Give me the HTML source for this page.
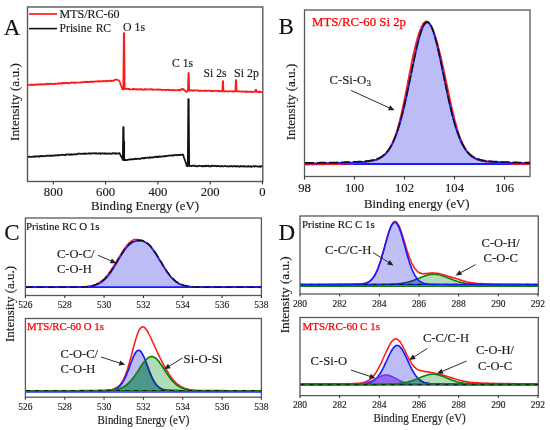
<!DOCTYPE html>
<html><head><meta charset="utf-8"><style>
html,body{margin:0;padding:0;background:#fff;}
body{width:550px;height:430px;overflow:hidden;}
svg{display:block;font-family:"Liberation Serif",serif;filter:blur(0.3px);}
</style></head><body>
<svg width="550" height="430" viewBox="0 0 550 430">
<rect width="550" height="430" fill="#fff"/>
<rect x="27.50" y="7.00" width="235.30" height="174.50" fill="none" stroke="#585858" stroke-width="1.40"/>
<line x1="53.30" y1="181.50" x2="53.30" y2="184.50" stroke="#333" stroke-width="1.10" />
<text x="53.30" y="196.00" font-size="12.70" fill="#1a1a1a" text-anchor="middle" stroke="#1a1a1a" stroke-width="0.15" >800</text>
<line x1="105.60" y1="181.50" x2="105.60" y2="184.50" stroke="#333" stroke-width="1.10" />
<text x="105.60" y="196.00" font-size="12.70" fill="#1a1a1a" text-anchor="middle" stroke="#1a1a1a" stroke-width="0.15" >600</text>
<line x1="157.90" y1="181.50" x2="157.90" y2="184.50" stroke="#333" stroke-width="1.10" />
<text x="157.90" y="196.00" font-size="12.70" fill="#1a1a1a" text-anchor="middle" stroke="#1a1a1a" stroke-width="0.15" >400</text>
<line x1="210.20" y1="181.50" x2="210.20" y2="184.50" stroke="#333" stroke-width="1.10" />
<text x="210.20" y="196.00" font-size="12.70" fill="#1a1a1a" text-anchor="middle" stroke="#1a1a1a" stroke-width="0.15" >200</text>
<line x1="262.50" y1="181.50" x2="262.50" y2="184.50" stroke="#333" stroke-width="1.10" />
<text x="262.50" y="196.00" font-size="12.70" fill="#1a1a1a" text-anchor="middle" stroke="#1a1a1a" stroke-width="0.15" >0</text>
<text x="145.00" y="209.50" font-size="12.80" fill="#1a1a1a" text-anchor="middle" textLength="108.00" lengthAdjust="spacingAndGlyphs" stroke="#1a1a1a" stroke-width="0.15" >Binding Energy (eV)</text>
<text x="0.00" y="0.00" font-size="13.00" fill="#1a1a1a" text-anchor="middle" textLength="78.00" lengthAdjust="spacingAndGlyphs" stroke="#1a1a1a" stroke-width="0.15" transform="translate(18.6,102) rotate(-90)">Intensity (a.u.)</text>
<text x="3.80" y="34.50" font-size="23.00" fill="#111" text-anchor="start" stroke="#111" stroke-width="0.15" >A</text>
<line x1="29.00" y1="14.00" x2="57.00" y2="14.00" stroke="#ff1a1a" stroke-width="1.70" />
<line x1="29.00" y1="28.60" x2="57.00" y2="28.60" stroke="#111" stroke-width="1.60" />
<text x="59.60" y="17.60" font-size="12.00" fill="#1a1a1a" text-anchor="start" textLength="60.00" lengthAdjust="spacingAndGlyphs" stroke="#1a1a1a" stroke-width="0.15" >MTS/RC-60</text>
<text x="59.60" y="32.30" font-size="12.00" fill="#1a1a1a" text-anchor="start" textLength="51.50" lengthAdjust="spacingAndGlyphs" stroke="#1a1a1a" stroke-width="0.15" word-spacing="1">Prisine RC</text>
<text x="123.00" y="31.00" font-size="12.00" fill="#1a1a1a" text-anchor="start" textLength="22.00" lengthAdjust="spacingAndGlyphs" stroke="#1a1a1a" stroke-width="0.15" >O 1s</text>
<text x="172.00" y="66.60" font-size="12.00" fill="#1a1a1a" text-anchor="start" textLength="21.00" lengthAdjust="spacingAndGlyphs" stroke="#1a1a1a" stroke-width="0.15" >C 1s</text>
<text x="203.60" y="76.60" font-size="12.00" fill="#1a1a1a" text-anchor="start" textLength="23.00" lengthAdjust="spacingAndGlyphs" stroke="#1a1a1a" stroke-width="0.15" >Si 2s</text>
<text x="234.00" y="76.60" font-size="12.00" fill="#1a1a1a" text-anchor="start" textLength="25.00" lengthAdjust="spacingAndGlyphs" stroke="#1a1a1a" stroke-width="0.15" >Si 2p</text>
<path d="M28.0,84.8 28.5,85.0 29.0,84.8 29.5,85.0 30.0,85.0 30.5,84.5 31.0,84.4 31.5,85.1 32.0,84.6 32.5,84.5 33.0,85.2 33.5,84.7 34.0,85.0 34.5,84.7 35.0,84.8 35.5,84.3 36.0,84.7 36.5,84.9 37.0,84.6 37.5,84.7 38.0,84.6 38.5,84.1 39.0,84.7 39.5,84.5 40.0,84.2 40.5,83.9 41.0,84.7 41.5,84.3 42.0,84.5 42.5,84.6 43.0,84.4 43.5,84.6 44.0,84.1 44.5,84.4 45.0,84.1 45.5,84.5 46.0,84.4 46.5,83.7 47.0,83.7 47.5,83.8 48.0,84.4 48.5,83.9 49.0,84.1 49.5,83.7 50.0,83.9 50.5,83.8 51.0,83.7 51.5,83.9 52.0,83.9 52.5,84.1 53.0,83.9 53.5,84.1 54.0,84.0 54.5,84.1 55.0,83.8 55.5,83.3 56.0,83.9 56.5,84.0 57.0,83.9 57.5,83.6 58.0,83.7 58.5,83.2 59.0,83.7 59.5,83.5 60.0,83.2 60.5,83.0 61.0,83.7 61.5,83.7 62.0,82.9 62.5,83.5 63.0,83.1 63.5,82.9 64.0,83.0 64.5,83.4 65.0,83.5 65.5,82.7 66.0,83.2 66.5,82.6 67.0,83.2 67.5,82.9 68.0,83.3 68.5,83.4 69.0,82.9 69.5,83.4 70.0,82.7 70.5,82.5 71.0,82.9 71.5,82.4 72.0,82.5 72.5,82.7 73.0,82.8 73.5,82.4 74.0,82.3 74.5,83.0 75.0,82.5 75.5,83.0 76.0,82.9 76.5,82.4 77.0,82.5 77.5,82.5 78.0,82.6 78.5,82.5 79.0,82.5 79.5,82.5 80.0,82.8 80.5,82.4 81.0,82.3 81.5,82.5 82.0,82.0 82.5,82.1 83.0,82.6 83.5,82.2 84.0,82.2 84.5,81.7 85.0,82.0 85.5,82.2 86.0,81.6 86.5,82.1 87.0,82.1 87.5,81.6 88.0,82.1 88.5,81.9 89.0,82.1 89.5,81.8 90.0,82.1 90.5,82.1 91.0,81.4 91.5,81.4 92.0,81.9 92.5,82.2 93.0,81.5 93.5,81.6 94.0,81.7 94.5,81.5 95.0,81.5 95.5,81.4 96.0,81.4 96.5,81.6 97.0,81.3 97.5,81.4 98.0,81.7 98.5,81.0 99.0,81.5 99.5,81.6 100.0,81.2 100.5,81.1 101.0,81.6 101.5,81.0 102.0,81.0 102.5,81.2 103.0,81.4 103.5,80.8 104.0,81.0 104.5,81.0 105.0,81.4 105.5,81.0 106.0,81.4 106.5,80.7 107.0,80.9 107.5,81.1 108.0,81.3 108.5,80.9 109.0,80.7 109.5,80.5 110.0,80.9 110.5,80.6 111.0,81.1 111.5,81.1 112.0,80.5 112.5,80.5 113.0,81.0 113.5,80.6 114.0,80.6 114.5,80.0 115.0,79.6 115.5,79.6 116.0,79.8 116.5,79.5 117.0,79.7 117.5,79.9 118.0,80.1 118.5,80.3 119.0,80.9 119.5,81.4 120.0,82.4 120.5,84.4 121.0,85.5 121.5,86.8 122.0,88.9 122.5,89.4 123.0,89.3 123.3,89.2 123.8,33.0 124.2,33.0 124.7,89.2 125.0,89.1 125.5,89.0 126.0,88.8 126.5,88.9 127.0,88.8 127.5,88.7 128.0,89.1 128.5,88.9 129.0,89.4 129.5,88.7 130.0,89.5 130.5,89.3 131.0,89.5 131.5,89.5 132.0,89.5 132.5,89.2 133.0,88.7 133.5,89.4 134.0,88.9 134.5,89.0 135.0,89.4 135.5,89.3 136.0,89.2 136.5,89.6 137.0,89.4 137.5,89.1 138.0,89.1 138.5,89.6 139.0,89.3 139.5,89.6 140.0,89.2 140.5,89.1 141.0,89.4 141.5,89.6 142.0,89.1 142.5,89.6 143.0,89.8 143.5,89.7 144.0,89.7 144.5,89.0 145.0,89.6 145.5,89.8 146.0,89.1 146.5,89.3 147.0,89.3 147.5,89.5 148.0,89.4 148.5,89.5 149.0,89.8 149.5,89.1 150.0,89.1 150.5,89.2 151.0,89.2 151.5,89.2 152.0,90.0 152.5,89.9 153.0,89.2 153.5,89.6 154.0,89.5 154.5,89.5 155.0,89.5 155.5,89.8 156.0,89.8 156.5,89.6 157.0,89.4 157.5,89.6 158.0,89.4 158.5,89.8 159.0,89.9 159.5,89.6 160.0,89.4 160.5,89.5 161.0,89.7 161.5,89.9 162.0,90.1 162.5,89.7 163.0,90.1 163.5,90.0 164.0,89.8 164.5,89.8 165.0,89.9 165.5,90.1 166.0,89.8 166.5,90.1 167.0,89.9 167.5,89.7 168.0,90.0 168.5,90.1 169.0,89.6 169.5,89.9 170.0,89.9 170.5,90.3 171.0,90.4 171.5,89.9 172.0,90.4 172.5,90.3 173.0,89.8 173.5,90.0 174.0,89.7 174.5,90.4 175.0,90.2 175.5,90.5 176.0,90.4 176.5,90.3 177.0,90.3 177.5,90.2 178.0,89.8 178.5,90.3 179.0,89.7 179.5,89.9 180.0,90.5 180.5,89.6 181.0,89.4 181.5,89.2 182.0,89.6 182.5,88.8 183.0,88.9 183.5,89.9 184.0,89.5 184.5,90.4 185.0,90.6 185.5,91.2 186.0,91.6 186.5,91.7 187.0,92.0 187.5,90.9 187.9,91.0 188.4,73.3 188.8,73.0 189.2,90.4 189.5,90.1 190.0,90.6 190.5,90.8 191.0,90.1 191.5,90.3 192.0,90.5 192.5,90.8 193.0,90.3 193.5,90.2 194.0,90.3 194.5,90.6 195.0,90.8 195.5,90.4 196.0,90.4 196.5,90.5 197.0,90.4 197.5,90.5 198.0,90.2 198.5,90.6 199.0,91.0 199.5,90.6 200.0,90.9 200.5,90.3 201.0,90.8 201.5,90.9 202.0,90.8 202.5,90.7 203.0,90.7 203.5,90.8 204.0,91.1 204.5,90.4 205.0,90.4 205.5,91.0 206.0,91.1 206.5,90.8 207.0,90.7 207.5,91.0 208.0,90.5 208.5,90.6 209.0,90.6 209.5,90.9 210.0,90.7 210.5,90.6 211.0,91.1 211.5,91.3 212.0,90.7 212.5,91.1 213.0,90.8 213.5,91.3 214.0,91.0 214.5,90.8 215.0,90.7 215.5,90.6 216.0,91.0 216.5,90.9 217.0,90.7 217.5,90.9 218.0,90.9 218.5,91.3 219.0,90.7 219.5,91.5 220.0,91.1 220.5,91.2 221.0,91.1 221.5,91.4 222.0,91.4 222.3,91.1 222.8,81.0 223.1,81.0 223.5,91.1 223.5,91.4 224.0,91.5 224.5,91.1 225.0,91.4 225.5,91.6 226.0,91.2 226.5,91.0 227.0,91.0 227.5,91.4 228.0,91.4 228.5,91.7 229.0,91.6 229.5,91.1 230.0,91.0 230.5,91.1 231.0,91.0 231.5,91.5 232.0,91.7 232.5,91.7 233.0,91.1 233.5,91.7 234.0,91.2 234.5,91.3 235.0,91.6 235.4,91.1 235.8,80.0 236.2,80.0 236.6,91.1 237.0,91.3 237.5,91.3 238.0,91.5 238.5,91.6 239.0,91.1 239.5,91.4 240.0,91.5 240.5,91.5 241.0,91.3 241.5,91.6 242.0,92.0 242.5,91.5 243.0,91.6 243.5,91.3 244.0,91.4 244.5,91.8 245.0,91.3 245.5,92.0 246.0,92.0 246.5,91.3 247.0,92.1 247.5,91.6 248.0,91.9 248.5,91.9 249.0,91.5 249.5,91.9 250.0,91.9 250.5,92.0 251.0,91.5 251.5,92.0 252.0,92.2 252.5,91.9 253.0,91.8 253.5,91.5 254.0,91.8 254.5,91.7 255.0,92.0 255.3,91.9 255.8,89.5 256.1,89.5 256.7,91.9 257.0,92.0 257.5,92.0 258.0,91.6 258.5,92.3 259.0,92.1 259.5,91.6 260.0,92.3 260.5,91.6 261.0,91.8 261.5,92.2 262.0,92.1 262.5,92.1" fill="none" stroke="#ff1a1a" stroke-width="1.7" stroke-linejoin="round"/>
<path d="M28.0,157.1 28.5,156.9 29.0,156.8 29.5,156.7 30.0,156.5 30.5,157.0 31.0,157.0 31.5,156.8 32.0,157.0 32.5,156.6 33.0,156.5 33.5,156.6 34.0,156.9 34.5,156.2 35.0,156.6 35.5,156.4 36.0,156.7 36.5,156.4 37.0,156.3 37.5,156.4 38.0,156.4 38.5,156.6 39.0,156.2 39.5,156.6 40.0,156.0 40.5,156.1 41.0,155.9 41.5,155.9 42.0,156.4 42.5,156.3 43.0,155.9 43.5,155.8 44.0,156.0 44.5,156.2 45.0,156.2 45.5,156.2 46.0,156.0 46.5,155.6 47.0,155.8 47.5,155.6 48.0,155.8 48.5,155.8 49.0,155.5 49.5,155.5 50.0,155.9 50.5,155.3 51.0,155.9 51.5,155.9 52.0,155.9 52.5,155.4 53.0,155.6 53.5,155.5 54.0,155.6 54.5,155.8 55.0,155.5 55.5,155.2 56.0,155.6 56.5,155.3 57.0,155.4 57.5,155.4 58.0,154.8 58.5,155.4 59.0,155.3 59.5,155.1 60.0,155.1 60.5,155.0 61.0,154.8 61.5,155.0 62.0,154.6 62.5,154.9 63.0,155.0 63.5,154.8 64.0,154.9 64.5,155.2 65.0,155.1 65.5,154.5 66.0,155.0 66.5,154.8 67.0,154.3 67.5,154.5 68.0,154.4 68.5,154.2 69.0,154.6 69.5,154.9 70.0,154.4 70.5,154.8 71.0,154.6 71.5,154.1 72.0,154.7 72.5,154.4 73.0,154.7 73.5,154.5 74.0,154.4 74.5,154.1 75.0,154.4 75.5,154.5 76.0,154.4 76.5,154.1 77.0,154.3 77.5,154.0 78.0,153.7 78.5,153.6 79.0,153.6 79.5,153.7 80.0,153.6 80.5,153.9 81.0,154.0 81.5,153.8 82.0,153.7 82.5,153.9 83.0,153.6 83.5,153.7 84.0,153.9 84.5,153.6 85.0,153.3 85.5,153.9 86.0,153.8 86.5,153.5 87.0,153.5 87.5,153.6 88.0,153.7 88.5,153.4 89.0,153.2 89.5,153.4 90.0,153.8 90.5,153.3 91.0,153.6 91.5,153.4 92.0,153.4 92.5,153.3 93.0,153.5 93.5,153.3 94.0,153.2 94.5,153.3 95.0,153.3 95.5,153.6 96.0,153.2 96.5,153.2 97.0,153.6 97.5,153.5 98.0,153.8 98.5,153.2 99.0,153.5 99.5,153.5 100.0,153.2 100.5,154.0 101.0,153.4 101.5,153.3 102.0,153.6 102.5,153.3 103.0,153.7 103.5,153.5 104.0,153.3 104.5,153.2 105.0,153.8 105.5,153.4 106.0,153.8 106.5,153.6 107.0,153.9 107.5,153.4 108.0,153.4 108.5,153.4 109.0,153.9 109.5,153.7 110.0,153.5 110.5,153.3 111.0,153.7 111.5,154.0 112.0,153.7 112.5,153.2 113.0,153.2 113.5,153.3 114.0,153.3 114.5,153.2 115.0,153.2 115.5,153.7 116.0,153.9 116.5,153.4 117.0,153.7 117.5,153.3 118.0,153.5 118.5,153.6 119.0,153.7 119.5,152.9 120.0,154.1 120.5,155.2 121.0,156.4 121.5,156.6 122.0,157.7 122.5,159.1 122.8,160.1 123.2,127.0 123.6,127.0 124.0,160.1 124.5,160.2 125.0,160.3 125.5,159.7 126.0,160.1 126.5,160.0 127.0,160.1 127.5,159.8 128.0,160.0 128.5,159.6 129.0,159.5 129.5,159.3 130.0,159.7 130.5,159.5 131.0,159.2 131.5,159.1 132.0,159.5 132.5,159.4 133.0,159.4 133.5,159.1 134.0,159.1 134.5,158.8 135.0,159.2 135.5,158.6 136.0,158.9 136.5,159.1 137.0,159.0 137.5,158.5 138.0,158.5 138.5,159.0 139.0,158.8 139.5,158.9 140.0,158.8 140.5,158.5 141.0,158.8 141.5,158.6 142.0,158.2 142.5,158.2 143.0,157.9 143.5,158.1 144.0,158.5 144.5,157.8 145.0,158.1 145.5,157.7 146.0,157.6 146.5,158.0 147.0,157.7 147.5,157.5 148.0,157.5 148.5,157.8 149.0,157.8 149.5,157.2 150.0,157.4 150.5,157.9 151.0,157.3 151.5,157.5 152.0,157.3 152.5,157.6 153.0,157.4 153.5,157.5 154.0,157.2 154.5,156.9 155.0,156.8 155.5,156.7 156.0,157.3 156.5,156.6 157.0,156.5 157.5,157.2 158.0,156.6 158.5,157.1 159.0,156.4 159.5,156.6 160.0,156.4 160.5,156.8 161.0,156.6 161.5,156.6 162.0,156.6 162.5,156.7 163.0,156.2 163.5,156.4 164.0,156.2 164.5,155.9 165.0,156.4 165.5,156.2 166.0,156.3 166.5,155.8 167.0,156.0 167.5,155.9 168.0,156.0 168.5,155.5 169.0,155.6 169.5,155.7 170.0,155.3 170.5,155.6 171.0,155.7 171.5,155.4 172.0,155.6 172.5,155.5 173.0,155.1 173.5,155.2 174.0,155.7 174.5,155.1 175.0,155.1 175.5,154.8 176.0,154.9 176.5,154.8 177.0,155.3 177.5,155.1 178.0,155.2 178.5,155.2 179.0,154.9 179.5,155.1 180.0,154.7 180.5,154.6 181.0,155.0 181.5,154.9 182.0,154.9 182.5,154.4 183.0,154.6 183.5,155.8 184.0,157.7 184.5,159.1 185.0,160.1 185.5,162.0 186.0,162.9 186.5,165.5 187.0,166.1 187.5,165.7 187.8,166.0 188.3,99.0 188.7,99.0 189.2,166.0 189.5,166.1 190.0,165.7 190.5,165.9 191.0,165.8 191.5,166.1 192.0,166.1 192.5,165.8 193.0,165.6 193.5,165.8 194.0,165.9 194.5,165.6 195.0,165.7 195.5,166.2 196.0,166.1 196.5,166.3 197.0,166.3 197.5,166.3 198.0,165.9 198.5,165.7 199.0,165.8 199.5,165.9 200.0,166.0 200.5,166.0 201.0,165.9 201.5,166.3 202.0,165.8 202.5,166.0 203.0,166.3 203.5,166.3 204.0,165.9 204.5,165.8 205.0,166.3 205.5,165.6 206.0,165.7 206.5,166.1 207.0,166.1 207.5,165.8 208.0,165.7 208.5,165.8 209.0,166.3 209.5,166.0 210.0,166.5 210.5,166.3 211.0,166.5 211.5,165.7 212.0,165.8 212.5,165.7 213.0,166.0 213.5,166.0 214.0,165.7 214.5,166.1 215.0,165.8 215.5,166.0 216.0,165.9 216.5,166.4 217.0,166.1 217.5,165.9 218.0,165.8 218.5,166.1 219.0,166.2 219.5,166.3 220.0,166.5 220.5,166.4 221.0,166.0 221.5,165.9 222.0,166.4 222.5,166.4 223.0,166.2 223.5,166.4 224.0,166.2 224.5,166.0 225.0,165.9 225.5,165.8 226.0,166.3 226.5,166.5 227.0,166.5 227.5,166.2 228.0,166.3 228.5,166.6 229.0,166.5 229.5,166.3 230.0,166.2 230.5,166.3 231.0,166.0 231.5,166.0 232.0,166.4 232.5,166.6 233.0,166.3 233.5,166.2 234.0,166.1 234.5,166.2 235.0,166.5 235.5,166.2 236.0,166.7 236.5,166.0 237.0,166.1 237.5,166.3 238.0,166.2 238.5,166.6 239.0,166.6 239.5,166.7 240.0,166.4 240.5,165.9 241.0,166.4 241.5,166.4 242.0,166.3 242.5,166.2 243.0,166.5 243.5,166.7 244.0,166.0 244.5,166.5 245.0,166.3 245.5,166.4 246.0,166.7 246.5,166.7 247.0,166.5 247.5,166.1 248.0,166.7 248.5,166.1 249.0,166.3 249.5,166.7 250.0,166.3 250.5,166.2 251.0,166.8 251.5,166.8 252.0,166.3 252.5,166.3 253.0,166.3 253.5,166.1 254.0,166.2 254.5,166.8 255.0,166.1 255.5,166.2 256.0,166.2 256.5,166.1 257.0,166.5 257.5,166.7 258.0,166.7 258.5,166.6 259.0,166.7 259.5,166.1 260.0,166.3 260.5,166.9 261.0,166.1 261.5,166.3 262.0,166.5 262.5,166.3" fill="none" stroke="#111" stroke-width="1.7" stroke-linejoin="round"/>
<line x1="124.50" y1="159.50" x2="124.50" y2="141.00" stroke="#111" stroke-width="1.10" />
<rect x="304.50" y="10.00" width="225.50" height="166.50" fill="none" stroke="#585858" stroke-width="1.30"/>
<line x1="304.50" y1="176.50" x2="304.50" y2="179.50" stroke="#333" stroke-width="1.10" />
<text x="304.50" y="192.20" font-size="12.70" fill="#1a1a1a" text-anchor="middle" stroke="#1a1a1a" stroke-width="0.15" >98</text>
<line x1="354.50" y1="176.50" x2="354.50" y2="179.50" stroke="#333" stroke-width="1.10" />
<text x="354.50" y="192.20" font-size="12.70" fill="#1a1a1a" text-anchor="middle" stroke="#1a1a1a" stroke-width="0.15" >100</text>
<line x1="404.50" y1="176.50" x2="404.50" y2="179.50" stroke="#333" stroke-width="1.10" />
<text x="404.50" y="192.20" font-size="12.70" fill="#1a1a1a" text-anchor="middle" stroke="#1a1a1a" stroke-width="0.15" >102</text>
<line x1="454.50" y1="176.50" x2="454.50" y2="179.50" stroke="#333" stroke-width="1.10" />
<text x="454.50" y="192.20" font-size="12.70" fill="#1a1a1a" text-anchor="middle" stroke="#1a1a1a" stroke-width="0.15" >104</text>
<line x1="504.50" y1="176.50" x2="504.50" y2="179.50" stroke="#333" stroke-width="1.10" />
<text x="504.50" y="192.20" font-size="12.70" fill="#1a1a1a" text-anchor="middle" stroke="#1a1a1a" stroke-width="0.15" >106</text>
<text x="416.80" y="207.50" font-size="12.80" fill="#1a1a1a" text-anchor="middle" textLength="105.50" lengthAdjust="spacingAndGlyphs" stroke="#1a1a1a" stroke-width="0.15" >Binding energy (eV)</text>
<text x="0.00" y="0.00" font-size="12.80" fill="#1a1a1a" text-anchor="middle" textLength="76.50" lengthAdjust="spacingAndGlyphs" stroke="#1a1a1a" stroke-width="0.15" transform="translate(294.6,102) rotate(-90)">Intensity (a.u.)</text>
<text x="278.40" y="34.00" font-size="23.00" fill="#111" text-anchor="start" stroke="#111" stroke-width="0.15" >B</text>
<text x="312.00" y="26.00" font-size="12.80" fill="#ff0000" text-anchor="start" textLength="94.00" lengthAdjust="spacingAndGlyphs" stroke="#ff0000" stroke-width="0.25" >MTS/RC-60 Si 2p</text>
<path d="M305.0,164.0 305.0,163.4 305.5,163.4 306.0,163.4 306.5,163.4 307.0,163.4 307.5,163.4 308.0,163.4 308.5,163.4 309.0,163.4 309.5,163.4 310.0,163.4 310.5,163.4 311.0,163.3 311.5,163.3 312.0,163.3 312.5,163.3 313.0,163.3 313.5,163.3 314.0,163.3 314.5,163.3 315.0,163.3 315.5,163.3 316.0,163.3 316.5,163.3 317.0,163.3 317.5,163.3 318.0,163.3 318.5,163.3 319.0,163.3 319.5,163.2 320.0,163.2 320.5,163.2 321.0,163.2 321.5,163.2 322.0,163.2 322.5,163.2 323.0,163.2 323.5,163.2 324.0,163.2 324.5,163.2 325.0,163.2 325.5,163.2 326.0,163.1 326.5,163.1 327.0,163.1 327.5,163.1 328.0,163.1 328.5,163.1 329.0,163.1 329.5,163.1 330.0,163.1 330.5,163.1 331.0,163.1 331.5,163.1 332.0,163.0 332.5,163.0 333.0,163.0 333.5,163.0 334.0,163.0 334.5,163.0 335.0,163.0 335.5,163.0 336.0,163.0 336.5,163.0 337.0,162.9 337.5,162.9 338.0,162.9 338.5,162.9 339.0,162.9 339.5,162.9 340.0,162.9 340.5,162.9 341.0,162.8 341.5,162.8 342.0,162.8 342.5,162.8 343.0,162.8 343.5,162.8 344.0,162.8 344.5,162.7 345.0,162.7 345.5,162.7 346.0,162.7 346.5,162.7 347.0,162.7 347.5,162.7 348.0,162.6 348.5,162.6 349.0,162.6 349.5,162.6 350.0,162.6 350.5,162.6 351.0,162.5 351.5,162.5 352.0,162.5 352.5,162.5 353.0,162.5 353.5,162.4 354.0,162.4 354.5,162.4 355.0,162.4 355.5,162.3 356.0,162.3 356.5,162.3 357.0,162.3 357.5,162.3 358.0,162.2 358.5,162.2 359.0,162.2 359.5,162.1 360.0,162.1 360.5,162.1 361.0,162.0 361.5,162.0 362.0,162.0 362.5,161.9 363.0,161.9 363.5,161.9 364.0,161.8 364.5,161.8 365.0,161.7 365.5,161.7 366.0,161.6 366.5,161.6 367.0,161.5 367.5,161.5 368.0,161.4 368.5,161.3 369.0,161.3 369.5,161.2 370.0,161.1 370.5,161.0 371.0,161.0 371.5,160.9 372.0,160.8 372.5,160.7 373.0,160.6 373.5,160.4 374.0,160.3 374.5,160.2 375.0,160.0 375.5,159.9 376.0,159.7 376.5,159.6 377.0,159.4 377.5,159.2 378.0,159.0 378.5,158.8 379.0,158.6 379.5,158.3 380.0,158.1 380.5,157.8 381.0,157.5 381.5,157.2 382.0,156.8 382.5,156.5 383.0,156.1 383.5,155.7 384.0,155.3 384.5,154.9 385.0,154.4 385.5,153.9 386.0,153.4 386.5,152.9 387.0,152.3 387.5,151.7 388.0,151.0 388.5,150.4 389.0,149.6 389.5,148.9 390.0,148.1 390.5,147.3 391.0,146.4 391.5,145.5 392.0,144.6 392.5,143.6 393.0,142.6 393.5,141.5 394.0,140.4 394.5,139.2 395.0,138.0 395.5,136.7 396.0,135.4 396.5,134.0 397.0,132.6 397.5,131.2 398.0,129.6 398.5,128.1 399.0,126.5 399.5,124.8 400.0,123.1 400.5,121.3 401.0,119.5 401.5,117.6 402.0,115.7 402.5,113.7 403.0,111.7 403.5,109.7 404.0,107.6 404.5,105.4 405.0,103.3 405.5,101.0 406.0,98.8 406.5,96.5 407.0,94.2 407.5,91.8 408.0,89.5 408.5,87.1 409.0,84.7 409.5,82.2 410.0,79.8 410.5,77.4 411.0,74.9 411.5,72.5 412.0,70.0 412.5,67.6 413.0,65.1 413.5,62.7 414.0,60.3 414.5,58.0 415.0,55.7 415.5,53.4 416.0,51.1 416.5,48.9 417.0,46.8 417.5,44.7 418.0,42.7 418.5,40.7 419.0,38.8 419.5,37.0 420.0,35.3 420.5,33.7 421.0,32.1 421.5,30.7 422.0,29.4 422.5,28.1 423.0,27.0 423.5,26.0 424.0,25.2 424.5,24.4 425.0,23.8 425.5,23.3 426.0,22.9 426.5,22.6 427.0,22.5 427.5,22.5 428.0,22.7 428.5,22.9 429.0,23.3 429.5,23.9 430.0,24.5 430.5,25.3 431.0,26.2 431.5,27.2 432.0,28.4 432.5,29.6 433.0,31.0 433.5,32.4 434.0,34.0 434.5,35.6 435.0,37.4 435.5,39.2 436.0,41.1 436.5,43.1 437.0,45.1 437.5,47.2 438.0,49.4 438.5,51.6 439.0,53.8 439.5,56.1 440.0,58.5 440.5,60.8 441.0,63.2 441.5,65.6 442.0,68.1 442.5,70.5 443.0,72.9 443.5,75.4 444.0,77.8 444.5,80.3 445.0,82.7 445.5,85.1 446.0,87.6 446.5,89.9 447.0,92.3 447.5,94.7 448.0,97.0 448.5,99.2 449.0,101.5 449.5,103.7 450.0,105.9 450.5,108.0 451.0,110.1 451.5,112.1 452.0,114.1 452.5,116.1 453.0,118.0 453.5,119.9 454.0,121.7 454.5,123.4 455.0,125.1 455.5,126.8 456.0,128.4 456.5,130.0 457.0,131.5 457.5,132.9 458.0,134.3 458.5,135.7 459.0,137.0 459.5,138.2 460.0,139.4 460.5,140.6 461.0,141.7 461.5,142.8 462.0,143.8 462.5,144.8 463.0,145.7 463.5,146.6 464.0,147.5 464.5,148.3 465.0,149.1 465.5,149.8 466.0,150.5 466.5,151.2 467.0,151.8 467.5,152.4 468.0,153.0 468.5,153.5 469.0,154.0 469.5,154.5 470.0,155.0 470.5,155.4 471.0,155.8 471.5,156.2 472.0,156.6 472.5,156.9 473.0,157.2 473.5,157.5 474.0,157.8 474.5,158.1 475.0,158.4 475.5,158.6 476.0,158.8 476.5,159.0 477.0,159.2 477.5,159.4 478.0,159.6 478.5,159.8 479.0,159.9 479.5,160.1 480.0,160.2 480.5,160.3 481.0,160.5 481.5,160.6 482.0,160.7 482.5,160.8 483.0,160.9 483.5,161.0 484.0,161.1 484.5,161.1 485.0,161.2 485.5,161.3 486.0,161.4 486.5,161.4 487.0,161.5 487.5,161.5 488.0,161.6 488.5,161.6 489.0,161.7 489.5,161.7 490.0,161.8 490.5,161.8 491.0,161.9 491.5,161.9 492.0,161.9 492.5,162.0 493.0,162.0 493.5,162.1 494.0,162.1 494.5,162.1 495.0,162.1 495.5,162.2 496.0,162.2 496.5,162.2 497.0,162.3 497.5,162.3 498.0,162.3 498.5,162.3 499.0,162.4 499.5,162.4 500.0,162.4 500.5,162.4 501.0,162.4 501.5,162.5 502.0,162.5 502.5,162.5 503.0,162.5 503.5,162.5 504.0,162.6 504.5,162.6 505.0,162.6 505.5,162.6 506.0,162.6 506.5,162.6 507.0,162.7 507.5,162.7 508.0,162.7 508.5,162.7 509.0,162.7 509.5,162.7 510.0,162.8 510.5,162.8 511.0,162.8 511.5,162.8 512.0,162.8 512.5,162.8 513.0,162.8 513.5,162.8 514.0,162.9 514.5,162.9 515.0,162.9 515.5,162.9 516.0,162.9 516.5,162.9 517.0,162.9 517.5,162.9 518.0,163.0 518.5,163.0 519.0,163.0 519.5,163.0 520.0,163.0 520.5,163.0 521.0,163.0 521.5,163.0 522.0,163.0 522.5,163.0 523.0,163.1 523.5,163.1 524.0,163.1 524.5,163.1 525.0,163.1 525.5,163.1 526.0,163.1 526.5,163.1 527.0,163.1 527.5,163.1 528.0,163.1 528.5,163.2 529.0,163.2 529.5,163.2 530.0,163.2 530.0,164.0 Z" fill="#bcbcf6" stroke="none"/>
<line x1="305.00" y1="164.00" x2="530.00" y2="164.00" stroke="#1a1aff" stroke-width="1.80" />
<path d="M305.0,164.3 305.5,164.0 306.0,164.1 306.5,164.6 307.0,164.1 307.5,164.5 308.0,164.1 308.5,164.6 309.0,164.4 309.5,164.4 310.0,164.0 310.5,164.0 311.0,164.4 311.5,164.0 312.0,164.1 312.5,164.4 313.0,164.5 313.5,163.9 314.0,164.5 314.5,164.2 315.0,164.1 315.5,164.0 316.0,164.1 316.5,164.5 317.0,164.0 317.5,164.0 318.0,164.0 318.5,163.9 319.0,164.1 319.5,164.4 320.0,163.9 320.5,163.9 321.0,164.4 321.5,164.4 322.0,164.4 322.5,164.0 323.0,164.0 323.5,164.4 324.0,164.1 324.5,164.2 325.0,164.0 325.5,163.8 326.0,164.0 326.5,164.2 327.0,164.2 327.5,164.1 328.0,164.0 328.5,164.0 329.0,164.0 329.5,164.0 330.0,164.2 330.5,163.8 331.0,164.0 331.5,164.2 332.0,164.2 332.5,163.7 333.0,164.2 333.5,164.1 334.0,163.7 334.5,163.8 335.0,163.7 335.5,163.6 336.0,164.1 336.5,163.8 337.0,164.1 337.5,163.6 338.0,163.5 338.5,164.0 339.0,164.0 339.5,164.1 340.0,163.9 340.5,163.8 341.0,163.9 341.5,163.5 342.0,163.7 342.5,163.7 343.0,163.5 343.5,163.7 344.0,163.6 344.5,163.7 345.0,163.6 345.5,163.5 346.0,163.5 346.5,163.6 347.0,163.9 347.5,163.8 348.0,163.8 348.5,163.7 349.0,163.4 349.5,163.8 350.0,163.3 350.5,163.2 351.0,163.4 351.5,163.5 352.0,163.2 352.5,163.4 353.0,163.1 353.5,163.5 354.0,163.1 354.5,163.1 355.0,163.1 355.5,163.2 356.0,163.2 356.5,162.9 357.0,162.8 357.5,162.9 358.0,162.5 358.5,162.7 359.0,162.9 359.5,162.8 360.0,162.3 360.5,162.7 361.0,162.4 361.5,162.7 362.0,162.3 362.5,162.1 363.0,162.2 363.5,162.4 364.0,162.1 364.5,162.2 365.0,162.1 365.5,161.8 366.0,161.7 366.5,161.7 367.0,161.6 367.5,161.5 368.0,161.6 368.5,161.6 369.0,161.4 369.5,161.0 370.0,161.0 370.5,161.0 371.0,161.0 371.5,160.6 372.0,160.5 372.5,160.6 373.0,160.4 373.5,160.2 374.0,160.3 374.5,160.4 375.0,160.1 375.5,160.0 376.0,159.9 376.5,159.8 377.0,159.6 377.5,159.2 378.0,159.1 378.5,158.5 379.0,158.8 379.5,158.2 380.0,158.0 380.5,158.0 381.0,157.3 381.5,157.0 382.0,157.0 382.5,156.5 383.0,155.8 383.5,155.4 384.0,155.2 384.5,154.5 385.0,154.5 385.5,153.7 386.0,153.2 386.5,152.7 387.0,152.2 387.5,151.5 388.0,150.9 388.5,150.2 389.0,149.4 389.5,148.4 390.0,148.1 390.5,147.0 391.0,145.8 391.5,145.0 392.0,144.2 392.5,143.2 393.0,141.6 393.5,140.4 394.0,139.4 394.5,138.1 395.0,137.0 395.5,135.6 396.0,133.8 396.5,132.3 397.0,130.8 397.5,129.4 398.0,127.2 398.5,125.6 399.0,123.5 399.5,121.9 400.0,119.6 400.5,118.1 401.0,115.7 401.5,113.6 402.0,111.1 402.5,108.9 403.0,106.8 403.5,104.6 404.0,102.0 404.5,99.4 405.0,97.3 405.5,94.6 406.0,92.0 406.5,89.3 407.0,86.7 407.5,84.5 408.0,81.4 408.5,79.1 409.0,76.6 409.5,73.8 410.0,71.5 410.5,69.1 411.0,66.5 411.5,64.0 412.0,61.2 412.5,58.7 413.0,56.6 413.5,54.3 414.0,52.0 414.5,50.2 415.0,47.7 415.5,46.0 416.0,44.1 416.5,41.7 417.0,40.3 417.5,38.2 418.0,36.4 418.5,34.8 419.0,33.2 419.5,32.0 420.0,30.5 420.5,29.5 421.0,28.3 421.5,26.7 422.0,25.9 422.5,25.0 423.0,24.0 423.5,23.4 424.0,22.8 424.5,22.5 425.0,21.9 425.5,21.5 426.0,21.4 426.5,21.5 427.0,21.7 427.5,21.7 428.0,22.2 428.5,22.3 429.0,23.1 429.5,23.6 430.0,24.0 430.5,25.1 431.0,25.8 431.5,26.8 432.0,27.8 432.5,28.9 433.0,30.0 433.5,31.0 434.0,32.8 434.5,34.2 435.0,35.5 435.5,37.1 436.0,38.5 436.5,40.6 437.0,42.2 437.5,43.7 438.0,45.9 438.5,47.9 439.0,49.5 439.5,51.9 440.0,53.7 440.5,55.6 441.0,58.1 441.5,60.0 442.0,62.5 442.5,64.7 443.0,66.6 443.5,69.2 444.0,71.7 444.5,73.8 445.0,76.2 445.5,78.8 446.0,80.9 446.5,83.3 447.0,85.8 447.5,88.3 448.0,90.3 448.5,92.6 449.0,95.3 449.5,97.5 450.0,99.7 450.5,102.3 451.0,104.6 451.5,106.6 452.0,109.0 452.5,111.1 453.0,113.2 453.5,115.0 454.0,116.8 454.5,119.2 455.0,121.2 455.5,122.8 456.0,124.7 456.5,126.5 457.0,128.1 457.5,130.0 458.0,131.5 458.5,133.0 459.0,134.3 459.5,136.0 460.0,137.3 460.5,138.8 461.0,139.8 461.5,141.1 462.0,142.2 462.5,143.4 463.0,144.6 463.5,145.3 464.0,146.2 464.5,147.4 465.0,148.1 465.5,149.1 466.0,149.7 466.5,150.4 467.0,151.3 467.5,152.2 468.0,152.8 468.5,153.2 469.0,153.7 469.5,154.0 470.0,154.6 470.5,155.1 471.0,155.9 471.5,155.8 472.0,156.7 472.5,156.8 473.0,157.1 473.5,157.3 474.0,158.0 474.5,157.9 475.0,158.3 475.5,158.6 476.0,158.6 476.5,158.8 477.0,159.5 477.5,159.6 478.0,159.7 478.5,160.0 479.0,159.7 479.5,160.2 480.0,160.4 480.5,160.2 481.0,160.4 481.5,160.9 482.0,160.6 482.5,160.9 483.0,160.7 483.5,161.1 484.0,160.9 484.5,161.1 485.0,161.1 485.5,161.5 486.0,161.5 486.5,161.4 487.0,161.6 487.5,161.5 488.0,161.8 488.5,161.5 489.0,161.7 489.5,161.8 490.0,161.7 490.5,161.6 491.0,161.7 491.5,162.0 492.0,161.8 492.5,162.1 493.0,162.0 493.5,162.3 494.0,162.3 494.5,162.3 495.0,162.1 495.5,161.9 496.0,162.2 496.5,162.4 497.0,162.5 497.5,162.1 498.0,162.1 498.5,162.6 499.0,162.5 499.5,162.4 500.0,162.5 500.5,162.2 501.0,162.5 501.5,162.7 502.0,162.7 502.5,162.4 503.0,162.5 503.5,162.8 504.0,163.0 504.5,162.6 505.0,162.6 505.5,162.7 506.0,163.2 506.5,163.0 507.0,163.1 507.5,163.4 508.0,163.2 508.5,163.1 509.0,163.4 509.5,163.0 510.0,163.2 510.5,163.5 511.0,163.2 511.5,163.2 512.0,163.5 512.5,163.5 513.0,163.9 513.5,163.4 514.0,163.9 514.5,163.7 515.0,164.0 515.5,163.8 516.0,163.9 516.5,163.7 517.0,163.7 517.5,163.8 518.0,164.0 518.5,163.8 519.0,163.7 519.5,163.8 520.0,163.7 520.5,163.8 521.0,164.0 521.5,164.0 522.0,164.0 522.5,163.8 523.0,163.7 523.5,163.7 524.0,163.9 524.5,163.8 525.0,164.0 525.5,163.9 526.0,164.2 526.5,164.1 527.0,164.1 527.5,164.2 528.0,164.1 528.5,164.0 529.0,163.9 529.5,163.8 530.0,164.3" fill="none" stroke="#ff1a1a" stroke-width="1.8"/>
<path d="M305.0,163.4 305.5,163.4 306.0,163.4 306.5,163.4 307.0,163.4 307.5,163.4 308.0,163.4 308.5,163.4 309.0,163.4 309.5,163.4 310.0,163.4 310.5,163.4 311.0,163.3 311.5,163.3 312.0,163.3 312.5,163.3 313.0,163.3 313.5,163.3 314.0,163.3 314.5,163.3 315.0,163.3 315.5,163.3 316.0,163.3 316.5,163.3 317.0,163.3 317.5,163.3 318.0,163.3 318.5,163.3 319.0,163.3 319.5,163.2 320.0,163.2 320.5,163.2 321.0,163.2 321.5,163.2 322.0,163.2 322.5,163.2 323.0,163.2 323.5,163.2 324.0,163.2 324.5,163.2 325.0,163.2 325.5,163.2 326.0,163.1 326.5,163.1 327.0,163.1 327.5,163.1 328.0,163.1 328.5,163.1 329.0,163.1 329.5,163.1 330.0,163.1 330.5,163.1 331.0,163.1 331.5,163.1 332.0,163.0 332.5,163.0 333.0,163.0 333.5,163.0 334.0,163.0 334.5,163.0 335.0,163.0 335.5,163.0 336.0,163.0 336.5,163.0 337.0,162.9 337.5,162.9 338.0,162.9 338.5,162.9 339.0,162.9 339.5,162.9 340.0,162.9 340.5,162.9 341.0,162.8 341.5,162.8 342.0,162.8 342.5,162.8 343.0,162.8 343.5,162.8 344.0,162.8 344.5,162.7 345.0,162.7 345.5,162.7 346.0,162.7 346.5,162.7 347.0,162.7 347.5,162.7 348.0,162.6 348.5,162.6 349.0,162.6 349.5,162.6 350.0,162.6 350.5,162.6 351.0,162.5 351.5,162.5 352.0,162.5 352.5,162.5 353.0,162.5 353.5,162.4 354.0,162.4 354.5,162.4 355.0,162.4 355.5,162.3 356.0,162.3 356.5,162.3 357.0,162.3 357.5,162.3 358.0,162.2 358.5,162.2 359.0,162.2 359.5,162.1 360.0,162.1 360.5,162.1 361.0,162.0 361.5,162.0 362.0,162.0 362.5,161.9 363.0,161.9 363.5,161.9 364.0,161.8 364.5,161.8 365.0,161.7 365.5,161.7 366.0,161.6 366.5,161.6 367.0,161.5 367.5,161.5 368.0,161.4 368.5,161.3 369.0,161.3 369.5,161.2 370.0,161.1 370.5,161.0 371.0,161.0 371.5,160.9 372.0,160.8 372.5,160.7 373.0,160.6 373.5,160.4 374.0,160.3 374.5,160.2 375.0,160.0 375.5,159.9 376.0,159.7 376.5,159.6 377.0,159.4 377.5,159.2 378.0,159.0 378.5,158.8 379.0,158.6 379.5,158.3 380.0,158.1 380.5,157.8 381.0,157.5 381.5,157.2 382.0,156.8 382.5,156.5 383.0,156.1 383.5,155.7 384.0,155.3 384.5,154.9 385.0,154.4 385.5,153.9 386.0,153.4 386.5,152.9 387.0,152.3 387.5,151.7 388.0,151.0 388.5,150.4 389.0,149.6 389.5,148.9 390.0,148.1 390.5,147.3 391.0,146.4 391.5,145.5 392.0,144.6 392.5,143.6 393.0,142.6 393.5,141.5 394.0,140.4 394.5,139.2 395.0,138.0 395.5,136.7 396.0,135.4 396.5,134.0 397.0,132.6 397.5,131.2 398.0,129.6 398.5,128.1 399.0,126.5 399.5,124.8 400.0,123.1 400.5,121.3 401.0,119.5 401.5,117.6 402.0,115.7 402.5,113.7 403.0,111.7 403.5,109.7 404.0,107.6 404.5,105.4 405.0,103.3 405.5,101.0 406.0,98.8 406.5,96.5 407.0,94.2 407.5,91.8 408.0,89.5 408.5,87.1 409.0,84.7 409.5,82.2 410.0,79.8 410.5,77.4 411.0,74.9 411.5,72.5 412.0,70.0 412.5,67.6 413.0,65.1 413.5,62.7 414.0,60.3 414.5,58.0 415.0,55.7 415.5,53.4 416.0,51.1 416.5,48.9 417.0,46.8 417.5,44.7 418.0,42.7 418.5,40.7 419.0,38.8 419.5,37.0 420.0,35.3 420.5,33.7 421.0,32.1 421.5,30.7 422.0,29.4 422.5,28.1 423.0,27.0 423.5,26.0 424.0,25.2 424.5,24.4 425.0,23.8 425.5,23.3 426.0,22.9 426.5,22.6 427.0,22.5 427.5,22.5 428.0,22.7 428.5,22.9 429.0,23.3 429.5,23.9 430.0,24.5 430.5,25.3 431.0,26.2 431.5,27.2 432.0,28.4 432.5,29.6 433.0,31.0 433.5,32.4 434.0,34.0 434.5,35.6 435.0,37.4 435.5,39.2 436.0,41.1 436.5,43.1 437.0,45.1 437.5,47.2 438.0,49.4 438.5,51.6 439.0,53.8 439.5,56.1 440.0,58.5 440.5,60.8 441.0,63.2 441.5,65.6 442.0,68.1 442.5,70.5 443.0,72.9 443.5,75.4 444.0,77.8 444.5,80.3 445.0,82.7 445.5,85.1 446.0,87.6 446.5,89.9 447.0,92.3 447.5,94.7 448.0,97.0 448.5,99.2 449.0,101.5 449.5,103.7 450.0,105.9 450.5,108.0 451.0,110.1 451.5,112.1 452.0,114.1 452.5,116.1 453.0,118.0 453.5,119.9 454.0,121.7 454.5,123.4 455.0,125.1 455.5,126.8 456.0,128.4 456.5,130.0 457.0,131.5 457.5,132.9 458.0,134.3 458.5,135.7 459.0,137.0 459.5,138.2 460.0,139.4 460.5,140.6 461.0,141.7 461.5,142.8 462.0,143.8 462.5,144.8 463.0,145.7 463.5,146.6 464.0,147.5 464.5,148.3 465.0,149.1 465.5,149.8 466.0,150.5 466.5,151.2 467.0,151.8 467.5,152.4 468.0,153.0 468.5,153.5 469.0,154.0 469.5,154.5 470.0,155.0 470.5,155.4 471.0,155.8 471.5,156.2 472.0,156.6 472.5,156.9 473.0,157.2 473.5,157.5 474.0,157.8 474.5,158.1 475.0,158.4 475.5,158.6 476.0,158.8 476.5,159.0 477.0,159.2 477.5,159.4 478.0,159.6 478.5,159.8 479.0,159.9 479.5,160.1 480.0,160.2 480.5,160.3 481.0,160.5 481.5,160.6 482.0,160.7 482.5,160.8 483.0,160.9 483.5,161.0 484.0,161.1 484.5,161.1 485.0,161.2 485.5,161.3 486.0,161.4 486.5,161.4 487.0,161.5 487.5,161.5 488.0,161.6 488.5,161.6 489.0,161.7 489.5,161.7 490.0,161.8 490.5,161.8 491.0,161.9 491.5,161.9 492.0,161.9 492.5,162.0 493.0,162.0 493.5,162.1 494.0,162.1 494.5,162.1 495.0,162.1 495.5,162.2 496.0,162.2 496.5,162.2 497.0,162.3 497.5,162.3 498.0,162.3 498.5,162.3 499.0,162.4 499.5,162.4 500.0,162.4 500.5,162.4 501.0,162.4 501.5,162.5 502.0,162.5 502.5,162.5 503.0,162.5 503.5,162.5 504.0,162.6 504.5,162.6 505.0,162.6 505.5,162.6 506.0,162.6 506.5,162.6 507.0,162.7 507.5,162.7 508.0,162.7 508.5,162.7 509.0,162.7 509.5,162.7 510.0,162.8 510.5,162.8 511.0,162.8 511.5,162.8 512.0,162.8 512.5,162.8 513.0,162.8 513.5,162.8 514.0,162.9 514.5,162.9 515.0,162.9 515.5,162.9 516.0,162.9 516.5,162.9 517.0,162.9 517.5,162.9 518.0,163.0 518.5,163.0 519.0,163.0 519.5,163.0 520.0,163.0 520.5,163.0 521.0,163.0 521.5,163.0 522.0,163.0 522.5,163.0 523.0,163.1 523.5,163.1 524.0,163.1 524.5,163.1 525.0,163.1 525.5,163.1 526.0,163.1 526.5,163.1 527.0,163.1 527.5,163.1 528.0,163.1 528.5,163.2 529.0,163.2 529.5,163.2 530.0,163.2" fill="none" stroke="#1a1aff" stroke-width="1.7"/>
<path d="M305.0,162.8 305.5,162.8 306.0,162.8 306.5,162.8 307.0,162.8 307.5,162.8 308.0,162.8 308.5,162.8 309.0,162.8 309.5,162.8 310.0,162.8 310.5,162.8 311.0,162.7 311.5,162.7 312.0,162.7 312.5,162.7 313.0,162.7 313.5,162.7 314.0,162.7 314.5,162.7 315.0,162.7 315.5,162.7 316.0,162.7 316.5,162.7 317.0,162.7 317.5,162.7 318.0,162.7 318.5,162.7 319.0,162.7 319.5,162.6 320.0,162.6 320.5,162.6 321.0,162.6 321.5,162.6 322.0,162.6 322.5,162.6 323.0,162.6 323.5,162.6 324.0,162.6 324.5,162.6 325.0,162.6 325.5,162.6 326.0,162.5 326.5,162.5 327.0,162.5 327.5,162.5 328.0,162.5 328.5,162.5 329.0,162.5 329.5,162.5 330.0,162.5 330.5,162.5 331.0,162.5 331.5,162.5 332.0,162.4 332.5,162.4 333.0,162.4 333.5,162.4 334.0,162.4 334.5,162.4 335.0,162.4 335.5,162.4 336.0,162.4 336.5,162.4 337.0,162.3 337.5,162.3 338.0,162.3 338.5,162.3 339.0,162.3 339.5,162.3 340.0,162.3 340.5,162.3 341.0,162.2 341.5,162.2 342.0,162.2 342.5,162.2 343.0,162.2 343.5,162.2 344.0,162.2 344.5,162.1 345.0,162.1 345.5,162.1 346.0,162.1 346.5,162.1 347.0,162.1 347.5,162.1 348.0,162.0 348.5,162.0 349.0,162.0 349.5,162.0 350.0,162.0 350.5,162.0 351.0,161.9 351.5,161.9 352.0,161.9 352.5,161.9 353.0,161.9 353.5,161.8 354.0,161.8 354.5,161.8 355.0,161.8 355.5,161.7 356.0,161.7 356.5,161.7 357.0,161.7 357.5,161.7 358.0,161.6 358.5,161.6 359.0,161.6 359.5,161.5 360.0,161.5 360.5,161.5 361.0,161.4 361.5,161.4 362.0,161.4 362.5,161.3 363.0,161.3 363.5,161.3 364.0,161.2 364.5,161.2 365.0,161.1 365.5,161.1 366.0,161.0 366.5,161.0 367.0,160.9 367.5,160.9 368.0,160.8 368.5,160.7 369.0,160.7 369.5,160.6 370.0,160.5 370.5,160.4 371.0,160.4 371.5,160.3 372.0,160.2 372.5,160.1 373.0,160.0 373.5,159.8 374.0,159.7 374.5,159.6 375.0,159.4 375.5,159.3 376.0,159.1 376.5,159.0 377.0,158.8 377.5,158.6 378.0,158.4 378.5,158.2 379.0,158.0 379.5,157.7 380.0,157.5 380.5,157.2 381.0,156.9 381.5,156.6 382.0,156.2 382.5,155.9 383.0,155.5 383.5,155.1 384.0,154.7 384.5,154.3 385.0,153.8 385.5,153.3 386.0,152.8 386.5,152.3 387.0,151.7 387.5,151.1 388.0,150.4 388.5,149.8 389.0,149.0 389.5,148.3 390.0,147.5 390.5,146.7 391.0,145.8 391.5,144.9 392.0,144.0 392.5,143.0 393.0,142.0 393.5,140.9 394.0,139.8 394.5,138.6 395.0,137.4 395.5,136.1 396.0,134.8 396.5,133.4 397.0,132.0 397.5,130.6 398.0,129.0 398.5,127.5 399.0,125.9 399.5,124.2 400.0,122.5 400.5,120.7 401.0,118.9 401.5,117.0 402.0,115.1 402.5,113.1 403.0,111.1 403.5,109.1 404.0,107.0 404.5,104.8 405.0,102.7 405.5,100.4 406.0,98.2 406.5,95.9 407.0,93.6 407.5,91.2 408.0,88.9 408.5,86.5 409.0,84.1 409.5,81.6 410.0,79.2 410.5,76.8 411.0,74.3 411.5,71.9 412.0,69.4 412.5,67.0 413.0,64.5 413.5,62.1 414.0,59.7 414.5,57.4 415.0,55.1 415.5,52.8 416.0,50.5 416.5,48.3 417.0,46.2 417.5,44.1 418.0,42.1 418.5,40.1 419.0,38.2 419.5,36.4 420.0,34.7 420.5,33.1 421.0,31.5 421.5,30.1 422.0,28.8 422.5,27.5 423.0,26.4 423.5,25.4 424.0,24.6 424.5,23.8 425.0,23.2 425.5,22.7 426.0,22.3 426.5,22.0 427.0,21.9 427.5,21.9 428.0,22.1 428.5,22.3 429.0,22.7 429.5,23.3 430.0,23.9 430.5,24.7 431.0,25.6 431.5,26.6 432.0,27.8 432.5,29.0 433.0,30.4 433.5,31.8 434.0,33.4 434.5,35.0 435.0,36.8 435.5,38.6 436.0,40.5 436.5,42.5 437.0,44.5 437.5,46.6 438.0,48.8 438.5,51.0 439.0,53.2 439.5,55.5 440.0,57.9 440.5,60.2 441.0,62.6 441.5,65.0 442.0,67.5 442.5,69.9 443.0,72.3 443.5,74.8 444.0,77.2 444.5,79.7 445.0,82.1 445.5,84.5 446.0,87.0 446.5,89.3 447.0,91.7 447.5,94.1 448.0,96.4 448.5,98.6 449.0,100.9 449.5,103.1 450.0,105.3 450.5,107.4 451.0,109.5 451.5,111.5 452.0,113.5 452.5,115.5 453.0,117.4 453.5,119.3 454.0,121.1 454.5,122.8 455.0,124.5 455.5,126.2 456.0,127.8 456.5,129.4 457.0,130.9 457.5,132.3 458.0,133.7 458.5,135.1 459.0,136.4 459.5,137.6 460.0,138.8 460.5,140.0 461.0,141.1 461.5,142.2 462.0,143.2 462.5,144.2 463.0,145.1 463.5,146.0 464.0,146.9 464.5,147.7 465.0,148.5 465.5,149.2 466.0,149.9 466.5,150.6 467.0,151.2 467.5,151.8 468.0,152.4 468.5,152.9 469.0,153.4 469.5,153.9 470.0,154.4 470.5,154.8 471.0,155.2 471.5,155.6 472.0,156.0 472.5,156.3 473.0,156.6 473.5,156.9 474.0,157.2 474.5,157.5 475.0,157.8 475.5,158.0 476.0,158.2 476.5,158.4 477.0,158.6 477.5,158.8 478.0,159.0 478.5,159.2 479.0,159.3 479.5,159.5 480.0,159.6 480.5,159.7 481.0,159.9 481.5,160.0 482.0,160.1 482.5,160.2 483.0,160.3 483.5,160.4 484.0,160.5 484.5,160.5 485.0,160.6 485.5,160.7 486.0,160.8 486.5,160.8 487.0,160.9 487.5,160.9 488.0,161.0 488.5,161.0 489.0,161.1 489.5,161.1 490.0,161.2 490.5,161.2 491.0,161.3 491.5,161.3 492.0,161.3 492.5,161.4 493.0,161.4 493.5,161.5 494.0,161.5 494.5,161.5 495.0,161.5 495.5,161.6 496.0,161.6 496.5,161.6 497.0,161.7 497.5,161.7 498.0,161.7 498.5,161.7 499.0,161.8 499.5,161.8 500.0,161.8 500.5,161.8 501.0,161.8 501.5,161.9 502.0,161.9 502.5,161.9 503.0,161.9 503.5,161.9 504.0,162.0 504.5,162.0 505.0,162.0 505.5,162.0 506.0,162.0 506.5,162.0 507.0,162.1 507.5,162.1 508.0,162.1 508.5,162.1 509.0,162.1 509.5,162.1 510.0,162.2 510.5,162.2 511.0,162.2 511.5,162.2 512.0,162.2 512.5,162.2 513.0,162.2 513.5,162.2 514.0,162.3 514.5,162.3 515.0,162.3 515.5,162.3 516.0,162.3 516.5,162.3 517.0,162.3 517.5,162.3 518.0,162.4 518.5,162.4 519.0,162.4 519.5,162.4 520.0,162.4 520.5,162.4 521.0,162.4 521.5,162.4 522.0,162.4 522.5,162.4 523.0,162.5 523.5,162.5 524.0,162.5 524.5,162.5 525.0,162.5 525.5,162.5 526.0,162.5 526.5,162.5 527.0,162.5 527.5,162.5 528.0,162.5 528.5,162.6 529.0,162.6 529.5,162.6 530.0,162.6" fill="none" stroke="#111" stroke-width="1.5" stroke-dasharray="9,3"/>
<text x="329.40" y="84.00" font-size="12.80" fill="#1a1a1a" text-anchor="start" stroke="#1a1a1a" stroke-width="0.15" >C-Si-O<tspan font-size="9" dy="2">3</tspan></text>
<line x1="351.00" y1="90.40" x2="390.05" y2="108.22" stroke="#222" stroke-width="0.95" />
<path d="M394.60,110.30 L388.02,110.26 L390.26,105.35 Z" fill="#222"/>
<rect x="25.40" y="218.00" width="236.00" height="77.50" fill="none" stroke="#585858" stroke-width="1.30"/>
<line x1="25.40" y1="295.50" x2="25.40" y2="298.00" stroke="#333" stroke-width="1.10" />
<text x="25.40" y="308.20" font-size="10.20" fill="#1a1a1a" text-anchor="middle" textLength="14.20" lengthAdjust="spacingAndGlyphs" stroke="#1a1a1a" stroke-width="0.15" >526</text>
<line x1="64.74" y1="295.50" x2="64.74" y2="298.00" stroke="#333" stroke-width="1.10" />
<text x="64.74" y="308.20" font-size="10.20" fill="#1a1a1a" text-anchor="middle" textLength="14.20" lengthAdjust="spacingAndGlyphs" stroke="#1a1a1a" stroke-width="0.15" >528</text>
<line x1="104.08" y1="295.50" x2="104.08" y2="298.00" stroke="#333" stroke-width="1.10" />
<text x="104.08" y="308.20" font-size="10.20" fill="#1a1a1a" text-anchor="middle" textLength="14.20" lengthAdjust="spacingAndGlyphs" stroke="#1a1a1a" stroke-width="0.15" >530</text>
<line x1="143.42" y1="295.50" x2="143.42" y2="298.00" stroke="#333" stroke-width="1.10" />
<text x="143.42" y="308.20" font-size="10.20" fill="#1a1a1a" text-anchor="middle" textLength="14.20" lengthAdjust="spacingAndGlyphs" stroke="#1a1a1a" stroke-width="0.15" >532</text>
<line x1="182.76" y1="295.50" x2="182.76" y2="298.00" stroke="#333" stroke-width="1.10" />
<text x="182.76" y="308.20" font-size="10.20" fill="#1a1a1a" text-anchor="middle" textLength="14.20" lengthAdjust="spacingAndGlyphs" stroke="#1a1a1a" stroke-width="0.15" >534</text>
<line x1="222.10" y1="295.50" x2="222.10" y2="298.00" stroke="#333" stroke-width="1.10" />
<text x="222.10" y="308.20" font-size="10.20" fill="#1a1a1a" text-anchor="middle" textLength="14.20" lengthAdjust="spacingAndGlyphs" stroke="#1a1a1a" stroke-width="0.15" >536</text>
<line x1="261.44" y1="295.50" x2="261.44" y2="298.00" stroke="#333" stroke-width="1.10" />
<text x="261.44" y="308.20" font-size="10.20" fill="#1a1a1a" text-anchor="middle" textLength="14.20" lengthAdjust="spacingAndGlyphs" stroke="#1a1a1a" stroke-width="0.15" >538</text>
<text x="26.00" y="230.00" font-size="10.80" fill="#1a1010" text-anchor="start" textLength="73.40" lengthAdjust="spacingAndGlyphs" stroke="#1a1010" stroke-width="0.15" >Pristine RC O 1s</text>
<text x="4.30" y="239.60" font-size="23.00" fill="#111" text-anchor="start" stroke="#111" stroke-width="0.15" >C</text>
<path d="M26.0,287.1 26.0,287.1 26.8,287.1 27.5,287.1 28.2,287.1 29.0,287.1 29.8,287.1 30.5,287.1 31.2,287.1 32.0,287.1 32.8,287.1 33.5,287.1 34.2,287.1 35.0,287.1 35.8,287.1 36.5,287.1 37.2,287.1 38.0,287.1 38.8,287.1 39.5,287.1 40.2,287.1 41.0,287.1 41.8,287.1 42.5,287.1 43.2,287.1 44.0,287.1 44.8,287.1 45.5,287.1 46.2,287.1 47.0,287.1 47.8,287.1 48.5,287.1 49.2,287.1 50.0,287.1 50.8,287.1 51.5,287.1 52.2,287.1 53.0,287.1 53.8,287.1 54.5,287.1 55.2,287.1 56.0,287.1 56.8,287.1 57.5,287.1 58.2,287.1 59.0,287.1 59.8,287.1 60.5,287.1 61.2,287.1 62.0,287.1 62.8,287.1 63.5,287.1 64.2,287.1 65.0,287.1 65.8,287.1 66.5,287.1 67.2,287.1 68.0,287.1 68.8,287.1 69.5,287.1 70.2,287.1 71.0,287.1 71.8,287.1 72.5,287.1 73.2,287.1 74.0,287.1 74.8,287.1 75.5,287.1 76.2,287.1 77.0,287.1 77.8,287.1 78.5,287.1 79.2,287.1 80.0,287.0 80.8,287.0 81.5,287.0 82.2,287.0 83.0,287.0 83.8,286.9 84.5,286.9 85.2,286.9 86.0,286.8 86.8,286.8 87.5,286.7 88.2,286.6 89.0,286.6 89.8,286.5 90.5,286.4 91.2,286.3 92.0,286.1 92.8,286.0 93.5,285.8 94.2,285.6 95.0,285.4 95.8,285.1 96.5,284.8 97.2,284.5 98.0,284.2 98.8,283.8 99.5,283.4 100.2,283.0 101.0,282.5 101.8,282.0 102.5,281.4 103.2,280.8 104.0,280.2 104.8,279.5 105.5,278.7 106.2,277.9 107.0,277.1 107.8,276.2 108.5,275.3 109.2,274.3 110.0,273.3 110.8,272.2 111.5,271.1 112.2,270.0 113.0,268.8 113.8,267.6 114.5,266.4 115.2,265.2 116.0,263.9 116.8,262.7 117.5,261.4 118.2,260.1 119.0,258.9 119.8,257.6 120.5,256.4 121.2,255.2 122.0,254.0 122.8,252.8 123.5,251.7 124.2,250.6 125.0,249.6 125.8,248.6 126.5,247.7 127.2,246.8 128.0,246.0 128.8,245.2 129.5,244.5 130.2,243.8 131.0,243.3 131.8,242.8 132.5,242.3 133.2,241.9 134.0,241.6 134.8,241.4 135.5,241.1 136.2,241.0 137.0,240.9 137.8,240.8 138.5,240.8 139.2,240.8 140.0,240.8 140.8,240.9 141.5,241.0 142.2,241.1 143.0,241.3 143.8,241.5 144.5,241.8 145.2,242.2 146.0,242.6 146.8,243.1 147.5,243.7 148.2,244.3 149.0,244.9 149.8,245.7 150.5,246.5 151.2,247.4 152.0,248.3 152.8,249.3 153.5,250.3 154.2,251.3 155.0,252.5 155.8,253.6 156.5,254.8 157.2,256.0 158.0,257.2 158.8,258.5 159.5,259.7 160.2,261.0 161.0,262.3 161.8,263.5 162.5,264.8 163.2,266.0 164.0,267.2 164.8,268.4 165.5,269.6 166.2,270.7 167.0,271.9 167.8,272.9 168.5,274.0 169.2,274.9 170.0,275.9 170.8,276.8 171.5,277.6 172.2,278.5 173.0,279.2 173.8,279.9 174.5,280.6 175.2,281.2 176.0,281.8 176.8,282.3 177.5,282.8 178.2,283.3 179.0,283.7 179.8,284.1 180.5,284.4 181.2,284.8 182.0,285.0 182.8,285.3 183.5,285.5 184.2,285.7 185.0,285.9 185.8,286.1 186.5,286.2 187.2,286.3 188.0,286.4 188.8,286.5 189.5,286.6 190.2,286.7 191.0,286.8 191.8,286.8 192.5,286.9 193.2,286.9 194.0,286.9 194.8,287.0 195.5,287.0 196.2,287.0 197.0,287.0 197.8,287.0 198.5,287.0 199.2,287.1 200.0,287.1 200.8,287.1 201.5,287.1 202.2,287.1 203.0,287.1 203.8,287.1 204.5,287.1 205.2,287.1 206.0,287.1 206.8,287.1 207.5,287.1 208.2,287.1 209.0,287.1 209.8,287.1 210.5,287.1 211.2,287.1 212.0,287.1 212.8,287.1 213.5,287.1 214.2,287.1 215.0,287.1 215.8,287.1 216.5,287.1 217.2,287.1 218.0,287.1 218.8,287.1 219.5,287.1 220.2,287.1 221.0,287.1 221.8,287.1 222.5,287.1 223.2,287.1 224.0,287.1 224.8,287.1 225.5,287.1 226.2,287.1 227.0,287.1 227.8,287.1 228.5,287.1 229.2,287.1 230.0,287.1 230.8,287.1 231.5,287.1 232.2,287.1 233.0,287.1 233.8,287.1 234.5,287.1 235.2,287.1 236.0,287.1 236.8,287.1 237.5,287.1 238.2,287.1 239.0,287.1 239.8,287.1 240.5,287.1 241.2,287.1 242.0,287.1 242.8,287.1 243.5,287.1 244.2,287.1 245.0,287.1 245.8,287.1 246.5,287.1 247.2,287.1 248.0,287.1 248.8,287.1 249.5,287.1 250.2,287.1 251.0,287.1 251.8,287.1 252.5,287.1 253.2,287.1 254.0,287.1 254.8,287.1 255.5,287.1 256.2,287.1 257.0,287.1 257.8,287.1 258.5,287.1 259.2,287.1 260.0,287.1 260.8,287.1 260.8,287.1 Z" fill="#bcbcf6" stroke="none"/>
<path d="M26.0,287.1 26.8,286.9 27.5,287.3 28.2,287.1 29.0,287.2 29.8,287.1 30.5,286.9 31.2,287.3 32.0,286.9 32.8,287.0 33.5,287.3 34.2,286.9 35.0,287.1 35.8,287.1 36.5,287.0 37.2,287.3 38.0,287.1 38.8,286.9 39.5,287.1 40.2,286.9 41.0,287.2 41.8,287.3 42.5,287.3 43.2,286.9 44.0,287.2 44.8,287.0 45.5,287.1 46.2,287.0 47.0,287.0 47.8,286.9 48.5,287.2 49.2,286.9 50.0,287.3 50.8,286.9 51.5,287.3 52.2,286.9 53.0,286.9 53.8,287.2 54.5,287.1 55.2,287.2 56.0,287.1 56.8,287.2 57.5,286.9 58.2,287.2 59.0,287.1 59.8,287.3 60.5,286.9 61.2,286.9 62.0,287.2 62.8,287.3 63.5,287.1 64.2,287.2 65.0,287.1 65.8,287.0 66.5,287.1 67.2,287.1 68.0,286.9 68.8,287.0 69.5,287.2 70.2,287.0 71.0,287.1 71.8,287.0 72.5,287.0 73.2,287.2 74.0,287.2 74.8,287.3 75.5,287.1 76.2,286.9 77.0,287.0 77.8,286.8 78.5,286.9 79.2,287.1 80.0,287.1 80.8,286.9 81.5,286.8 82.2,286.7 83.0,286.7 83.8,286.9 84.5,286.7 85.2,286.9 86.0,286.7 86.8,286.5 87.5,286.5 88.2,286.2 89.0,286.5 89.8,286.3 90.5,286.0 91.2,286.0 92.0,285.6 92.8,285.4 93.5,285.2 94.2,284.9 95.0,284.9 95.8,284.6 96.5,284.3 97.2,283.6 98.0,283.6 98.8,283.0 99.5,282.5 100.2,282.0 101.0,281.5 101.8,280.7 102.5,280.2 103.2,279.7 104.0,279.0 104.8,278.3 105.5,277.1 106.2,276.6 107.0,275.7 107.8,274.7 108.5,273.8 109.2,272.4 110.0,271.7 110.8,270.6 111.5,269.1 112.2,268.2 113.0,267.2 113.8,265.7 114.5,264.7 115.2,263.5 116.0,262.1 116.8,260.7 117.5,259.5 118.2,258.5 119.0,257.1 119.8,255.8 120.5,254.6 121.2,253.7 122.0,252.2 122.8,250.9 123.5,250.3 124.2,248.9 125.0,247.8 125.8,247.1 126.5,245.8 127.2,244.8 128.0,244.3 128.8,243.2 129.5,242.5 130.2,242.2 131.0,241.2 131.8,241.0 132.5,240.3 133.2,239.9 134.0,239.6 134.8,239.6 135.5,239.5 136.2,239.4 137.0,239.4 137.8,239.4 138.5,239.8 139.2,239.9 140.0,240.0 140.8,240.2 141.5,240.1 142.2,240.5 143.0,240.8 143.8,241.1 144.5,241.9 145.2,242.4 146.0,242.9 146.8,243.3 147.5,243.7 148.2,244.5 149.0,245.0 149.8,246.2 150.5,246.7 151.2,247.6 152.0,248.9 152.8,249.5 153.5,250.9 154.2,251.6 155.0,252.9 155.8,253.7 156.5,255.3 157.2,256.2 158.0,257.4 158.8,258.8 159.5,260.0 160.2,261.1 161.0,262.3 161.8,263.7 162.5,264.7 163.2,266.3 164.0,267.2 164.8,268.3 165.5,269.5 166.2,270.5 167.0,271.7 167.8,272.9 168.5,273.8 169.2,274.8 170.0,275.7 170.8,276.7 171.5,277.6 172.2,278.3 173.0,279.2 173.8,279.8 174.5,280.2 175.2,280.9 176.0,281.8 176.8,282.2 177.5,282.6 178.2,283.1 179.0,283.7 179.8,283.9 180.5,284.2 181.2,284.5 182.0,284.7 182.8,285.2 183.5,285.4 184.2,285.6 185.0,285.8 185.8,286.0 186.5,286.2 187.2,286.1 188.0,286.6 188.8,286.3 189.5,286.7 190.2,286.5 191.0,286.9 191.8,286.7 192.5,286.6 193.2,286.9 194.0,287.1 194.8,287.1 195.5,287.2 196.2,287.2 197.0,286.8 197.8,287.0 198.5,286.8 199.2,287.2 200.0,287.0 200.8,287.2 201.5,287.2 202.2,287.3 203.0,287.2 203.8,287.3 204.5,287.1 205.2,286.9 206.0,287.3 206.8,286.9 207.5,286.9 208.2,287.3 209.0,287.0 209.8,287.2 210.5,286.9 211.2,287.0 212.0,287.2 212.8,286.9 213.5,287.1 214.2,287.3 215.0,287.0 215.8,287.2 216.5,287.2 217.2,287.2 218.0,287.2 218.8,287.2 219.5,286.9 220.2,286.9 221.0,287.1 221.8,287.3 222.5,287.0 223.2,287.1 224.0,286.9 224.8,287.3 225.5,287.1 226.2,287.1 227.0,287.2 227.8,286.9 228.5,287.2 229.2,287.2 230.0,287.3 230.8,287.0 231.5,287.0 232.2,286.9 233.0,287.3 233.8,287.1 234.5,287.0 235.2,287.1 236.0,287.2 236.8,287.0 237.5,287.0 238.2,287.2 239.0,287.2 239.8,287.0 240.5,286.9 241.2,287.3 242.0,287.2 242.8,287.1 243.5,287.1 244.2,287.3 245.0,287.1 245.8,287.0 246.5,286.9 247.2,287.0 248.0,287.2 248.8,287.0 249.5,287.3 250.2,287.2 251.0,287.1 251.8,287.2 252.5,287.2 253.2,287.2 254.0,287.1 254.8,287.1 255.5,287.1 256.2,287.3 257.0,286.9 257.8,287.2 258.5,287.0 259.2,287.3 260.0,286.9 260.8,287.1" fill="none" stroke="#ff1a1a" stroke-width="1.55"/>
<line x1="26.00" y1="287.10" x2="261.40" y2="287.10" stroke="#1a1aff" stroke-width="1.75" />
<path d="M26.0,287.1 26.8,287.1 27.5,287.1 28.2,287.1 29.0,287.1 29.8,287.1 30.5,287.1 31.2,287.1 32.0,287.1 32.8,287.1 33.5,287.1 34.2,287.1 35.0,287.1 35.8,287.1 36.5,287.1 37.2,287.1 38.0,287.1 38.8,287.1 39.5,287.1 40.2,287.1 41.0,287.1 41.8,287.1 42.5,287.1 43.2,287.1 44.0,287.1 44.8,287.1 45.5,287.1 46.2,287.1 47.0,287.1 47.8,287.1 48.5,287.1 49.2,287.1 50.0,287.1 50.8,287.1 51.5,287.1 52.2,287.1 53.0,287.1 53.8,287.1 54.5,287.1 55.2,287.1 56.0,287.1 56.8,287.1 57.5,287.1 58.2,287.1 59.0,287.1 59.8,287.1 60.5,287.1 61.2,287.1 62.0,287.1 62.8,287.1 63.5,287.1 64.2,287.1 65.0,287.1 65.8,287.1 66.5,287.1 67.2,287.1 68.0,287.1 68.8,287.1 69.5,287.1 70.2,287.1 71.0,287.1 71.8,287.1 72.5,287.1 73.2,287.1 74.0,287.1 74.8,287.1 75.5,287.1 76.2,287.1 77.0,287.1 77.8,287.1 78.5,287.1 79.2,287.1 80.0,287.0 80.8,287.0 81.5,287.0 82.2,287.0 83.0,287.0 83.8,286.9 84.5,286.9 85.2,286.9 86.0,286.8 86.8,286.8 87.5,286.7 88.2,286.6 89.0,286.6 89.8,286.5 90.5,286.4 91.2,286.3 92.0,286.1 92.8,286.0 93.5,285.8 94.2,285.6 95.0,285.4 95.8,285.1 96.5,284.8 97.2,284.5 98.0,284.2 98.8,283.8 99.5,283.4 100.2,283.0 101.0,282.5 101.8,282.0 102.5,281.4 103.2,280.8 104.0,280.2 104.8,279.5 105.5,278.7 106.2,277.9 107.0,277.1 107.8,276.2 108.5,275.3 109.2,274.3 110.0,273.3 110.8,272.2 111.5,271.1 112.2,270.0 113.0,268.8 113.8,267.6 114.5,266.4 115.2,265.2 116.0,263.9 116.8,262.7 117.5,261.4 118.2,260.1 119.0,258.9 119.8,257.6 120.5,256.4 121.2,255.2 122.0,254.0 122.8,252.8 123.5,251.7 124.2,250.6 125.0,249.6 125.8,248.6 126.5,247.7 127.2,246.8 128.0,246.0 128.8,245.2 129.5,244.5 130.2,243.8 131.0,243.3 131.8,242.8 132.5,242.3 133.2,241.9 134.0,241.6 134.8,241.4 135.5,241.1 136.2,241.0 137.0,240.9 137.8,240.8 138.5,240.8 139.2,240.8 140.0,240.8 140.8,240.9 141.5,241.0 142.2,241.1 143.0,241.3 143.8,241.5 144.5,241.8 145.2,242.2 146.0,242.6 146.8,243.1 147.5,243.7 148.2,244.3 149.0,244.9 149.8,245.7 150.5,246.5 151.2,247.4 152.0,248.3 152.8,249.3 153.5,250.3 154.2,251.3 155.0,252.5 155.8,253.6 156.5,254.8 157.2,256.0 158.0,257.2 158.8,258.5 159.5,259.7 160.2,261.0 161.0,262.3 161.8,263.5 162.5,264.8 163.2,266.0 164.0,267.2 164.8,268.4 165.5,269.6 166.2,270.7 167.0,271.9 167.8,272.9 168.5,274.0 169.2,274.9 170.0,275.9 170.8,276.8 171.5,277.6 172.2,278.5 173.0,279.2 173.8,279.9 174.5,280.6 175.2,281.2 176.0,281.8 176.8,282.3 177.5,282.8 178.2,283.3 179.0,283.7 179.8,284.1 180.5,284.4 181.2,284.8 182.0,285.0 182.8,285.3 183.5,285.5 184.2,285.7 185.0,285.9 185.8,286.1 186.5,286.2 187.2,286.3 188.0,286.4 188.8,286.5 189.5,286.6 190.2,286.7 191.0,286.8 191.8,286.8 192.5,286.9 193.2,286.9 194.0,286.9 194.8,287.0 195.5,287.0 196.2,287.0 197.0,287.0 197.8,287.0 198.5,287.0 199.2,287.1 200.0,287.1 200.8,287.1 201.5,287.1 202.2,287.1 203.0,287.1 203.8,287.1 204.5,287.1 205.2,287.1 206.0,287.1 206.8,287.1 207.5,287.1 208.2,287.1 209.0,287.1 209.8,287.1 210.5,287.1 211.2,287.1 212.0,287.1 212.8,287.1 213.5,287.1 214.2,287.1 215.0,287.1 215.8,287.1 216.5,287.1 217.2,287.1 218.0,287.1 218.8,287.1 219.5,287.1 220.2,287.1 221.0,287.1 221.8,287.1 222.5,287.1 223.2,287.1 224.0,287.1 224.8,287.1 225.5,287.1 226.2,287.1 227.0,287.1 227.8,287.1 228.5,287.1 229.2,287.1 230.0,287.1 230.8,287.1 231.5,287.1 232.2,287.1 233.0,287.1 233.8,287.1 234.5,287.1 235.2,287.1 236.0,287.1 236.8,287.1 237.5,287.1 238.2,287.1 239.0,287.1 239.8,287.1 240.5,287.1 241.2,287.1 242.0,287.1 242.8,287.1 243.5,287.1 244.2,287.1 245.0,287.1 245.8,287.1 246.5,287.1 247.2,287.1 248.0,287.1 248.8,287.1 249.5,287.1 250.2,287.1 251.0,287.1 251.8,287.1 252.5,287.1 253.2,287.1 254.0,287.1 254.8,287.1 255.5,287.1 256.2,287.1 257.0,287.1 257.8,287.1 258.5,287.1 259.2,287.1 260.0,287.1 260.8,287.1" fill="none" stroke="#1a1aff" stroke-width="1.65"/>
<path d="M26.0,287.1 26.8,287.1 27.5,287.1 28.2,287.1 29.0,287.1 29.8,287.1 30.5,287.1 31.2,287.1 32.0,287.1 32.8,287.1 33.5,287.1 34.2,287.1 35.0,287.1 35.8,287.1 36.5,287.1 37.2,287.1 38.0,287.1 38.8,287.1 39.5,287.1 40.2,287.1 41.0,287.1 41.8,287.1 42.5,287.1 43.2,287.1 44.0,287.1 44.8,287.1 45.5,287.1 46.2,287.1 47.0,287.1 47.8,287.1 48.5,287.1 49.2,287.1 50.0,287.1 50.8,287.1 51.5,287.1 52.2,287.1 53.0,287.1 53.8,287.1 54.5,287.1 55.2,287.1 56.0,287.1 56.8,287.1 57.5,287.1 58.2,287.1 59.0,287.1 59.8,287.1 60.5,287.1 61.2,287.1 62.0,287.1 62.8,287.1 63.5,287.1 64.2,287.1 65.0,287.1 65.8,287.1 66.5,287.1 67.2,287.1 68.0,287.1 68.8,287.1 69.5,287.1 70.2,287.1 71.0,287.1 71.8,287.1 72.5,287.1 73.2,287.1 74.0,287.1 74.8,287.1 75.5,287.1 76.2,287.1 77.0,287.1 77.8,287.1 78.5,287.0 79.2,287.0 80.0,287.0 80.8,287.0 81.5,287.0 82.2,287.0 83.0,286.9 83.8,286.9 84.5,286.9 85.2,286.8 86.0,286.7 86.8,286.7 87.5,286.6 88.2,286.5 89.0,286.4 89.8,286.3 90.5,286.2 91.2,286.0 92.0,285.8 92.8,285.6 93.5,285.4 94.2,285.1 95.0,284.9 95.8,284.5 96.5,284.2 97.2,283.9 98.0,283.6 98.8,283.2 99.5,282.8 100.2,282.4 101.0,281.9 101.8,281.4 102.5,280.8 103.2,280.2 104.0,279.6 104.8,278.9 105.5,278.1 106.2,277.3 107.0,276.5 107.8,275.6 108.5,274.7 109.2,273.7 110.0,272.7 110.8,271.6 111.5,270.5 112.2,269.4 113.0,268.2 113.8,267.0 114.5,265.8 115.2,264.6 116.0,263.3 116.8,262.1 117.5,260.8 118.2,259.5 119.0,258.3 119.8,257.0 120.5,255.8 121.2,254.6 122.0,253.4 122.8,252.2 123.5,251.1 124.2,250.0 125.0,249.0 125.8,248.0 126.5,247.1 127.2,246.2 128.0,245.4 128.8,244.6 129.5,243.9 130.2,243.2 131.0,242.7 131.8,242.2 132.5,241.7 133.2,241.3 134.0,241.0 134.8,240.8 135.5,240.5 136.2,240.4 137.0,240.3 137.8,240.2 138.5,240.2 139.2,240.2 140.0,240.2 140.8,240.3 141.5,240.4 142.2,240.5 143.0,240.7 143.8,240.9 144.5,241.2 145.2,241.6 146.0,242.0 146.8,242.5 147.5,243.1 148.2,243.7 149.0,244.3 149.8,245.1 150.5,245.9 151.2,246.8 152.0,247.7 152.8,248.7 153.5,249.7 154.2,250.7 155.0,251.9 155.8,253.0 156.5,254.2 157.2,255.4 158.0,256.6 158.8,257.9 159.5,259.1 160.2,260.4 161.0,261.7 161.8,262.9 162.5,264.2 163.2,265.4 164.0,266.6 164.8,267.8 165.5,269.0 166.2,270.1 167.0,271.3 167.8,272.3 168.5,273.4 169.2,274.3 170.0,275.3 170.8,276.2 171.5,277.0 172.2,277.9 173.0,278.6 173.8,279.3 174.5,280.0 175.2,280.6 176.0,281.2 176.8,281.7 177.5,282.2 178.2,282.7 179.0,283.1 179.8,283.5 180.5,283.8 181.2,284.2 182.0,284.4 182.8,284.7 183.5,285.0 184.2,285.3 185.0,285.5 185.8,285.8 186.5,285.9 187.2,286.1 188.0,286.2 188.8,286.4 189.5,286.5 190.2,286.6 191.0,286.7 191.8,286.7 192.5,286.8 193.2,286.8 194.0,286.9 194.8,286.9 195.5,286.9 196.2,287.0 197.0,287.0 197.8,287.0 198.5,287.0 199.2,287.0 200.0,287.1 200.8,287.1 201.5,287.1 202.2,287.1 203.0,287.1 203.8,287.1 204.5,287.1 205.2,287.1 206.0,287.1 206.8,287.1 207.5,287.1 208.2,287.1 209.0,287.1 209.8,287.1 210.5,287.1 211.2,287.1 212.0,287.1 212.8,287.1 213.5,287.1 214.2,287.1 215.0,287.1 215.8,287.1 216.5,287.1 217.2,287.1 218.0,287.1 218.8,287.1 219.5,287.1 220.2,287.1 221.0,287.1 221.8,287.1 222.5,287.1 223.2,287.1 224.0,287.1 224.8,287.1 225.5,287.1 226.2,287.1 227.0,287.1 227.8,287.1 228.5,287.1 229.2,287.1 230.0,287.1 230.8,287.1 231.5,287.1 232.2,287.1 233.0,287.1 233.8,287.1 234.5,287.1 235.2,287.1 236.0,287.1 236.8,287.1 237.5,287.1 238.2,287.1 239.0,287.1 239.8,287.1 240.5,287.1 241.2,287.1 242.0,287.1 242.8,287.1 243.5,287.1 244.2,287.1 245.0,287.1 245.8,287.1 246.5,287.1 247.2,287.1 248.0,287.1 248.8,287.1 249.5,287.1 250.2,287.1 251.0,287.1 251.8,287.1 252.5,287.1 253.2,287.1 254.0,287.1 254.8,287.1 255.5,287.1 256.2,287.1 257.0,287.1 257.8,287.1 258.5,287.1 259.2,287.1 260.0,287.1 260.8,287.1" fill="none" stroke="#111" stroke-width="1.35" stroke-dasharray="7,4"/>
<text x="57.00" y="257.70" font-size="12.50" fill="#1a1a1a" text-anchor="start" textLength="37.50" lengthAdjust="spacingAndGlyphs" stroke="#1a1a1a" stroke-width="0.15" >C-O-C/</text>
<text x="57.00" y="273.40" font-size="12.50" fill="#1a1a1a" text-anchor="start" textLength="34.80" lengthAdjust="spacingAndGlyphs" stroke="#1a1a1a" stroke-width="0.15" >C-O-H</text>
<line x1="98.00" y1="255.30" x2="111.81" y2="261.23" stroke="#222" stroke-width="0.95" />
<path d="M116.40,263.20 L109.86,263.22 L111.91,258.44 Z" fill="#222"/>
<rect x="25.40" y="318.50" width="236.00" height="78.70" fill="none" stroke="#585858" stroke-width="1.30"/>
<line x1="25.40" y1="397.20" x2="25.40" y2="399.70" stroke="#333" stroke-width="1.10" />
<text x="25.40" y="409.70" font-size="10.20" fill="#1a1a1a" text-anchor="middle" textLength="14.20" lengthAdjust="spacingAndGlyphs" stroke="#1a1a1a" stroke-width="0.15" >526</text>
<line x1="64.74" y1="397.20" x2="64.74" y2="399.70" stroke="#333" stroke-width="1.10" />
<text x="64.74" y="409.70" font-size="10.20" fill="#1a1a1a" text-anchor="middle" textLength="14.20" lengthAdjust="spacingAndGlyphs" stroke="#1a1a1a" stroke-width="0.15" >528</text>
<line x1="104.08" y1="397.20" x2="104.08" y2="399.70" stroke="#333" stroke-width="1.10" />
<text x="104.08" y="409.70" font-size="10.20" fill="#1a1a1a" text-anchor="middle" textLength="14.20" lengthAdjust="spacingAndGlyphs" stroke="#1a1a1a" stroke-width="0.15" >530</text>
<line x1="143.42" y1="397.20" x2="143.42" y2="399.70" stroke="#333" stroke-width="1.10" />
<text x="143.42" y="409.70" font-size="10.20" fill="#1a1a1a" text-anchor="middle" textLength="14.20" lengthAdjust="spacingAndGlyphs" stroke="#1a1a1a" stroke-width="0.15" >532</text>
<line x1="182.76" y1="397.20" x2="182.76" y2="399.70" stroke="#333" stroke-width="1.10" />
<text x="182.76" y="409.70" font-size="10.20" fill="#1a1a1a" text-anchor="middle" textLength="14.20" lengthAdjust="spacingAndGlyphs" stroke="#1a1a1a" stroke-width="0.15" >534</text>
<line x1="222.10" y1="397.20" x2="222.10" y2="399.70" stroke="#333" stroke-width="1.10" />
<text x="222.10" y="409.70" font-size="10.20" fill="#1a1a1a" text-anchor="middle" textLength="14.20" lengthAdjust="spacingAndGlyphs" stroke="#1a1a1a" stroke-width="0.15" >536</text>
<line x1="261.44" y1="397.20" x2="261.44" y2="399.70" stroke="#333" stroke-width="1.10" />
<text x="261.44" y="409.70" font-size="10.20" fill="#1a1a1a" text-anchor="middle" textLength="14.20" lengthAdjust="spacingAndGlyphs" stroke="#1a1a1a" stroke-width="0.15" >538</text>
<text x="27.00" y="330.40" font-size="10.80" fill="#ff0000" text-anchor="start" textLength="77.00" lengthAdjust="spacingAndGlyphs" stroke="#ff0000" stroke-width="0.25" >MTS/RC-60 O 1s</text>
<path d="M26.0,390.9 26.0,390.9 26.8,390.9 27.5,390.9 28.2,390.9 29.0,390.9 29.8,390.9 30.5,390.9 31.2,390.9 32.0,390.9 32.8,390.9 33.5,390.9 34.2,390.9 35.0,390.9 35.8,390.9 36.5,390.9 37.2,390.9 38.0,390.9 38.8,390.9 39.5,390.9 40.2,390.9 41.0,390.9 41.8,390.9 42.5,390.9 43.2,390.9 44.0,390.9 44.8,390.8 45.5,390.8 46.2,390.8 47.0,390.8 47.8,390.8 48.5,390.8 49.2,390.8 50.0,390.8 50.8,390.8 51.5,390.8 52.2,390.8 53.0,390.8 53.8,390.8 54.5,390.8 55.2,390.8 56.0,390.8 56.8,390.8 57.5,390.8 58.2,390.8 59.0,390.8 59.8,390.8 60.5,390.8 61.2,390.8 62.0,390.8 62.8,390.8 63.5,390.8 64.2,390.8 65.0,390.8 65.8,390.8 66.5,390.8 67.2,390.8 68.0,390.8 68.8,390.8 69.5,390.8 70.2,390.8 71.0,390.8 71.8,390.8 72.5,390.8 73.2,390.8 74.0,390.8 74.8,390.8 75.5,390.8 76.2,390.8 77.0,390.8 77.8,390.8 78.5,390.8 79.2,390.8 80.0,390.8 80.8,390.8 81.5,390.8 82.2,390.8 83.0,390.8 83.8,390.8 84.5,390.8 85.2,390.7 86.0,390.7 86.8,390.7 87.5,390.7 88.2,390.7 89.0,390.7 89.8,390.7 90.5,390.7 91.2,390.7 92.0,390.7 92.8,390.7 93.5,390.7 94.2,390.7 95.0,390.7 95.8,390.7 96.5,390.7 97.2,390.7 98.0,390.6 98.8,390.6 99.5,390.6 100.2,390.6 101.0,390.6 101.8,390.6 102.5,390.6 103.2,390.6 104.0,390.5 104.8,390.5 105.5,390.5 106.2,390.5 107.0,390.4 107.8,390.4 108.5,390.3 109.2,390.3 110.0,390.2 110.8,390.1 111.5,390.0 112.2,389.9 113.0,389.7 113.8,389.5 114.5,389.3 115.2,389.0 116.0,388.7 116.8,388.3 117.5,387.9 118.2,387.3 119.0,386.7 119.8,386.0 120.5,385.2 121.2,384.3 122.0,383.3 122.8,382.1 123.5,380.9 124.2,379.5 125.0,378.0 125.8,376.3 126.5,374.6 127.2,372.8 128.0,370.9 128.8,368.9 129.5,366.9 130.2,364.8 131.0,362.8 131.8,360.8 132.5,358.9 133.2,357.2 134.0,355.5 134.8,354.0 135.5,352.8 136.2,351.7 137.0,351.0 137.8,350.5 138.5,350.3 139.2,350.4 140.0,350.8 140.8,351.5 141.5,352.5 142.2,353.7 143.0,355.1 143.8,356.7 144.5,358.5 145.2,360.3 146.0,362.3 146.8,364.3 147.5,366.3 148.2,368.4 149.0,370.3 149.8,372.3 150.5,374.1 151.2,375.9 152.0,377.5 152.8,379.1 153.5,380.5 154.2,381.8 155.0,383.0 155.8,384.0 156.5,385.0 157.2,385.8 158.0,386.6 158.8,387.2 159.5,387.7 160.2,388.2 161.0,388.6 161.8,388.9 162.5,389.2 163.2,389.5 164.0,389.7 164.8,389.8 165.5,390.0 166.2,390.1 167.0,390.2 167.8,390.3 168.5,390.3 169.2,390.4 170.0,390.4 170.8,390.5 171.5,390.5 172.2,390.5 173.0,390.5 173.8,390.6 174.5,390.6 175.2,390.6 176.0,390.6 176.8,390.6 177.5,390.6 178.2,390.6 179.0,390.6 179.8,390.7 180.5,390.7 181.2,390.7 182.0,390.7 182.8,390.7 183.5,390.7 184.2,390.7 185.0,390.7 185.8,390.7 186.5,390.7 187.2,390.7 188.0,390.7 188.8,390.7 189.5,390.7 190.2,390.7 191.0,390.7 191.8,390.7 192.5,390.8 193.2,390.8 194.0,390.8 194.8,390.8 195.5,390.8 196.2,390.8 197.0,390.8 197.8,390.8 198.5,390.8 199.2,390.8 200.0,390.8 200.8,390.8 201.5,390.8 202.2,390.8 203.0,390.8 203.8,390.8 204.5,390.8 205.2,390.8 206.0,390.8 206.8,390.8 207.5,390.8 208.2,390.8 209.0,390.8 209.8,390.8 210.5,390.8 211.2,390.8 212.0,390.8 212.8,390.8 213.5,390.8 214.2,390.8 215.0,390.8 215.8,390.8 216.5,390.8 217.2,390.8 218.0,390.8 218.8,390.8 219.5,390.8 220.2,390.8 221.0,390.8 221.8,390.8 222.5,390.8 223.2,390.8 224.0,390.8 224.8,390.8 225.5,390.8 226.2,390.8 227.0,390.8 227.8,390.8 228.5,390.8 229.2,390.8 230.0,390.8 230.8,390.8 231.5,390.8 232.2,390.8 233.0,390.9 233.8,390.9 234.5,390.9 235.2,390.9 236.0,390.9 236.8,390.9 237.5,390.9 238.2,390.9 239.0,390.9 239.8,390.9 240.5,390.9 241.2,390.9 242.0,390.9 242.8,390.9 243.5,390.9 244.2,390.9 245.0,390.9 245.8,390.9 246.5,390.9 247.2,390.9 248.0,390.9 248.8,390.9 249.5,390.9 250.2,390.9 251.0,390.9 251.8,390.9 252.5,390.9 253.2,390.9 254.0,390.9 254.8,390.9 255.5,390.9 256.2,390.9 257.0,390.9 257.8,390.9 258.5,390.9 259.2,390.9 260.0,390.9 260.8,390.9 260.8,390.9 Z" fill="#bcbcf0" stroke="none"/>
<path d="M26.0,390.9 26.0,390.8 26.8,390.8 27.5,390.8 28.2,390.8 29.0,390.8 29.8,390.8 30.5,390.8 31.2,390.8 32.0,390.8 32.8,390.8 33.5,390.8 34.2,390.8 35.0,390.8 35.8,390.8 36.5,390.8 37.2,390.8 38.0,390.8 38.8,390.8 39.5,390.8 40.2,390.8 41.0,390.8 41.8,390.8 42.5,390.8 43.2,390.8 44.0,390.8 44.8,390.8 45.5,390.8 46.2,390.8 47.0,390.8 47.8,390.8 48.5,390.8 49.2,390.8 50.0,390.8 50.8,390.8 51.5,390.8 52.2,390.8 53.0,390.8 53.8,390.8 54.5,390.8 55.2,390.8 56.0,390.8 56.8,390.8 57.5,390.8 58.2,390.8 59.0,390.8 59.8,390.8 60.5,390.8 61.2,390.8 62.0,390.8 62.8,390.8 63.5,390.8 64.2,390.8 65.0,390.8 65.8,390.8 66.5,390.8 67.2,390.8 68.0,390.8 68.8,390.8 69.5,390.8 70.2,390.8 71.0,390.8 71.8,390.8 72.5,390.8 73.2,390.8 74.0,390.8 74.8,390.8 75.5,390.8 76.2,390.8 77.0,390.8 77.8,390.8 78.5,390.8 79.2,390.7 80.0,390.7 80.8,390.7 81.5,390.7 82.2,390.7 83.0,390.7 83.8,390.7 84.5,390.7 85.2,390.7 86.0,390.7 86.8,390.7 87.5,390.7 88.2,390.7 89.0,390.7 89.8,390.7 90.5,390.7 91.2,390.7 92.0,390.7 92.8,390.7 93.5,390.7 94.2,390.7 95.0,390.7 95.8,390.7 96.5,390.6 97.2,390.6 98.0,390.6 98.8,390.6 99.5,390.6 100.2,390.6 101.0,390.6 101.8,390.6 102.5,390.6 103.2,390.5 104.0,390.5 104.8,390.5 105.5,390.5 106.2,390.5 107.0,390.4 107.8,390.4 108.5,390.4 109.2,390.3 110.0,390.3 110.8,390.2 111.5,390.2 112.2,390.1 113.0,390.0 113.8,389.9 114.5,389.8 115.2,389.7 116.0,389.6 116.8,389.4 117.5,389.2 118.2,389.0 119.0,388.8 119.8,388.6 120.5,388.3 121.2,388.0 122.0,387.7 122.8,387.3 123.5,386.9 124.2,386.5 125.0,386.0 125.8,385.5 126.5,384.9 127.2,384.3 128.0,383.7 128.8,383.0 129.5,382.2 130.2,381.4 131.0,380.6 131.8,379.7 132.5,378.8 133.2,377.8 134.0,376.8 134.8,375.7 135.5,374.6 136.2,373.5 137.0,372.4 137.8,371.2 138.5,370.1 139.2,368.9 140.0,367.8 140.8,366.6 141.5,365.5 142.2,364.4 143.0,363.3 143.8,362.3 144.5,361.4 145.2,360.5 146.0,359.7 146.8,358.9 147.5,358.3 148.2,357.7 149.0,357.3 149.8,357.0 150.5,356.7 151.2,356.6 152.0,356.6 152.8,356.7 153.5,357.0 154.2,357.3 155.0,357.8 155.8,358.3 156.5,359.0 157.2,359.7 158.0,360.5 158.8,361.4 159.5,362.4 160.2,363.4 161.0,364.5 161.8,365.6 162.5,366.7 163.2,367.8 164.0,369.0 164.8,370.2 165.5,371.3 166.2,372.5 167.0,373.6 167.8,374.7 168.5,375.8 169.2,376.8 170.0,377.9 170.8,378.8 171.5,379.8 172.2,380.6 173.0,381.5 173.8,382.3 174.5,383.0 175.2,383.7 176.0,384.4 176.8,385.0 177.5,385.5 178.2,386.1 179.0,386.5 179.8,387.0 180.5,387.4 181.2,387.7 182.0,388.0 182.8,388.3 183.5,388.6 184.2,388.8 185.0,389.1 185.8,389.2 186.5,389.4 187.2,389.6 188.0,389.7 188.8,389.8 189.5,389.9 190.2,390.0 191.0,390.1 191.8,390.2 192.5,390.2 193.2,390.3 194.0,390.3 194.8,390.4 195.5,390.4 196.2,390.4 197.0,390.5 197.8,390.5 198.5,390.5 199.2,390.5 200.0,390.5 200.8,390.6 201.5,390.6 202.2,390.6 203.0,390.6 203.8,390.6 204.5,390.6 205.2,390.6 206.0,390.6 206.8,390.6 207.5,390.7 208.2,390.7 209.0,390.7 209.8,390.7 210.5,390.7 211.2,390.7 212.0,390.7 212.8,390.7 213.5,390.7 214.2,390.7 215.0,390.7 215.8,390.7 216.5,390.7 217.2,390.7 218.0,390.7 218.8,390.7 219.5,390.7 220.2,390.7 221.0,390.7 221.8,390.7 222.5,390.7 223.2,390.7 224.0,390.7 224.8,390.8 225.5,390.8 226.2,390.8 227.0,390.8 227.8,390.8 228.5,390.8 229.2,390.8 230.0,390.8 230.8,390.8 231.5,390.8 232.2,390.8 233.0,390.8 233.8,390.8 234.5,390.8 235.2,390.8 236.0,390.8 236.8,390.8 237.5,390.8 238.2,390.8 239.0,390.8 239.8,390.8 240.5,390.8 241.2,390.8 242.0,390.8 242.8,390.8 243.5,390.8 244.2,390.8 245.0,390.8 245.8,390.8 246.5,390.8 247.2,390.8 248.0,390.8 248.8,390.8 249.5,390.8 250.2,390.8 251.0,390.8 251.8,390.8 252.5,390.8 253.2,390.8 254.0,390.8 254.8,390.8 255.5,390.8 256.2,390.8 257.0,390.8 257.8,390.8 258.5,390.8 259.2,390.8 260.0,390.8 260.8,390.8 260.8,390.9 Z" fill="#b0dcb8" stroke="none"/>
<path d="M26.0,390.9 26.0,390.9 26.8,390.9 27.5,390.9 28.2,390.9 29.0,390.9 29.8,390.9 30.5,390.9 31.2,390.9 32.0,390.9 32.8,390.9 33.5,390.9 34.2,390.9 35.0,390.9 35.8,390.9 36.5,390.9 37.2,390.9 38.0,390.9 38.8,390.9 39.5,390.9 40.2,390.9 41.0,390.9 41.8,390.9 42.5,390.9 43.2,390.9 44.0,390.9 44.8,390.8 45.5,390.8 46.2,390.8 47.0,390.8 47.8,390.8 48.5,390.8 49.2,390.8 50.0,390.8 50.8,390.8 51.5,390.8 52.2,390.8 53.0,390.8 53.8,390.8 54.5,390.8 55.2,390.8 56.0,390.8 56.8,390.8 57.5,390.8 58.2,390.8 59.0,390.8 59.8,390.8 60.5,390.8 61.2,390.8 62.0,390.8 62.8,390.8 63.5,390.8 64.2,390.8 65.0,390.8 65.8,390.8 66.5,390.8 67.2,390.8 68.0,390.8 68.8,390.8 69.5,390.8 70.2,390.8 71.0,390.8 71.8,390.8 72.5,390.8 73.2,390.8 74.0,390.8 74.8,390.8 75.5,390.8 76.2,390.8 77.0,390.8 77.8,390.8 78.5,390.8 79.2,390.8 80.0,390.8 80.8,390.8 81.5,390.8 82.2,390.8 83.0,390.8 83.8,390.8 84.5,390.8 85.2,390.7 86.0,390.7 86.8,390.7 87.5,390.7 88.2,390.7 89.0,390.7 89.8,390.7 90.5,390.7 91.2,390.7 92.0,390.7 92.8,390.7 93.5,390.7 94.2,390.7 95.0,390.7 95.8,390.7 96.5,390.7 97.2,390.7 98.0,390.6 98.8,390.6 99.5,390.6 100.2,390.6 101.0,390.6 101.8,390.6 102.5,390.6 103.2,390.6 104.0,390.5 104.8,390.5 105.5,390.5 106.2,390.5 107.0,390.4 107.8,390.4 108.5,390.4 109.2,390.3 110.0,390.3 110.8,390.2 111.5,390.2 112.2,390.1 113.0,390.0 113.8,389.9 114.5,389.8 115.2,389.7 116.0,389.6 116.8,389.4 117.5,389.2 118.2,389.0 119.0,388.8 119.8,388.6 120.5,388.3 121.2,388.0 122.0,387.7 122.8,387.3 123.5,386.9 124.2,386.5 125.0,386.0 125.8,385.5 126.5,384.9 127.2,384.3 128.0,383.7 128.8,383.0 129.5,382.2 130.2,381.4 131.0,380.6 131.8,379.7 132.5,378.8 133.2,377.8 134.0,376.8 134.8,375.7 135.5,374.6 136.2,373.5 137.0,372.4 137.8,371.2 138.5,370.1 139.2,368.9 140.0,367.8 140.8,366.6 141.5,365.5 142.2,364.4 143.0,363.3 143.8,362.3 144.5,361.4 145.2,360.5 146.0,362.3 146.8,364.3 147.5,366.3 148.2,368.4 149.0,370.3 149.8,372.3 150.5,374.1 151.2,375.9 152.0,377.5 152.8,379.1 153.5,380.5 154.2,381.8 155.0,383.0 155.8,384.0 156.5,385.0 157.2,385.8 158.0,386.6 158.8,387.2 159.5,387.7 160.2,388.2 161.0,388.6 161.8,388.9 162.5,389.2 163.2,389.5 164.0,389.7 164.8,389.8 165.5,390.0 166.2,390.1 167.0,390.2 167.8,390.3 168.5,390.3 169.2,390.4 170.0,390.4 170.8,390.5 171.5,390.5 172.2,390.5 173.0,390.5 173.8,390.6 174.5,390.6 175.2,390.6 176.0,390.6 176.8,390.6 177.5,390.6 178.2,390.6 179.0,390.6 179.8,390.7 180.5,390.7 181.2,390.7 182.0,390.7 182.8,390.7 183.5,390.7 184.2,390.7 185.0,390.7 185.8,390.7 186.5,390.7 187.2,390.7 188.0,390.7 188.8,390.7 189.5,390.7 190.2,390.7 191.0,390.7 191.8,390.7 192.5,390.8 193.2,390.8 194.0,390.8 194.8,390.8 195.5,390.8 196.2,390.8 197.0,390.8 197.8,390.8 198.5,390.8 199.2,390.8 200.0,390.8 200.8,390.8 201.5,390.8 202.2,390.8 203.0,390.8 203.8,390.8 204.5,390.8 205.2,390.8 206.0,390.8 206.8,390.8 207.5,390.8 208.2,390.8 209.0,390.8 209.8,390.8 210.5,390.8 211.2,390.8 212.0,390.8 212.8,390.8 213.5,390.8 214.2,390.8 215.0,390.8 215.8,390.8 216.5,390.8 217.2,390.8 218.0,390.8 218.8,390.8 219.5,390.8 220.2,390.8 221.0,390.8 221.8,390.8 222.5,390.8 223.2,390.8 224.0,390.8 224.8,390.8 225.5,390.8 226.2,390.8 227.0,390.8 227.8,390.8 228.5,390.8 229.2,390.8 230.0,390.8 230.8,390.8 231.5,390.8 232.2,390.8 233.0,390.9 233.8,390.9 234.5,390.9 235.2,390.9 236.0,390.9 236.8,390.9 237.5,390.9 238.2,390.9 239.0,390.9 239.8,390.9 240.5,390.9 241.2,390.9 242.0,390.9 242.8,390.9 243.5,390.9 244.2,390.9 245.0,390.9 245.8,390.9 246.5,390.9 247.2,390.9 248.0,390.9 248.8,390.9 249.5,390.9 250.2,390.9 251.0,390.9 251.8,390.9 252.5,390.9 253.2,390.9 254.0,390.9 254.8,390.9 255.5,390.9 256.2,390.9 257.0,390.9 257.8,390.9 258.5,390.9 259.2,390.9 260.0,390.9 260.8,390.9 260.8,390.9 Z" fill="#4c968c" stroke="none"/>
<path d="M27.2,391.2 27.9,391.3 28.7,391.1 29.4,391.2 30.2,391.1 30.9,391.2 31.7,391.2 32.5,391.1 33.2,391.1 34.0,391.1 34.7,391.3 35.5,391.2 36.2,391.2 37.0,391.1 37.7,391.2 38.5,391.3 39.2,391.2 40.0,391.1 40.7,391.2 41.5,391.2 42.2,391.1 43.0,391.3 43.7,391.1 44.5,391.1 45.2,391.2 46.0,391.2 46.7,391.2 47.5,391.3 48.2,391.2 49.0,391.1 49.7,391.1 50.5,391.2 51.2,391.1 52.0,391.2 52.7,391.1 53.5,391.0 54.2,391.0 55.0,391.1 55.7,391.1 56.5,391.2 57.2,391.2 58.0,391.1 58.7,391.2 59.5,391.2 60.2,391.0 61.0,391.2 61.7,391.1 62.5,391.2 63.2,391.0 64.0,391.1 64.7,391.1 65.5,391.2 66.2,391.2 67.0,391.1 67.7,391.0 68.5,391.1 69.2,391.1 70.0,391.0 70.7,391.2 71.5,391.2 72.2,391.2 73.0,391.1 73.7,391.1 74.5,391.2 75.2,391.0 76.0,391.0 76.7,391.0 77.5,391.0 78.2,391.1 79.0,390.9 79.7,391.1 80.5,391.0 81.2,391.1 82.0,391.1 82.7,391.1 83.5,391.1 84.2,390.9 85.0,390.9 85.7,390.9 86.5,391.0 87.2,391.0 88.0,391.0 88.7,391.0 89.5,391.0 90.2,391.0 91.0,390.9 91.7,390.9 92.5,391.0 93.2,391.0 94.0,390.8 94.7,390.8 95.5,390.9 96.2,390.8 97.0,390.9 97.7,390.7 98.5,390.8 99.2,390.8 100.0,390.7 100.7,390.8 101.5,390.7 102.2,390.8 103.0,390.8 103.7,390.7 104.5,390.7 105.2,390.7 106.0,390.4 106.7,390.6 107.5,390.5 108.2,390.5 109.0,390.3 109.7,390.2 110.5,390.0 111.2,390.0 112.0,389.8 112.7,389.1 113.5,388.9 114.2,388.7 115.0,388.3 115.7,388.0 116.5,387.7 117.2,387.2 118.0,386.6 118.7,386.0 119.5,385.3 120.2,384.5 121.0,383.5 121.7,382.4 122.5,381.3 123.2,380.0 124.0,378.4 124.7,376.6 125.5,374.8 126.2,372.9 127.0,370.8 127.7,368.5 128.4,365.9 129.2,363.5 129.9,360.8 130.7,358.0 131.4,355.2 132.2,352.3 132.9,349.5 133.7,346.7 134.4,344.0 135.2,341.1 135.9,338.7 136.7,336.4 137.4,334.2 138.2,332.3 138.9,330.7 139.7,329.2 140.4,328.3 141.2,327.5 141.9,327.0 142.7,326.8 143.4,327.0 144.2,327.2 144.9,327.9 145.7,328.7 146.4,329.8 147.2,330.9 147.9,332.1 148.7,333.6 149.4,335.0 150.2,336.5 150.9,338.0 151.7,339.8 152.4,341.5 153.2,343.1 153.9,344.6 154.7,346.5 155.4,347.9 156.2,349.7 156.9,351.3 157.7,352.8 158.4,354.4 159.2,356.1 159.9,357.6 160.7,359.0 161.4,360.6 162.2,361.9 162.9,363.5 163.7,364.8 164.4,366.1 165.2,367.7 165.9,368.8 166.7,370.1 167.4,371.5 168.2,372.6 168.9,373.9 169.7,375.1 170.4,376.1 171.2,377.1 171.9,378.2 172.7,379.2 173.4,380.1 174.2,380.9 174.9,381.7 175.7,382.5 176.4,383.3 177.2,384.0 177.9,384.4 178.7,385.0 179.4,385.5 180.2,386.1 180.9,386.4 181.7,386.8 182.4,387.4 183.2,387.5 183.9,388.0 184.7,388.2 185.4,388.5 186.2,388.7 186.9,388.8 187.7,389.1 188.4,389.2 189.2,389.9 189.9,389.9 190.7,390.2 191.4,390.3 192.2,390.3 192.9,390.5 193.7,390.4 194.4,390.5 195.2,390.5 195.9,390.6 196.7,390.8 197.4,390.7 198.2,390.7 198.9,390.7 199.7,390.8 200.4,390.8 201.2,390.9 201.9,390.7 202.7,391.0 203.4,390.9 204.2,391.0 204.9,390.9 205.7,390.8 206.4,390.9 207.2,391.0 207.9,390.8 208.7,390.9 209.4,391.0 210.2,391.1 210.9,391.1 211.7,391.1 212.4,391.0 213.2,391.1 213.9,391.1 214.7,391.0 215.4,391.0 216.2,390.9 216.9,390.9 217.7,391.0 218.4,391.0 219.2,391.0 219.9,391.2 220.7,391.1 221.4,391.1 222.2,391.2 222.9,391.0 223.7,391.2 224.4,391.2 225.2,391.0 225.9,391.0 226.7,391.2 227.4,391.2 228.2,391.2 228.9,391.1 229.7,391.1 230.4,391.0 231.2,391.1 231.9,391.1 232.7,391.2 233.4,391.0 234.2,391.2 234.9,391.0 235.7,391.2 236.4,391.1 237.2,391.2 237.9,391.2 238.7,391.3 239.4,391.1 240.2,391.2 240.9,391.1 241.7,391.2 242.4,391.1 243.2,391.3 243.9,391.2 244.7,391.1 245.4,391.3 246.2,391.1 246.9,391.1 247.7,391.1 248.4,391.1 249.2,391.1 249.9,391.2 250.7,391.3 251.4,391.2 252.2,391.3 252.9,391.3 253.7,391.2 254.4,391.2 255.2,391.1 255.9,391.1 256.7,391.2 257.4,391.1 258.2,391.3 258.9,391.2 259.7,391.2 260.4,391.2 261.2,391.2 261.9,391.1" fill="none" stroke="#ff1a1a" stroke-width="1.55"/>
<line x1="26.00" y1="392.00" x2="261.40" y2="392.00" stroke="#2a2aff" stroke-width="1.60" />
<path d="M26.0,390.9 26.8,390.9 27.5,390.9 28.2,390.9 29.0,390.9 29.8,390.9 30.5,390.9 31.2,390.9 32.0,390.9 32.8,390.9 33.5,390.9 34.2,390.9 35.0,390.9 35.8,390.9 36.5,390.9 37.2,390.9 38.0,390.9 38.8,390.9 39.5,390.9 40.2,390.9 41.0,390.9 41.8,390.9 42.5,390.9 43.2,390.9 44.0,390.9 44.8,390.8 45.5,390.8 46.2,390.8 47.0,390.8 47.8,390.8 48.5,390.8 49.2,390.8 50.0,390.8 50.8,390.8 51.5,390.8 52.2,390.8 53.0,390.8 53.8,390.8 54.5,390.8 55.2,390.8 56.0,390.8 56.8,390.8 57.5,390.8 58.2,390.8 59.0,390.8 59.8,390.8 60.5,390.8 61.2,390.8 62.0,390.8 62.8,390.8 63.5,390.8 64.2,390.8 65.0,390.8 65.8,390.8 66.5,390.8 67.2,390.8 68.0,390.8 68.8,390.8 69.5,390.8 70.2,390.8 71.0,390.8 71.8,390.8 72.5,390.8 73.2,390.8 74.0,390.8 74.8,390.8 75.5,390.8 76.2,390.8 77.0,390.8 77.8,390.8 78.5,390.8 79.2,390.8 80.0,390.8 80.8,390.8 81.5,390.8 82.2,390.8 83.0,390.8 83.8,390.8 84.5,390.8 85.2,390.7 86.0,390.7 86.8,390.7 87.5,390.7 88.2,390.7 89.0,390.7 89.8,390.7 90.5,390.7 91.2,390.7 92.0,390.7 92.8,390.7 93.5,390.7 94.2,390.7 95.0,390.7 95.8,390.7 96.5,390.7 97.2,390.7 98.0,390.6 98.8,390.6 99.5,390.6 100.2,390.6 101.0,390.6 101.8,390.6 102.5,390.6 103.2,390.6 104.0,390.5 104.8,390.5 105.5,390.5 106.2,390.5 107.0,390.4 107.8,390.4 108.5,390.3 109.2,390.3 110.0,390.2 110.8,390.1 111.5,390.0 112.2,389.9 113.0,389.7 113.8,389.5 114.5,389.3 115.2,389.0 116.0,388.7 116.8,388.3 117.5,387.9 118.2,387.3 119.0,386.7 119.8,386.0 120.5,385.2 121.2,384.3 122.0,383.3 122.8,382.1 123.5,380.9 124.2,379.5 125.0,378.0 125.8,376.3 126.5,374.6 127.2,372.8 128.0,370.9 128.8,368.9 129.5,366.9 130.2,364.8 131.0,362.8 131.8,360.8 132.5,358.9 133.2,357.2 134.0,355.5 134.8,354.0 135.5,352.8 136.2,351.7 137.0,351.0 137.8,350.5 138.5,350.3 139.2,350.4 140.0,350.8 140.8,351.5 141.5,352.5 142.2,353.7 143.0,355.1 143.8,356.7 144.5,358.5 145.2,360.3 146.0,362.3 146.8,364.3 147.5,366.3 148.2,368.4 149.0,370.3 149.8,372.3 150.5,374.1 151.2,375.9 152.0,377.5 152.8,379.1 153.5,380.5 154.2,381.8 155.0,383.0 155.8,384.0 156.5,385.0 157.2,385.8 158.0,386.6 158.8,387.2 159.5,387.7 160.2,388.2 161.0,388.6 161.8,388.9 162.5,389.2 163.2,389.5 164.0,389.7 164.8,389.8 165.5,390.0 166.2,390.1 167.0,390.2 167.8,390.3 168.5,390.3 169.2,390.4 170.0,390.4 170.8,390.5 171.5,390.5 172.2,390.5 173.0,390.5 173.8,390.6 174.5,390.6 175.2,390.6 176.0,390.6 176.8,390.6 177.5,390.6 178.2,390.6 179.0,390.6 179.8,390.7 180.5,390.7 181.2,390.7 182.0,390.7 182.8,390.7 183.5,390.7 184.2,390.7 185.0,390.7 185.8,390.7 186.5,390.7 187.2,390.7 188.0,390.7 188.8,390.7 189.5,390.7 190.2,390.7 191.0,390.7 191.8,390.7 192.5,390.8 193.2,390.8 194.0,390.8 194.8,390.8 195.5,390.8 196.2,390.8 197.0,390.8 197.8,390.8 198.5,390.8 199.2,390.8 200.0,390.8 200.8,390.8 201.5,390.8 202.2,390.8 203.0,390.8 203.8,390.8 204.5,390.8 205.2,390.8 206.0,390.8 206.8,390.8 207.5,390.8 208.2,390.8 209.0,390.8 209.8,390.8 210.5,390.8 211.2,390.8 212.0,390.8 212.8,390.8 213.5,390.8 214.2,390.8 215.0,390.8 215.8,390.8 216.5,390.8 217.2,390.8 218.0,390.8 218.8,390.8 219.5,390.8 220.2,390.8 221.0,390.8 221.8,390.8 222.5,390.8 223.2,390.8 224.0,390.8 224.8,390.8 225.5,390.8 226.2,390.8 227.0,390.8 227.8,390.8 228.5,390.8 229.2,390.8 230.0,390.8 230.8,390.8 231.5,390.8 232.2,390.8 233.0,390.9 233.8,390.9 234.5,390.9 235.2,390.9 236.0,390.9 236.8,390.9 237.5,390.9 238.2,390.9 239.0,390.9 239.8,390.9 240.5,390.9 241.2,390.9 242.0,390.9 242.8,390.9 243.5,390.9 244.2,390.9 245.0,390.9 245.8,390.9 246.5,390.9 247.2,390.9 248.0,390.9 248.8,390.9 249.5,390.9 250.2,390.9 251.0,390.9 251.8,390.9 252.5,390.9 253.2,390.9 254.0,390.9 254.8,390.9 255.5,390.9 256.2,390.9 257.0,390.9 257.8,390.9 258.5,390.9 259.2,390.9 260.0,390.9 260.8,390.9" fill="none" stroke="#1a1aff" stroke-width="1.65"/>
<clipPath id="c1"><path d="M26.0,390.9 26.0,390.8 26.8,390.8 27.5,390.8 28.2,390.8 29.0,390.8 29.8,390.8 30.5,390.8 31.2,390.8 32.0,390.8 32.8,390.8 33.5,390.8 34.2,390.8 35.0,390.8 35.8,390.8 36.5,390.8 37.2,390.8 38.0,390.8 38.8,390.8 39.5,390.8 40.2,390.8 41.0,390.8 41.8,390.8 42.5,390.8 43.2,390.8 44.0,390.8 44.8,390.8 45.5,390.8 46.2,390.8 47.0,390.8 47.8,390.8 48.5,390.8 49.2,390.8 50.0,390.8 50.8,390.8 51.5,390.8 52.2,390.8 53.0,390.8 53.8,390.8 54.5,390.8 55.2,390.8 56.0,390.8 56.8,390.8 57.5,390.8 58.2,390.8 59.0,390.8 59.8,390.8 60.5,390.8 61.2,390.8 62.0,390.8 62.8,390.8 63.5,390.8 64.2,390.8 65.0,390.8 65.8,390.8 66.5,390.8 67.2,390.8 68.0,390.8 68.8,390.8 69.5,390.8 70.2,390.8 71.0,390.8 71.8,390.8 72.5,390.8 73.2,390.8 74.0,390.8 74.8,390.8 75.5,390.8 76.2,390.8 77.0,390.8 77.8,390.8 78.5,390.8 79.2,390.7 80.0,390.7 80.8,390.7 81.5,390.7 82.2,390.7 83.0,390.7 83.8,390.7 84.5,390.7 85.2,390.7 86.0,390.7 86.8,390.7 87.5,390.7 88.2,390.7 89.0,390.7 89.8,390.7 90.5,390.7 91.2,390.7 92.0,390.7 92.8,390.7 93.5,390.7 94.2,390.7 95.0,390.7 95.8,390.7 96.5,390.6 97.2,390.6 98.0,390.6 98.8,390.6 99.5,390.6 100.2,390.6 101.0,390.6 101.8,390.6 102.5,390.6 103.2,390.5 104.0,390.5 104.8,390.5 105.5,390.5 106.2,390.5 107.0,390.4 107.8,390.4 108.5,390.4 109.2,390.3 110.0,390.3 110.8,390.2 111.5,390.2 112.2,390.1 113.0,390.0 113.8,389.9 114.5,389.8 115.2,389.7 116.0,389.6 116.8,389.4 117.5,389.2 118.2,389.0 119.0,388.8 119.8,388.6 120.5,388.3 121.2,388.0 122.0,387.7 122.8,387.3 123.5,386.9 124.2,386.5 125.0,386.0 125.8,385.5 126.5,384.9 127.2,384.3 128.0,383.7 128.8,383.0 129.5,382.2 130.2,381.4 131.0,380.6 131.8,379.7 132.5,378.8 133.2,377.8 134.0,376.8 134.8,375.7 135.5,374.6 136.2,373.5 137.0,372.4 137.8,371.2 138.5,370.1 139.2,368.9 140.0,367.8 140.8,366.6 141.5,365.5 142.2,364.4 143.0,363.3 143.8,362.3 144.5,361.4 145.2,360.5 146.0,359.7 146.8,358.9 147.5,358.3 148.2,357.7 149.0,357.3 149.8,357.0 150.5,356.7 151.2,356.6 152.0,356.6 152.8,356.7 153.5,357.0 154.2,357.3 155.0,357.8 155.8,358.3 156.5,359.0 157.2,359.7 158.0,360.5 158.8,361.4 159.5,362.4 160.2,363.4 161.0,364.5 161.8,365.6 162.5,366.7 163.2,367.8 164.0,369.0 164.8,370.2 165.5,371.3 166.2,372.5 167.0,373.6 167.8,374.7 168.5,375.8 169.2,376.8 170.0,377.9 170.8,378.8 171.5,379.8 172.2,380.6 173.0,381.5 173.8,382.3 174.5,383.0 175.2,383.7 176.0,384.4 176.8,385.0 177.5,385.5 178.2,386.1 179.0,386.5 179.8,387.0 180.5,387.4 181.2,387.7 182.0,388.0 182.8,388.3 183.5,388.6 184.2,388.8 185.0,389.1 185.8,389.2 186.5,389.4 187.2,389.6 188.0,389.7 188.8,389.8 189.5,389.9 190.2,390.0 191.0,390.1 191.8,390.2 192.5,390.2 193.2,390.3 194.0,390.3 194.8,390.4 195.5,390.4 196.2,390.4 197.0,390.5 197.8,390.5 198.5,390.5 199.2,390.5 200.0,390.5 200.8,390.6 201.5,390.6 202.2,390.6 203.0,390.6 203.8,390.6 204.5,390.6 205.2,390.6 206.0,390.6 206.8,390.6 207.5,390.7 208.2,390.7 209.0,390.7 209.8,390.7 210.5,390.7 211.2,390.7 212.0,390.7 212.8,390.7 213.5,390.7 214.2,390.7 215.0,390.7 215.8,390.7 216.5,390.7 217.2,390.7 218.0,390.7 218.8,390.7 219.5,390.7 220.2,390.7 221.0,390.7 221.8,390.7 222.5,390.7 223.2,390.7 224.0,390.7 224.8,390.8 225.5,390.8 226.2,390.8 227.0,390.8 227.8,390.8 228.5,390.8 229.2,390.8 230.0,390.8 230.8,390.8 231.5,390.8 232.2,390.8 233.0,390.8 233.8,390.8 234.5,390.8 235.2,390.8 236.0,390.8 236.8,390.8 237.5,390.8 238.2,390.8 239.0,390.8 239.8,390.8 240.5,390.8 241.2,390.8 242.0,390.8 242.8,390.8 243.5,390.8 244.2,390.8 245.0,390.8 245.8,390.8 246.5,390.8 247.2,390.8 248.0,390.8 248.8,390.8 249.5,390.8 250.2,390.8 251.0,390.8 251.8,390.8 252.5,390.8 253.2,390.8 254.0,390.8 254.8,390.8 255.5,390.8 256.2,390.8 257.0,390.8 257.8,390.8 258.5,390.8 259.2,390.8 260.0,390.8 260.8,390.8 260.8,390.9 Z"/></clipPath>
<path d="M26.0,390.9 26.8,390.9 27.5,390.9 28.2,390.9 29.0,390.9 29.8,390.9 30.5,390.9 31.2,390.9 32.0,390.9 32.8,390.9 33.5,390.9 34.2,390.9 35.0,390.9 35.8,390.9 36.5,390.9 37.2,390.9 38.0,390.9 38.8,390.9 39.5,390.9 40.2,390.9 41.0,390.9 41.8,390.9 42.5,390.9 43.2,390.9 44.0,390.9 44.8,390.8 45.5,390.8 46.2,390.8 47.0,390.8 47.8,390.8 48.5,390.8 49.2,390.8 50.0,390.8 50.8,390.8 51.5,390.8 52.2,390.8 53.0,390.8 53.8,390.8 54.5,390.8 55.2,390.8 56.0,390.8 56.8,390.8 57.5,390.8 58.2,390.8 59.0,390.8 59.8,390.8 60.5,390.8 61.2,390.8 62.0,390.8 62.8,390.8 63.5,390.8 64.2,390.8 65.0,390.8 65.8,390.8 66.5,390.8 67.2,390.8 68.0,390.8 68.8,390.8 69.5,390.8 70.2,390.8 71.0,390.8 71.8,390.8 72.5,390.8 73.2,390.8 74.0,390.8 74.8,390.8 75.5,390.8 76.2,390.8 77.0,390.8 77.8,390.8 78.5,390.8 79.2,390.8 80.0,390.8 80.8,390.8 81.5,390.8 82.2,390.8 83.0,390.8 83.8,390.8 84.5,390.8 85.2,390.7 86.0,390.7 86.8,390.7 87.5,390.7 88.2,390.7 89.0,390.7 89.8,390.7 90.5,390.7 91.2,390.7 92.0,390.7 92.8,390.7 93.5,390.7 94.2,390.7 95.0,390.7 95.8,390.7 96.5,390.7 97.2,390.7 98.0,390.6 98.8,390.6 99.5,390.6 100.2,390.6 101.0,390.6 101.8,390.6 102.5,390.6 103.2,390.6 104.0,390.5 104.8,390.5 105.5,390.5 106.2,390.5 107.0,390.4 107.8,390.4 108.5,390.3 109.2,390.3 110.0,390.2 110.8,390.1 111.5,390.0 112.2,389.9 113.0,389.7 113.8,389.5 114.5,389.3 115.2,389.0 116.0,388.7 116.8,388.3 117.5,387.9 118.2,387.3 119.0,386.7 119.8,386.0 120.5,385.2 121.2,384.3 122.0,383.3 122.8,382.1 123.5,380.9 124.2,379.5 125.0,378.0 125.8,376.3 126.5,374.6 127.2,372.8 128.0,370.9 128.8,368.9 129.5,366.9 130.2,364.8 131.0,362.8 131.8,360.8 132.5,358.9 133.2,357.2 134.0,355.5 134.8,354.0 135.5,352.8 136.2,351.7 137.0,351.0 137.8,350.5 138.5,350.3 139.2,350.4 140.0,350.8 140.8,351.5 141.5,352.5 142.2,353.7 143.0,355.1 143.8,356.7 144.5,358.5 145.2,360.3 146.0,362.3 146.8,364.3 147.5,366.3 148.2,368.4 149.0,370.3 149.8,372.3 150.5,374.1 151.2,375.9 152.0,377.5 152.8,379.1 153.5,380.5 154.2,381.8 155.0,383.0 155.8,384.0 156.5,385.0 157.2,385.8 158.0,386.6 158.8,387.2 159.5,387.7 160.2,388.2 161.0,388.6 161.8,388.9 162.5,389.2 163.2,389.5 164.0,389.7 164.8,389.8 165.5,390.0 166.2,390.1 167.0,390.2 167.8,390.3 168.5,390.3 169.2,390.4 170.0,390.4 170.8,390.5 171.5,390.5 172.2,390.5 173.0,390.5 173.8,390.6 174.5,390.6 175.2,390.6 176.0,390.6 176.8,390.6 177.5,390.6 178.2,390.6 179.0,390.6 179.8,390.7 180.5,390.7 181.2,390.7 182.0,390.7 182.8,390.7 183.5,390.7 184.2,390.7 185.0,390.7 185.8,390.7 186.5,390.7 187.2,390.7 188.0,390.7 188.8,390.7 189.5,390.7 190.2,390.7 191.0,390.7 191.8,390.7 192.5,390.8 193.2,390.8 194.0,390.8 194.8,390.8 195.5,390.8 196.2,390.8 197.0,390.8 197.8,390.8 198.5,390.8 199.2,390.8 200.0,390.8 200.8,390.8 201.5,390.8 202.2,390.8 203.0,390.8 203.8,390.8 204.5,390.8 205.2,390.8 206.0,390.8 206.8,390.8 207.5,390.8 208.2,390.8 209.0,390.8 209.8,390.8 210.5,390.8 211.2,390.8 212.0,390.8 212.8,390.8 213.5,390.8 214.2,390.8 215.0,390.8 215.8,390.8 216.5,390.8 217.2,390.8 218.0,390.8 218.8,390.8 219.5,390.8 220.2,390.8 221.0,390.8 221.8,390.8 222.5,390.8 223.2,390.8 224.0,390.8 224.8,390.8 225.5,390.8 226.2,390.8 227.0,390.8 227.8,390.8 228.5,390.8 229.2,390.8 230.0,390.8 230.8,390.8 231.5,390.8 232.2,390.8 233.0,390.9 233.8,390.9 234.5,390.9 235.2,390.9 236.0,390.9 236.8,390.9 237.5,390.9 238.2,390.9 239.0,390.9 239.8,390.9 240.5,390.9 241.2,390.9 242.0,390.9 242.8,390.9 243.5,390.9 244.2,390.9 245.0,390.9 245.8,390.9 246.5,390.9 247.2,390.9 248.0,390.9 248.8,390.9 249.5,390.9 250.2,390.9 251.0,390.9 251.8,390.9 252.5,390.9 253.2,390.9 254.0,390.9 254.8,390.9 255.5,390.9 256.2,390.9 257.0,390.9 257.8,390.9 258.5,390.9 259.2,390.9 260.0,390.9 260.8,390.9" fill="none" stroke="#1a3a8a" stroke-width="1.65" clip-path="url(#c1)"/>
<path d="M26.0,390.8 26.8,390.8 27.5,390.8 28.2,390.8 29.0,390.8 29.8,390.8 30.5,390.8 31.2,390.8 32.0,390.8 32.8,390.8 33.5,390.8 34.2,390.8 35.0,390.8 35.8,390.8 36.5,390.8 37.2,390.8 38.0,390.8 38.8,390.8 39.5,390.8 40.2,390.8 41.0,390.8 41.8,390.8 42.5,390.8 43.2,390.8 44.0,390.8 44.8,390.8 45.5,390.8 46.2,390.8 47.0,390.8 47.8,390.8 48.5,390.8 49.2,390.8 50.0,390.8 50.8,390.8 51.5,390.8 52.2,390.8 53.0,390.8 53.8,390.8 54.5,390.8 55.2,390.8 56.0,390.8 56.8,390.8 57.5,390.8 58.2,390.8 59.0,390.8 59.8,390.8 60.5,390.8 61.2,390.8 62.0,390.8 62.8,390.8 63.5,390.8 64.2,390.8 65.0,390.8 65.8,390.8 66.5,390.8 67.2,390.8 68.0,390.8 68.8,390.8 69.5,390.8 70.2,390.8 71.0,390.8 71.8,390.8 72.5,390.8 73.2,390.8 74.0,390.8 74.8,390.8 75.5,390.8 76.2,390.8 77.0,390.8 77.8,390.8 78.5,390.8 79.2,390.7 80.0,390.7 80.8,390.7 81.5,390.7 82.2,390.7 83.0,390.7 83.8,390.7 84.5,390.7 85.2,390.7 86.0,390.7 86.8,390.7 87.5,390.7 88.2,390.7 89.0,390.7 89.8,390.7 90.5,390.7 91.2,390.7 92.0,390.7 92.8,390.7 93.5,390.7 94.2,390.7 95.0,390.7 95.8,390.7 96.5,390.6 97.2,390.6 98.0,390.6 98.8,390.6 99.5,390.6 100.2,390.6 101.0,390.6 101.8,390.6 102.5,390.6 103.2,390.5 104.0,390.5 104.8,390.5 105.5,390.5 106.2,390.5 107.0,390.4 107.8,390.4 108.5,390.4 109.2,390.3 110.0,390.3 110.8,390.2 111.5,390.2 112.2,390.1 113.0,390.0 113.8,389.9 114.5,389.8 115.2,389.7 116.0,389.6 116.8,389.4 117.5,389.2 118.2,389.0 119.0,388.8 119.8,388.6 120.5,388.3 121.2,388.0 122.0,387.7 122.8,387.3 123.5,386.9 124.2,386.5 125.0,386.0 125.8,385.5 126.5,384.9 127.2,384.3 128.0,383.7 128.8,383.0 129.5,382.2 130.2,381.4 131.0,380.6 131.8,379.7 132.5,378.8 133.2,377.8 134.0,376.8 134.8,375.7 135.5,374.6 136.2,373.5 137.0,372.4 137.8,371.2 138.5,370.1 139.2,368.9 140.0,367.8 140.8,366.6 141.5,365.5 142.2,364.4 143.0,363.3 143.8,362.3 144.5,361.4 145.2,360.5 146.0,359.7 146.8,358.9 147.5,358.3 148.2,357.7 149.0,357.3 149.8,357.0 150.5,356.7 151.2,356.6 152.0,356.6 152.8,356.7 153.5,357.0 154.2,357.3 155.0,357.8 155.8,358.3 156.5,359.0 157.2,359.7 158.0,360.5 158.8,361.4 159.5,362.4 160.2,363.4 161.0,364.5 161.8,365.6 162.5,366.7 163.2,367.8 164.0,369.0 164.8,370.2 165.5,371.3 166.2,372.5 167.0,373.6 167.8,374.7 168.5,375.8 169.2,376.8 170.0,377.9 170.8,378.8 171.5,379.8 172.2,380.6 173.0,381.5 173.8,382.3 174.5,383.0 175.2,383.7 176.0,384.4 176.8,385.0 177.5,385.5 178.2,386.1 179.0,386.5 179.8,387.0 180.5,387.4 181.2,387.7 182.0,388.0 182.8,388.3 183.5,388.6 184.2,388.8 185.0,389.1 185.8,389.2 186.5,389.4 187.2,389.6 188.0,389.7 188.8,389.8 189.5,389.9 190.2,390.0 191.0,390.1 191.8,390.2 192.5,390.2 193.2,390.3 194.0,390.3 194.8,390.4 195.5,390.4 196.2,390.4 197.0,390.5 197.8,390.5 198.5,390.5 199.2,390.5 200.0,390.5 200.8,390.6 201.5,390.6 202.2,390.6 203.0,390.6 203.8,390.6 204.5,390.6 205.2,390.6 206.0,390.6 206.8,390.6 207.5,390.7 208.2,390.7 209.0,390.7 209.8,390.7 210.5,390.7 211.2,390.7 212.0,390.7 212.8,390.7 213.5,390.7 214.2,390.7 215.0,390.7 215.8,390.7 216.5,390.7 217.2,390.7 218.0,390.7 218.8,390.7 219.5,390.7 220.2,390.7 221.0,390.7 221.8,390.7 222.5,390.7 223.2,390.7 224.0,390.7 224.8,390.8 225.5,390.8 226.2,390.8 227.0,390.8 227.8,390.8 228.5,390.8 229.2,390.8 230.0,390.8 230.8,390.8 231.5,390.8 232.2,390.8 233.0,390.8 233.8,390.8 234.5,390.8 235.2,390.8 236.0,390.8 236.8,390.8 237.5,390.8 238.2,390.8 239.0,390.8 239.8,390.8 240.5,390.8 241.2,390.8 242.0,390.8 242.8,390.8 243.5,390.8 244.2,390.8 245.0,390.8 245.8,390.8 246.5,390.8 247.2,390.8 248.0,390.8 248.8,390.8 249.5,390.8 250.2,390.8 251.0,390.8 251.8,390.8 252.5,390.8 253.2,390.8 254.0,390.8 254.8,390.8 255.5,390.8 256.2,390.8 257.0,390.8 257.8,390.8 258.5,390.8 259.2,390.8 260.0,390.8 260.8,390.8" fill="none" stroke="#108010" stroke-width="1.75"/>
<line x1="26.00" y1="390.70" x2="261.40" y2="390.70" stroke="#108010" stroke-width="1.60" />
<line x1="26.00" y1="390.50" x2="261.40" y2="390.50" stroke="#111" stroke-width="0.90" stroke-dasharray="4,5"/>
<text x="60.60" y="358.00" font-size="12.50" fill="#1a1a1a" text-anchor="start" textLength="37.50" lengthAdjust="spacingAndGlyphs" stroke="#1a1a1a" stroke-width="0.15" >C-O-C/</text>
<text x="60.60" y="373.00" font-size="12.50" fill="#1a1a1a" text-anchor="start" textLength="34.80" lengthAdjust="spacingAndGlyphs" stroke="#1a1a1a" stroke-width="0.15" >C-O-H</text>
<text x="183.60" y="363.00" font-size="12.50" fill="#1a1a1a" text-anchor="start" textLength="38.80" lengthAdjust="spacingAndGlyphs" stroke="#1a1a1a" stroke-width="0.15" >Si-O-Si</text>
<line x1="101.00" y1="357.00" x2="120.44" y2="363.27" stroke="#222" stroke-width="0.95" />
<path d="M125.20,364.80 L118.69,365.43 L120.29,360.48 Z" fill="#222"/>
<line x1="182.40" y1="358.00" x2="168.46" y2="366.58" stroke="#222" stroke-width="0.95" />
<path d="M164.20,369.20 L167.95,363.84 L170.67,368.27 Z" fill="#222"/>
<text x="143.50" y="423.50" font-size="11.80" fill="#1a1a1a" text-anchor="middle" textLength="91.80" lengthAdjust="spacingAndGlyphs" stroke="#1a1a1a" stroke-width="0.15" >Binding Energy (eV)</text>
<text x="0.00" y="0.00" font-size="12.80" fill="#1a1a1a" text-anchor="middle" textLength="76.00" lengthAdjust="spacingAndGlyphs" stroke="#1a1a1a" stroke-width="0.15" transform="translate(14.0,304) rotate(-90)">Intensity (a.u.)</text>
<rect x="300.00" y="216.00" width="238.30" height="78.00" fill="none" stroke="#585858" stroke-width="1.30"/>
<line x1="300.00" y1="294.00" x2="300.00" y2="296.50" stroke="#333" stroke-width="1.10" />
<text x="300.00" y="307.00" font-size="10.20" fill="#1a1a1a" text-anchor="middle" textLength="14.20" lengthAdjust="spacingAndGlyphs" stroke="#1a1a1a" stroke-width="0.15" >280</text>
<line x1="339.66" y1="294.00" x2="339.66" y2="296.50" stroke="#333" stroke-width="1.10" />
<text x="339.66" y="307.00" font-size="10.20" fill="#1a1a1a" text-anchor="middle" textLength="14.20" lengthAdjust="spacingAndGlyphs" stroke="#1a1a1a" stroke-width="0.15" >282</text>
<line x1="379.32" y1="294.00" x2="379.32" y2="296.50" stroke="#333" stroke-width="1.10" />
<text x="379.32" y="307.00" font-size="10.20" fill="#1a1a1a" text-anchor="middle" textLength="14.20" lengthAdjust="spacingAndGlyphs" stroke="#1a1a1a" stroke-width="0.15" >284</text>
<line x1="418.98" y1="294.00" x2="418.98" y2="296.50" stroke="#333" stroke-width="1.10" />
<text x="418.98" y="307.00" font-size="10.20" fill="#1a1a1a" text-anchor="middle" textLength="14.20" lengthAdjust="spacingAndGlyphs" stroke="#1a1a1a" stroke-width="0.15" >286</text>
<line x1="458.64" y1="294.00" x2="458.64" y2="296.50" stroke="#333" stroke-width="1.10" />
<text x="458.64" y="307.00" font-size="10.20" fill="#1a1a1a" text-anchor="middle" textLength="14.20" lengthAdjust="spacingAndGlyphs" stroke="#1a1a1a" stroke-width="0.15" >288</text>
<line x1="498.30" y1="294.00" x2="498.30" y2="296.50" stroke="#333" stroke-width="1.10" />
<text x="498.30" y="307.00" font-size="10.20" fill="#1a1a1a" text-anchor="middle" textLength="14.20" lengthAdjust="spacingAndGlyphs" stroke="#1a1a1a" stroke-width="0.15" >290</text>
<line x1="537.96" y1="294.00" x2="537.96" y2="296.50" stroke="#333" stroke-width="1.10" />
<text x="537.96" y="307.00" font-size="10.20" fill="#1a1a1a" text-anchor="middle" textLength="14.20" lengthAdjust="spacingAndGlyphs" stroke="#1a1a1a" stroke-width="0.15" >292</text>
<text x="302.00" y="228.40" font-size="10.80" fill="#1a1010" text-anchor="start" textLength="72.60" lengthAdjust="spacingAndGlyphs" stroke="#1a1010" stroke-width="0.15" >Pristine RC C 1s</text>
<text x="278.40" y="239.50" font-size="23.00" fill="#111" text-anchor="start" stroke="#111" stroke-width="0.15" >D</text>
<line x1="300.50" y1="286.30" x2="538.00" y2="286.30" stroke="#108010" stroke-width="1.40" />
<path d="M300.5,284.7 300.5,284.7 301.2,284.7 302.0,284.7 302.8,284.7 303.5,284.7 304.2,284.7 305.0,284.7 305.8,284.7 306.5,284.7 307.2,284.7 308.0,284.7 308.8,284.7 309.5,284.7 310.2,284.7 311.0,284.7 311.8,284.7 312.5,284.7 313.2,284.7 314.0,284.7 314.8,284.7 315.5,284.7 316.2,284.7 317.0,284.7 317.8,284.7 318.5,284.7 319.2,284.7 320.0,284.7 320.8,284.7 321.5,284.7 322.2,284.7 323.0,284.7 323.8,284.7 324.5,284.7 325.2,284.7 326.0,284.7 326.8,284.7 327.5,284.7 328.2,284.7 329.0,284.7 329.8,284.7 330.5,284.7 331.2,284.7 332.0,284.7 332.8,284.7 333.5,284.7 334.2,284.7 335.0,284.6 335.8,284.6 336.5,284.6 337.2,284.6 338.0,284.6 338.8,284.6 339.5,284.6 340.2,284.6 341.0,284.6 341.8,284.6 342.5,284.6 343.2,284.6 344.0,284.6 344.8,284.6 345.5,284.6 346.2,284.6 347.0,284.6 347.8,284.6 348.5,284.6 349.2,284.6 350.0,284.6 350.8,284.6 351.5,284.6 352.2,284.6 353.0,284.6 353.8,284.6 354.5,284.6 355.2,284.6 356.0,284.6 356.8,284.6 357.5,284.6 358.2,284.6 359.0,284.6 359.8,284.6 360.5,284.6 361.2,284.6 362.0,284.6 362.8,284.6 363.5,284.6 364.2,284.6 365.0,284.6 365.8,284.6 366.5,284.6 367.2,284.6 368.0,284.6 368.8,284.6 369.5,284.6 370.2,284.6 371.0,284.6 371.8,284.6 372.5,284.6 373.2,284.6 374.0,284.6 374.8,284.6 375.5,284.6 376.2,284.6 377.0,284.5 377.8,284.5 378.5,284.5 379.2,284.5 380.0,284.5 380.8,284.5 381.5,284.5 382.2,284.5 383.0,284.5 383.8,284.5 384.5,284.5 385.2,284.5 386.0,284.4 386.8,284.4 387.5,284.4 388.2,284.4 389.0,284.4 389.8,284.3 390.5,284.3 391.2,284.3 392.0,284.3 392.8,284.2 393.5,284.2 394.2,284.1 395.0,284.1 395.8,284.0 396.5,284.0 397.2,283.9 398.0,283.8 398.8,283.7 399.5,283.7 400.2,283.6 401.0,283.5 401.8,283.4 402.5,283.2 403.2,283.1 404.0,283.0 404.8,282.8 405.5,282.7 406.2,282.5 407.0,282.3 407.8,282.2 408.5,282.0 409.2,281.7 410.0,281.5 410.8,281.3 411.5,281.1 412.2,280.8 413.0,280.6 413.8,280.3 414.5,280.0 415.2,279.7 416.0,279.4 416.8,279.2 417.5,278.9 418.2,278.6 419.0,278.3 419.8,278.0 420.5,277.6 421.2,277.3 422.0,277.1 422.8,276.8 423.5,276.5 424.2,276.2 425.0,275.9 425.8,275.7 426.5,275.4 427.2,275.2 428.0,275.0 428.8,274.8 429.5,274.7 430.2,274.5 431.0,274.4 431.8,274.3 432.5,274.3 433.2,274.2 434.0,274.2 434.8,274.2 435.5,274.3 436.2,274.3 437.0,274.4 437.8,274.5 438.5,274.7 439.2,274.8 440.0,275.0 440.8,275.2 441.5,275.4 442.2,275.7 443.0,275.9 443.8,276.2 444.5,276.5 445.2,276.8 446.0,277.1 446.8,277.3 447.5,277.6 448.2,278.0 449.0,278.3 449.8,278.6 450.5,278.9 451.2,279.2 452.0,279.4 452.8,279.7 453.5,280.0 454.2,280.3 455.0,280.6 455.8,280.8 456.5,281.1 457.2,281.3 458.0,281.5 458.8,281.7 459.5,282.0 460.2,282.2 461.0,282.3 461.8,282.5 462.5,282.7 463.2,282.8 464.0,283.0 464.8,283.1 465.5,283.2 466.2,283.4 467.0,283.5 467.8,283.6 468.5,283.7 469.2,283.7 470.0,283.8 470.8,283.9 471.5,284.0 472.2,284.0 473.0,284.1 473.8,284.1 474.5,284.2 475.2,284.2 476.0,284.3 476.8,284.3 477.5,284.3 478.2,284.3 479.0,284.4 479.8,284.4 480.5,284.4 481.2,284.4 482.0,284.4 482.8,284.5 483.5,284.5 484.2,284.5 485.0,284.5 485.8,284.5 486.5,284.5 487.2,284.5 488.0,284.5 488.8,284.5 489.5,284.5 490.2,284.5 491.0,284.5 491.8,284.6 492.5,284.6 493.2,284.6 494.0,284.6 494.8,284.6 495.5,284.6 496.2,284.6 497.0,284.6 497.8,284.6 498.5,284.6 499.2,284.6 500.0,284.6 500.8,284.6 501.5,284.6 502.2,284.6 503.0,284.6 503.8,284.6 504.5,284.6 505.2,284.6 506.0,284.6 506.8,284.6 507.5,284.6 508.2,284.6 509.0,284.6 509.8,284.6 510.5,284.6 511.2,284.6 512.0,284.6 512.8,284.6 513.5,284.6 514.2,284.6 515.0,284.6 515.8,284.6 516.5,284.6 517.2,284.6 518.0,284.6 518.8,284.6 519.5,284.6 520.2,284.6 521.0,284.6 521.8,284.6 522.5,284.6 523.2,284.6 524.0,284.6 524.8,284.6 525.5,284.6 526.2,284.6 527.0,284.6 527.8,284.6 528.5,284.6 529.2,284.6 530.0,284.6 530.8,284.6 531.5,284.6 532.2,284.6 533.0,284.6 533.8,284.7 534.5,284.7 535.2,284.7 536.0,284.7 536.8,284.7 537.5,284.7 537.5,284.7 Z" fill="#b0dcb8" stroke="none"/>
<path d="M300.5,284.7 301.2,284.7 302.0,284.7 302.8,284.7 303.5,284.7 304.2,284.7 305.0,284.7 305.8,284.7 306.5,284.7 307.2,284.7 308.0,284.7 308.8,284.7 309.5,284.7 310.2,284.7 311.0,284.7 311.8,284.7 312.5,284.7 313.2,284.7 314.0,284.7 314.8,284.7 315.5,284.7 316.2,284.7 317.0,284.7 317.8,284.7 318.5,284.7 319.2,284.7 320.0,284.7 320.8,284.7 321.5,284.7 322.2,284.7 323.0,284.7 323.8,284.7 324.5,284.7 325.2,284.7 326.0,284.7 326.8,284.7 327.5,284.7 328.2,284.7 329.0,284.7 329.8,284.7 330.5,284.7 331.2,284.7 332.0,284.7 332.8,284.7 333.5,284.7 334.2,284.7 335.0,284.6 335.8,284.6 336.5,284.6 337.2,284.6 338.0,284.6 338.8,284.6 339.5,284.6 340.2,284.6 341.0,284.6 341.8,284.6 342.5,284.6 343.2,284.6 344.0,284.6 344.8,284.6 345.5,284.6 346.2,284.6 347.0,284.6 347.8,284.6 348.5,284.6 349.2,284.6 350.0,284.6 350.8,284.6 351.5,284.6 352.2,284.6 353.0,284.6 353.8,284.6 354.5,284.6 355.2,284.6 356.0,284.6 356.8,284.6 357.5,284.6 358.2,284.6 359.0,284.6 359.8,284.6 360.5,284.6 361.2,284.6 362.0,284.6 362.8,284.6 363.5,284.6 364.2,284.6 365.0,284.6 365.8,284.6 366.5,284.6 367.2,284.6 368.0,284.6 368.8,284.6 369.5,284.6 370.2,284.6 371.0,284.6 371.8,284.6 372.5,284.6 373.2,284.6 374.0,284.6 374.8,284.6 375.5,284.6 376.2,284.6 377.0,284.5 377.8,284.5 378.5,284.5 379.2,284.5 380.0,284.5 380.8,284.5 381.5,284.5 382.2,284.5 383.0,284.5 383.8,284.5 384.5,284.5 385.2,284.5 386.0,284.4 386.8,284.4 387.5,284.4 388.2,284.4 389.0,284.4 389.8,284.3 390.5,284.3 391.2,284.3 392.0,284.3 392.8,284.2 393.5,284.2 394.2,284.1 395.0,284.1 395.8,284.0 396.5,284.0 397.2,283.9 398.0,283.8 398.8,283.7 399.5,283.7 400.2,283.6 401.0,283.5 401.8,283.4 402.5,283.2 403.2,283.1 404.0,283.0 404.8,282.8 405.5,282.7 406.2,282.5 407.0,282.3 407.8,282.2 408.5,282.0 409.2,281.7 410.0,281.5 410.8,281.3 411.5,281.1 412.2,280.8 413.0,280.6 413.8,280.3 414.5,280.0 415.2,279.7 416.0,279.4 416.8,279.2 417.5,278.9 418.2,278.6 419.0,278.3 419.8,278.0 420.5,277.6 421.2,277.3 422.0,277.1 422.8,276.8 423.5,276.5 424.2,276.2 425.0,275.9 425.8,275.7 426.5,275.4 427.2,275.2 428.0,275.0 428.8,274.8 429.5,274.7 430.2,274.5 431.0,274.4 431.8,274.3 432.5,274.3 433.2,274.2 434.0,274.2 434.8,274.2 435.5,274.3 436.2,274.3 437.0,274.4 437.8,274.5 438.5,274.7 439.2,274.8 440.0,275.0 440.8,275.2 441.5,275.4 442.2,275.7 443.0,275.9 443.8,276.2 444.5,276.5 445.2,276.8 446.0,277.1 446.8,277.3 447.5,277.6 448.2,278.0 449.0,278.3 449.8,278.6 450.5,278.9 451.2,279.2 452.0,279.4 452.8,279.7 453.5,280.0 454.2,280.3 455.0,280.6 455.8,280.8 456.5,281.1 457.2,281.3 458.0,281.5 458.8,281.7 459.5,282.0 460.2,282.2 461.0,282.3 461.8,282.5 462.5,282.7 463.2,282.8 464.0,283.0 464.8,283.1 465.5,283.2 466.2,283.4 467.0,283.5 467.8,283.6 468.5,283.7 469.2,283.7 470.0,283.8 470.8,283.9 471.5,284.0 472.2,284.0 473.0,284.1 473.8,284.1 474.5,284.2 475.2,284.2 476.0,284.3 476.8,284.3 477.5,284.3 478.2,284.3 479.0,284.4 479.8,284.4 480.5,284.4 481.2,284.4 482.0,284.4 482.8,284.5 483.5,284.5 484.2,284.5 485.0,284.5 485.8,284.5 486.5,284.5 487.2,284.5 488.0,284.5 488.8,284.5 489.5,284.5 490.2,284.5 491.0,284.5 491.8,284.6 492.5,284.6 493.2,284.6 494.0,284.6 494.8,284.6 495.5,284.6 496.2,284.6 497.0,284.6 497.8,284.6 498.5,284.6 499.2,284.6 500.0,284.6 500.8,284.6 501.5,284.6 502.2,284.6 503.0,284.6 503.8,284.6 504.5,284.6 505.2,284.6 506.0,284.6 506.8,284.6 507.5,284.6 508.2,284.6 509.0,284.6 509.8,284.6 510.5,284.6 511.2,284.6 512.0,284.6 512.8,284.6 513.5,284.6 514.2,284.6 515.0,284.6 515.8,284.6 516.5,284.6 517.2,284.6 518.0,284.6 518.8,284.6 519.5,284.6 520.2,284.6 521.0,284.6 521.8,284.6 522.5,284.6 523.2,284.6 524.0,284.6 524.8,284.6 525.5,284.6 526.2,284.6 527.0,284.6 527.8,284.6 528.5,284.6 529.2,284.6 530.0,284.6 530.8,284.6 531.5,284.6 532.2,284.6 533.0,284.6 533.8,284.7 534.5,284.7 535.2,284.7 536.0,284.7 536.8,284.7 537.5,284.7" fill="none" stroke="#108010" stroke-width="1.65"/>
<path d="M300.5,284.7 300.5,284.7 301.2,284.6 302.0,284.6 302.8,284.6 303.5,284.6 304.2,284.6 305.0,284.6 305.8,284.6 306.5,284.6 307.2,284.6 308.0,284.6 308.8,284.6 309.5,284.6 310.2,284.6 311.0,284.6 311.8,284.6 312.5,284.6 313.2,284.6 314.0,284.6 314.8,284.6 315.5,284.6 316.2,284.6 317.0,284.6 317.8,284.6 318.5,284.6 319.2,284.6 320.0,284.6 320.8,284.6 321.5,284.6 322.2,284.6 323.0,284.6 323.8,284.6 324.5,284.6 325.2,284.6 326.0,284.6 326.8,284.6 327.5,284.6 328.2,284.6 329.0,284.6 329.8,284.6 330.5,284.6 331.2,284.6 332.0,284.6 332.8,284.6 333.5,284.6 334.2,284.6 335.0,284.6 335.8,284.6 336.5,284.6 337.2,284.6 338.0,284.6 338.8,284.6 339.5,284.6 340.2,284.6 341.0,284.6 341.8,284.5 342.5,284.5 343.2,284.5 344.0,284.5 344.8,284.5 345.5,284.5 346.2,284.5 347.0,284.5 347.8,284.5 348.5,284.5 349.2,284.5 350.0,284.5 350.8,284.5 351.5,284.5 352.2,284.5 353.0,284.4 353.8,284.4 354.5,284.4 355.2,284.4 356.0,284.4 356.8,284.4 357.5,284.3 358.2,284.3 359.0,284.3 359.8,284.2 360.5,284.2 361.2,284.1 362.0,284.0 362.8,283.9 363.5,283.8 364.2,283.6 365.0,283.4 365.8,283.2 366.5,283.0 367.2,282.7 368.0,282.3 368.8,281.9 369.5,281.4 370.2,280.8 371.0,280.2 371.8,279.4 372.5,278.6 373.2,277.6 374.0,276.5 374.8,275.3 375.5,274.0 376.2,272.5 377.0,270.8 377.8,269.1 378.5,267.1 379.2,265.1 380.0,262.8 380.8,260.5 381.5,258.0 382.2,255.5 383.0,252.8 383.8,250.1 384.5,247.4 385.2,244.6 386.0,241.9 386.8,239.2 387.5,236.6 388.2,234.2 389.0,231.8 389.8,229.7 390.5,227.8 391.2,226.1 392.0,224.8 392.8,223.7 393.5,222.9 394.2,222.5 395.0,222.4 395.8,222.7 396.5,223.3 397.2,224.2 398.0,225.5 398.8,227.0 399.5,228.8 400.2,230.8 401.0,233.1 401.8,235.5 402.5,238.0 403.2,240.6 404.0,243.4 404.8,246.1 405.5,248.9 406.2,251.6 407.0,254.3 407.8,256.9 408.5,259.4 409.2,261.8 410.0,264.0 410.8,266.2 411.5,268.2 412.2,270.0 413.0,271.7 413.8,273.3 414.5,274.7 415.2,276.0 416.0,277.1 416.8,278.2 417.5,279.1 418.2,279.9 419.0,280.6 419.8,281.2 420.5,281.7 421.2,282.1 422.0,282.5 422.8,282.8 423.5,283.1 424.2,283.3 425.0,283.5 425.8,283.7 426.5,283.8 427.2,284.0 428.0,284.0 428.8,284.1 429.5,284.2 430.2,284.2 431.0,284.3 431.8,284.3 432.5,284.4 433.2,284.4 434.0,284.4 434.8,284.4 435.5,284.4 436.2,284.4 437.0,284.5 437.8,284.5 438.5,284.5 439.2,284.5 440.0,284.5 440.8,284.5 441.5,284.5 442.2,284.5 443.0,284.5 443.8,284.5 444.5,284.5 445.2,284.5 446.0,284.5 446.8,284.5 447.5,284.5 448.2,284.6 449.0,284.6 449.8,284.6 450.5,284.6 451.2,284.6 452.0,284.6 452.8,284.6 453.5,284.6 454.2,284.6 455.0,284.6 455.8,284.6 456.5,284.6 457.2,284.6 458.0,284.6 458.8,284.6 459.5,284.6 460.2,284.6 461.0,284.6 461.8,284.6 462.5,284.6 463.2,284.6 464.0,284.6 464.8,284.6 465.5,284.6 466.2,284.6 467.0,284.6 467.8,284.6 468.5,284.6 469.2,284.6 470.0,284.6 470.8,284.6 471.5,284.6 472.2,284.6 473.0,284.6 473.8,284.6 474.5,284.6 475.2,284.6 476.0,284.6 476.8,284.6 477.5,284.6 478.2,284.6 479.0,284.6 479.8,284.6 480.5,284.6 481.2,284.6 482.0,284.6 482.8,284.6 483.5,284.6 484.2,284.6 485.0,284.6 485.8,284.6 486.5,284.6 487.2,284.6 488.0,284.6 488.8,284.6 489.5,284.7 490.2,284.7 491.0,284.7 491.8,284.7 492.5,284.7 493.2,284.7 494.0,284.7 494.8,284.7 495.5,284.7 496.2,284.7 497.0,284.7 497.8,284.7 498.5,284.7 499.2,284.7 500.0,284.7 500.8,284.7 501.5,284.7 502.2,284.7 503.0,284.7 503.8,284.7 504.5,284.7 505.2,284.7 506.0,284.7 506.8,284.7 507.5,284.7 508.2,284.7 509.0,284.7 509.8,284.7 510.5,284.7 511.2,284.7 512.0,284.7 512.8,284.7 513.5,284.7 514.2,284.7 515.0,284.7 515.8,284.7 516.5,284.7 517.2,284.7 518.0,284.7 518.8,284.7 519.5,284.7 520.2,284.7 521.0,284.7 521.8,284.7 522.5,284.7 523.2,284.7 524.0,284.7 524.8,284.7 525.5,284.7 526.2,284.7 527.0,284.7 527.8,284.7 528.5,284.7 529.2,284.7 530.0,284.7 530.8,284.7 531.5,284.7 532.2,284.7 533.0,284.7 533.8,284.7 534.5,284.7 535.2,284.7 536.0,284.7 536.8,284.7 537.5,284.7 537.5,284.7 Z" fill="#c0c0f6" stroke="none"/>
<path d="M300.5,284.7 300.5,284.7 301.2,284.7 302.0,284.7 302.8,284.7 303.5,284.7 304.2,284.7 305.0,284.7 305.8,284.7 306.5,284.7 307.2,284.7 308.0,284.7 308.8,284.7 309.5,284.7 310.2,284.7 311.0,284.7 311.8,284.7 312.5,284.7 313.2,284.7 314.0,284.7 314.8,284.7 315.5,284.7 316.2,284.7 317.0,284.7 317.8,284.7 318.5,284.7 319.2,284.7 320.0,284.7 320.8,284.7 321.5,284.7 322.2,284.7 323.0,284.7 323.8,284.7 324.5,284.7 325.2,284.7 326.0,284.7 326.8,284.7 327.5,284.7 328.2,284.7 329.0,284.7 329.8,284.7 330.5,284.7 331.2,284.7 332.0,284.7 332.8,284.7 333.5,284.7 334.2,284.7 335.0,284.6 335.8,284.6 336.5,284.6 337.2,284.6 338.0,284.6 338.8,284.6 339.5,284.6 340.2,284.6 341.0,284.6 341.8,284.6 342.5,284.6 343.2,284.6 344.0,284.6 344.8,284.6 345.5,284.6 346.2,284.6 347.0,284.6 347.8,284.6 348.5,284.6 349.2,284.6 350.0,284.6 350.8,284.6 351.5,284.6 352.2,284.6 353.0,284.6 353.8,284.6 354.5,284.6 355.2,284.6 356.0,284.6 356.8,284.6 357.5,284.6 358.2,284.6 359.0,284.6 359.8,284.6 360.5,284.6 361.2,284.6 362.0,284.6 362.8,284.6 363.5,284.6 364.2,284.6 365.0,284.6 365.8,284.6 366.5,284.6 367.2,284.6 368.0,284.6 368.8,284.6 369.5,284.6 370.2,284.6 371.0,284.6 371.8,284.6 372.5,284.6 373.2,284.6 374.0,284.6 374.8,284.6 375.5,284.6 376.2,284.6 377.0,284.5 377.8,284.5 378.5,284.5 379.2,284.5 380.0,284.5 380.8,284.5 381.5,284.5 382.2,284.5 383.0,284.5 383.8,284.5 384.5,284.5 385.2,284.5 386.0,284.4 386.8,284.4 387.5,284.4 388.2,284.4 389.0,284.4 389.8,284.3 390.5,284.3 391.2,284.3 392.0,284.3 392.8,284.2 393.5,284.2 394.2,284.1 395.0,284.1 395.8,284.0 396.5,284.0 397.2,283.9 398.0,283.8 398.8,283.7 399.5,283.7 400.2,283.6 401.0,283.5 401.8,283.4 402.5,283.2 403.2,283.1 404.0,283.0 404.8,282.8 405.5,282.7 406.2,282.5 407.0,282.3 407.8,282.2 408.5,282.0 409.2,281.7 410.0,281.5 410.8,281.3 411.5,281.1 412.2,280.8 413.0,280.6 413.8,280.3 414.5,280.0 415.2,279.7 416.0,279.4 416.8,279.2 417.5,279.1 418.2,279.9 419.0,280.6 419.8,281.2 420.5,281.7 421.2,282.1 422.0,282.5 422.8,282.8 423.5,283.1 424.2,283.3 425.0,283.5 425.8,283.7 426.5,283.8 427.2,284.0 428.0,284.0 428.8,284.1 429.5,284.2 430.2,284.2 431.0,284.3 431.8,284.3 432.5,284.4 433.2,284.4 434.0,284.4 434.8,284.4 435.5,284.4 436.2,284.4 437.0,284.5 437.8,284.5 438.5,284.5 439.2,284.5 440.0,284.5 440.8,284.5 441.5,284.5 442.2,284.5 443.0,284.5 443.8,284.5 444.5,284.5 445.2,284.5 446.0,284.5 446.8,284.5 447.5,284.5 448.2,284.6 449.0,284.6 449.8,284.6 450.5,284.6 451.2,284.6 452.0,284.6 452.8,284.6 453.5,284.6 454.2,284.6 455.0,284.6 455.8,284.6 456.5,284.6 457.2,284.6 458.0,284.6 458.8,284.6 459.5,284.6 460.2,284.6 461.0,284.6 461.8,284.6 462.5,284.6 463.2,284.6 464.0,284.6 464.8,284.6 465.5,284.6 466.2,284.6 467.0,284.6 467.8,284.6 468.5,284.6 469.2,284.6 470.0,284.6 470.8,284.6 471.5,284.6 472.2,284.6 473.0,284.6 473.8,284.6 474.5,284.6 475.2,284.6 476.0,284.6 476.8,284.6 477.5,284.6 478.2,284.6 479.0,284.6 479.8,284.6 480.5,284.6 481.2,284.6 482.0,284.6 482.8,284.6 483.5,284.6 484.2,284.6 485.0,284.6 485.8,284.6 486.5,284.6 487.2,284.6 488.0,284.6 488.8,284.6 489.5,284.7 490.2,284.7 491.0,284.7 491.8,284.7 492.5,284.7 493.2,284.7 494.0,284.7 494.8,284.7 495.5,284.7 496.2,284.7 497.0,284.7 497.8,284.7 498.5,284.7 499.2,284.7 500.0,284.7 500.8,284.7 501.5,284.7 502.2,284.7 503.0,284.7 503.8,284.7 504.5,284.7 505.2,284.7 506.0,284.7 506.8,284.7 507.5,284.7 508.2,284.7 509.0,284.7 509.8,284.7 510.5,284.7 511.2,284.7 512.0,284.7 512.8,284.7 513.5,284.7 514.2,284.7 515.0,284.7 515.8,284.7 516.5,284.7 517.2,284.7 518.0,284.7 518.8,284.7 519.5,284.7 520.2,284.7 521.0,284.7 521.8,284.7 522.5,284.7 523.2,284.7 524.0,284.7 524.8,284.7 525.5,284.7 526.2,284.7 527.0,284.7 527.8,284.7 528.5,284.7 529.2,284.7 530.0,284.7 530.8,284.7 531.5,284.7 532.2,284.7 533.0,284.7 533.8,284.7 534.5,284.7 535.2,284.7 536.0,284.7 536.8,284.7 537.5,284.7 537.5,284.7 Z" fill="#7089cf" stroke="none"/>
<clipPath id="c2"><path d="M300.5,285.2 300.5,284.7 301.2,284.6 302.0,284.6 302.8,284.6 303.5,284.6 304.2,284.6 305.0,284.6 305.8,284.6 306.5,284.6 307.2,284.6 308.0,284.6 308.8,284.6 309.5,284.6 310.2,284.6 311.0,284.6 311.8,284.6 312.5,284.6 313.2,284.6 314.0,284.6 314.8,284.6 315.5,284.6 316.2,284.6 317.0,284.6 317.8,284.6 318.5,284.6 319.2,284.6 320.0,284.6 320.8,284.6 321.5,284.6 322.2,284.6 323.0,284.6 323.8,284.6 324.5,284.6 325.2,284.6 326.0,284.6 326.8,284.6 327.5,284.6 328.2,284.6 329.0,284.6 329.8,284.6 330.5,284.6 331.2,284.6 332.0,284.6 332.8,284.6 333.5,284.6 334.2,284.6 335.0,284.6 335.8,284.6 336.5,284.6 337.2,284.6 338.0,284.6 338.8,284.6 339.5,284.6 340.2,284.6 341.0,284.6 341.8,284.5 342.5,284.5 343.2,284.5 344.0,284.5 344.8,284.5 345.5,284.5 346.2,284.5 347.0,284.5 347.8,284.5 348.5,284.5 349.2,284.5 350.0,284.5 350.8,284.5 351.5,284.5 352.2,284.5 353.0,284.4 353.8,284.4 354.5,284.4 355.2,284.4 356.0,284.4 356.8,284.4 357.5,284.3 358.2,284.3 359.0,284.3 359.8,284.2 360.5,284.2 361.2,284.1 362.0,284.0 362.8,283.9 363.5,283.8 364.2,283.6 365.0,283.4 365.8,283.2 366.5,283.0 367.2,282.7 368.0,282.3 368.8,281.9 369.5,281.4 370.2,280.8 371.0,280.2 371.8,279.4 372.5,278.6 373.2,277.6 374.0,276.5 374.8,275.3 375.5,274.0 376.2,272.5 377.0,270.8 377.8,269.1 378.5,267.1 379.2,265.1 380.0,262.8 380.8,260.5 381.5,258.0 382.2,255.5 383.0,252.8 383.8,250.1 384.5,247.4 385.2,244.6 386.0,241.9 386.8,239.2 387.5,236.6 388.2,234.2 389.0,231.8 389.8,229.7 390.5,227.8 391.2,226.1 392.0,224.8 392.8,223.7 393.5,222.9 394.2,222.5 395.0,222.4 395.8,222.7 396.5,223.3 397.2,224.2 398.0,225.5 398.8,227.0 399.5,228.8 400.2,230.8 401.0,233.1 401.8,235.5 402.5,238.0 403.2,240.6 404.0,243.4 404.8,246.1 405.5,248.9 406.2,251.6 407.0,254.3 407.8,256.9 408.5,259.4 409.2,261.8 410.0,264.0 410.8,266.2 411.5,268.2 412.2,270.0 413.0,271.7 413.8,273.3 414.5,274.7 415.2,276.0 416.0,277.1 416.8,278.2 417.5,279.1 418.2,279.9 419.0,280.6 419.8,281.2 420.5,281.7 421.2,282.1 422.0,282.5 422.8,282.8 423.5,283.1 424.2,283.3 425.0,283.5 425.8,283.7 426.5,283.8 427.2,284.0 428.0,284.0 428.8,284.1 429.5,284.2 430.2,284.2 431.0,284.3 431.8,284.3 432.5,284.4 433.2,284.4 434.0,284.4 434.8,284.4 435.5,284.4 436.2,284.4 437.0,284.5 437.8,284.5 438.5,284.5 439.2,284.5 440.0,284.5 440.8,284.5 441.5,284.5 442.2,284.5 443.0,284.5 443.8,284.5 444.5,284.5 445.2,284.5 446.0,284.5 446.8,284.5 447.5,284.5 448.2,284.6 449.0,284.6 449.8,284.6 450.5,284.6 451.2,284.6 452.0,284.6 452.8,284.6 453.5,284.6 454.2,284.6 455.0,284.6 455.8,284.6 456.5,284.6 457.2,284.6 458.0,284.6 458.8,284.6 459.5,284.6 460.2,284.6 461.0,284.6 461.8,284.6 462.5,284.6 463.2,284.6 464.0,284.6 464.8,284.6 465.5,284.6 466.2,284.6 467.0,284.6 467.8,284.6 468.5,284.6 469.2,284.6 470.0,284.6 470.8,284.6 471.5,284.6 472.2,284.6 473.0,284.6 473.8,284.6 474.5,284.6 475.2,284.6 476.0,284.6 476.8,284.6 477.5,284.6 478.2,284.6 479.0,284.6 479.8,284.6 480.5,284.6 481.2,284.6 482.0,284.6 482.8,284.6 483.5,284.6 484.2,284.6 485.0,284.6 485.8,284.6 486.5,284.6 487.2,284.6 488.0,284.6 488.8,284.6 489.5,284.7 490.2,284.7 491.0,284.7 491.8,284.7 492.5,284.7 493.2,284.7 494.0,284.7 494.8,284.7 495.5,284.7 496.2,284.7 497.0,284.7 497.8,284.7 498.5,284.7 499.2,284.7 500.0,284.7 500.8,284.7 501.5,284.7 502.2,284.7 503.0,284.7 503.8,284.7 504.5,284.7 505.2,284.7 506.0,284.7 506.8,284.7 507.5,284.7 508.2,284.7 509.0,284.7 509.8,284.7 510.5,284.7 511.2,284.7 512.0,284.7 512.8,284.7 513.5,284.7 514.2,284.7 515.0,284.7 515.8,284.7 516.5,284.7 517.2,284.7 518.0,284.7 518.8,284.7 519.5,284.7 520.2,284.7 521.0,284.7 521.8,284.7 522.5,284.7 523.2,284.7 524.0,284.7 524.8,284.7 525.5,284.7 526.2,284.7 527.0,284.7 527.8,284.7 528.5,284.7 529.2,284.7 530.0,284.7 530.8,284.7 531.5,284.7 532.2,284.7 533.0,284.7 533.8,284.7 534.5,284.7 535.2,284.7 536.0,284.7 536.8,284.7 537.5,284.7 537.5,285.2 Z"/></clipPath>
<path d="M300.5,284.7 301.2,284.7 302.0,284.7 302.8,284.7 303.5,284.7 304.2,284.7 305.0,284.7 305.8,284.7 306.5,284.7 307.2,284.7 308.0,284.7 308.8,284.7 309.5,284.7 310.2,284.7 311.0,284.7 311.8,284.7 312.5,284.7 313.2,284.7 314.0,284.7 314.8,284.7 315.5,284.7 316.2,284.7 317.0,284.7 317.8,284.7 318.5,284.7 319.2,284.7 320.0,284.7 320.8,284.7 321.5,284.7 322.2,284.7 323.0,284.7 323.8,284.7 324.5,284.7 325.2,284.7 326.0,284.7 326.8,284.7 327.5,284.7 328.2,284.7 329.0,284.7 329.8,284.7 330.5,284.7 331.2,284.7 332.0,284.7 332.8,284.7 333.5,284.7 334.2,284.7 335.0,284.6 335.8,284.6 336.5,284.6 337.2,284.6 338.0,284.6 338.8,284.6 339.5,284.6 340.2,284.6 341.0,284.6 341.8,284.6 342.5,284.6 343.2,284.6 344.0,284.6 344.8,284.6 345.5,284.6 346.2,284.6 347.0,284.6 347.8,284.6 348.5,284.6 349.2,284.6 350.0,284.6 350.8,284.6 351.5,284.6 352.2,284.6 353.0,284.6 353.8,284.6 354.5,284.6 355.2,284.6 356.0,284.6 356.8,284.6 357.5,284.6 358.2,284.6 359.0,284.6 359.8,284.6 360.5,284.6 361.2,284.6 362.0,284.6 362.8,284.6 363.5,284.6 364.2,284.6 365.0,284.6 365.8,284.6 366.5,284.6 367.2,284.6 368.0,284.6 368.8,284.6 369.5,284.6 370.2,284.6 371.0,284.6 371.8,284.6 372.5,284.6 373.2,284.6 374.0,284.6 374.8,284.6 375.5,284.6 376.2,284.6 377.0,284.5 377.8,284.5 378.5,284.5 379.2,284.5 380.0,284.5 380.8,284.5 381.5,284.5 382.2,284.5 383.0,284.5 383.8,284.5 384.5,284.5 385.2,284.5 386.0,284.4 386.8,284.4 387.5,284.4 388.2,284.4 389.0,284.4 389.8,284.3 390.5,284.3 391.2,284.3 392.0,284.3 392.8,284.2 393.5,284.2 394.2,284.1 395.0,284.1 395.8,284.0 396.5,284.0 397.2,283.9 398.0,283.8 398.8,283.7 399.5,283.7 400.2,283.6 401.0,283.5 401.8,283.4 402.5,283.2 403.2,283.1 404.0,283.0 404.8,282.8 405.5,282.7 406.2,282.5 407.0,282.3 407.8,282.2 408.5,282.0 409.2,281.7 410.0,281.5 410.8,281.3 411.5,281.1 412.2,280.8 413.0,280.6 413.8,280.3 414.5,280.0 415.2,279.7 416.0,279.4 416.8,279.2 417.5,278.9 418.2,278.6 419.0,278.3 419.8,278.0 420.5,277.6 421.2,277.3 422.0,277.1 422.8,276.8 423.5,276.5 424.2,276.2 425.0,275.9 425.8,275.7 426.5,275.4 427.2,275.2 428.0,275.0 428.8,274.8 429.5,274.7 430.2,274.5 431.0,274.4 431.8,274.3 432.5,274.3 433.2,274.2 434.0,274.2 434.8,274.2 435.5,274.3 436.2,274.3 437.0,274.4 437.8,274.5 438.5,274.7 439.2,274.8 440.0,275.0 440.8,275.2 441.5,275.4 442.2,275.7 443.0,275.9 443.8,276.2 444.5,276.5 445.2,276.8 446.0,277.1 446.8,277.3 447.5,277.6 448.2,278.0 449.0,278.3 449.8,278.6 450.5,278.9 451.2,279.2 452.0,279.4 452.8,279.7 453.5,280.0 454.2,280.3 455.0,280.6 455.8,280.8 456.5,281.1 457.2,281.3 458.0,281.5 458.8,281.7 459.5,282.0 460.2,282.2 461.0,282.3 461.8,282.5 462.5,282.7 463.2,282.8 464.0,283.0 464.8,283.1 465.5,283.2 466.2,283.4 467.0,283.5 467.8,283.6 468.5,283.7 469.2,283.7 470.0,283.8 470.8,283.9 471.5,284.0 472.2,284.0 473.0,284.1 473.8,284.1 474.5,284.2 475.2,284.2 476.0,284.3 476.8,284.3 477.5,284.3 478.2,284.3 479.0,284.4 479.8,284.4 480.5,284.4 481.2,284.4 482.0,284.4 482.8,284.5 483.5,284.5 484.2,284.5 485.0,284.5 485.8,284.5 486.5,284.5 487.2,284.5 488.0,284.5 488.8,284.5 489.5,284.5 490.2,284.5 491.0,284.5 491.8,284.6 492.5,284.6 493.2,284.6 494.0,284.6 494.8,284.6 495.5,284.6 496.2,284.6 497.0,284.6 497.8,284.6 498.5,284.6 499.2,284.6 500.0,284.6 500.8,284.6 501.5,284.6 502.2,284.6 503.0,284.6 503.8,284.6 504.5,284.6 505.2,284.6 506.0,284.6 506.8,284.6 507.5,284.6 508.2,284.6 509.0,284.6 509.8,284.6 510.5,284.6 511.2,284.6 512.0,284.6 512.8,284.6 513.5,284.6 514.2,284.6 515.0,284.6 515.8,284.6 516.5,284.6 517.2,284.6 518.0,284.6 518.8,284.6 519.5,284.6 520.2,284.6 521.0,284.6 521.8,284.6 522.5,284.6 523.2,284.6 524.0,284.6 524.8,284.6 525.5,284.6 526.2,284.6 527.0,284.6 527.8,284.6 528.5,284.6 529.2,284.6 530.0,284.6 530.8,284.6 531.5,284.6 532.2,284.6 533.0,284.6 533.8,284.7 534.5,284.7 535.2,284.7 536.0,284.7 536.8,284.7 537.5,284.7" fill="none" stroke="#134060" stroke-width="1.65" clip-path="url(#c2)"/>
<path d="M300.5,284.5 301.2,284.7 302.0,284.5 302.8,284.7 303.5,284.8 304.2,284.6 305.0,284.8 305.8,284.7 306.5,284.8 307.2,284.6 308.0,284.7 308.8,284.7 309.5,284.5 310.2,284.6 311.0,284.6 311.8,284.6 312.5,284.7 313.2,284.8 314.0,284.7 314.8,284.7 315.5,284.5 316.2,284.7 317.0,284.6 317.8,284.8 318.5,284.4 319.2,284.5 320.0,284.8 320.8,284.5 321.5,284.7 322.2,284.6 323.0,284.5 323.8,284.5 324.5,284.6 325.2,284.8 326.0,284.6 326.8,284.7 327.5,284.5 328.2,284.6 329.0,284.6 329.8,284.6 330.5,284.7 331.2,284.4 332.0,284.7 332.8,284.6 333.5,284.4 334.2,284.5 335.0,284.4 335.8,284.4 336.5,284.7 337.2,284.6 338.0,284.7 338.8,284.4 339.5,284.3 340.2,284.5 341.0,284.5 341.8,284.6 342.5,284.4 343.2,284.6 344.0,284.5 344.8,284.4 345.5,284.6 346.2,284.3 347.0,284.5 347.8,284.3 348.5,284.3 349.2,284.4 350.0,284.4 350.8,284.5 351.5,284.3 352.2,284.6 353.0,284.5 353.8,284.2 354.5,284.1 355.2,284.5 356.0,284.3 356.8,284.1 357.5,284.1 358.2,284.3 359.0,284.0 359.8,284.1 360.5,284.1 361.2,283.9 362.0,284.0 362.8,284.0 363.5,283.8 364.2,283.6 365.0,283.4 365.8,283.0 366.5,282.9 367.2,282.6 368.0,282.2 368.8,281.8 369.5,281.4 370.2,280.6 371.0,280.2 371.8,279.5 372.5,278.3 373.2,277.4 374.0,276.6 374.8,275.0 375.5,274.0 376.2,272.4 377.0,270.5 377.8,269.0 378.5,266.8 379.2,265.0 380.0,262.6 380.8,260.5 381.5,258.0 382.2,255.1 383.0,252.6 383.8,249.8 384.5,247.3 385.2,244.2 386.0,241.5 386.8,238.8 387.5,236.5 388.2,233.7 389.0,231.4 389.8,229.3 390.5,227.3 391.2,225.6 392.0,224.3 392.8,222.9 393.5,222.1 394.2,221.8 395.0,221.3 395.8,221.4 396.5,222.2 397.2,222.7 398.0,224.1 398.8,225.4 399.5,226.9 400.2,228.7 401.0,230.7 401.8,233.2 402.5,235.4 403.2,237.8 404.0,240.3 404.8,242.8 405.5,245.6 406.2,247.7 407.0,250.3 407.8,252.7 408.5,254.8 409.2,256.9 410.0,258.9 410.8,260.6 411.5,262.6 412.2,264.2 413.0,265.5 413.8,266.7 414.5,268.1 415.2,268.9 416.0,269.8 416.8,270.8 417.5,271.6 418.2,272.0 419.0,272.3 419.8,273.1 420.5,273.0 421.2,273.3 422.0,273.8 422.8,273.8 423.5,273.8 424.2,273.6 425.0,273.9 425.8,273.6 426.5,273.4 427.2,273.6 428.0,273.6 428.8,273.1 429.5,273.2 430.2,273.3 431.0,273.0 431.8,272.9 432.5,273.1 433.2,272.9 434.0,273.2 434.8,273.1 435.5,273.2 436.2,273.2 437.0,273.1 437.8,273.4 438.5,273.5 439.2,273.6 440.0,273.8 440.8,273.9 441.5,274.1 442.2,274.6 443.0,274.6 443.8,274.7 444.5,275.3 445.2,275.3 446.0,275.6 446.8,275.7 447.5,275.9 448.2,276.2 449.0,276.6 449.8,276.7 450.5,277.1 451.2,277.1 452.0,277.6 452.8,277.5 453.5,277.8 454.2,277.9 455.0,278.2 455.8,278.5 456.5,278.7 457.2,278.9 458.0,279.0 458.8,279.3 459.5,279.6 460.2,280.1 461.0,280.0 461.8,280.4 462.5,280.8 463.2,281.0 464.0,281.1 464.8,281.6 465.5,281.4 466.2,281.6 467.0,281.8 467.8,282.1 468.5,282.4 469.2,282.3 470.0,282.5 470.8,282.8 471.5,282.6 472.2,282.7 473.0,283.1 473.8,282.9 474.5,283.2 475.2,283.1 476.0,283.4 476.8,283.5 477.5,283.4 478.2,283.4 479.0,283.6 479.8,283.7 480.5,283.5 481.2,283.6 482.0,283.7 482.8,283.8 483.5,283.7 484.2,283.9 485.0,283.8 485.8,284.1 486.5,283.9 487.2,283.9 488.0,283.8 488.8,283.9 489.5,283.9 490.2,284.2 491.0,284.1 491.8,284.1 492.5,284.3 493.2,284.3 494.0,284.3 494.8,284.1 495.5,284.1 496.2,284.2 497.0,284.1 497.8,284.2 498.5,284.1 499.2,284.2 500.0,284.4 500.8,284.3 501.5,284.3 502.2,284.3 503.0,284.4 503.8,284.4 504.5,284.1 505.2,284.5 506.0,284.3 506.8,284.3 507.5,284.6 508.2,284.5 509.0,284.3 509.8,284.2 510.5,284.4 511.2,284.4 512.0,284.4 512.8,284.3 513.5,284.5 514.2,284.3 515.0,284.5 515.8,284.5 516.5,284.4 517.2,284.6 518.0,284.4 518.8,284.3 519.5,284.4 520.2,284.3 521.0,284.5 521.8,284.7 522.5,284.7 523.2,284.6 524.0,284.4 524.8,284.4 525.5,284.4 526.2,284.5 527.0,284.6 527.8,284.3 528.5,284.5 529.2,284.5 530.0,284.6 530.8,284.7 531.5,284.5 532.2,284.6 533.0,284.5 533.8,284.5 534.5,284.6 535.2,284.4 536.0,284.6 536.8,284.6 537.5,284.4" fill="none" stroke="#ff1a1a" stroke-width="1.55"/>
<line x1="300.50" y1="284.70" x2="538.00" y2="284.70" stroke="#1a1aff" stroke-width="1.80" />
<line x1="300.50" y1="284.40" x2="538.00" y2="284.40" stroke="#111" stroke-width="1.00" stroke-dasharray="4,5"/>
<path d="M300.5,284.7 301.2,284.6 302.0,284.6 302.8,284.6 303.5,284.6 304.2,284.6 305.0,284.6 305.8,284.6 306.5,284.6 307.2,284.6 308.0,284.6 308.8,284.6 309.5,284.6 310.2,284.6 311.0,284.6 311.8,284.6 312.5,284.6 313.2,284.6 314.0,284.6 314.8,284.6 315.5,284.6 316.2,284.6 317.0,284.6 317.8,284.6 318.5,284.6 319.2,284.6 320.0,284.6 320.8,284.6 321.5,284.6 322.2,284.6 323.0,284.6 323.8,284.6 324.5,284.6 325.2,284.6 326.0,284.6 326.8,284.6 327.5,284.6 328.2,284.6 329.0,284.6 329.8,284.6 330.5,284.6 331.2,284.6 332.0,284.6 332.8,284.6 333.5,284.6 334.2,284.6 335.0,284.6 335.8,284.6 336.5,284.6 337.2,284.6 338.0,284.6 338.8,284.6 339.5,284.6 340.2,284.6 341.0,284.6 341.8,284.5 342.5,284.5 343.2,284.5 344.0,284.5 344.8,284.5 345.5,284.5 346.2,284.5 347.0,284.5 347.8,284.5 348.5,284.5 349.2,284.5 350.0,284.5 350.8,284.5 351.5,284.5 352.2,284.5 353.0,284.4 353.8,284.4 354.5,284.4 355.2,284.4 356.0,284.4 356.8,284.4 357.5,284.3 358.2,284.3 359.0,284.3 359.8,284.2 360.5,284.2 361.2,284.1 362.0,284.0 362.8,283.9 363.5,283.8 364.2,283.6 365.0,283.4 365.8,283.2 366.5,283.0 367.2,282.7 368.0,282.3 368.8,281.9 369.5,281.4 370.2,280.8 371.0,280.2 371.8,279.4 372.5,278.6 373.2,277.6 374.0,276.5 374.8,275.3 375.5,274.0 376.2,272.5 377.0,270.8 377.8,269.1 378.5,267.1 379.2,265.1 380.0,262.8 380.8,260.5 381.5,258.0 382.2,255.5 383.0,252.8 383.8,250.1 384.5,247.4 385.2,244.6 386.0,241.9 386.8,239.2 387.5,236.6 388.2,234.2 389.0,231.8 389.8,229.7 390.5,227.8 391.2,226.1 392.0,224.8 392.8,223.7 393.5,222.9 394.2,222.5 395.0,222.4 395.8,222.7 396.5,223.3 397.2,224.2 398.0,225.5 398.8,227.0 399.5,228.8 400.2,230.8 401.0,233.1 401.8,235.5 402.5,238.0 403.2,240.6 404.0,243.4 404.8,246.1 405.5,248.9 406.2,251.6 407.0,254.3 407.8,256.9 408.5,259.4 409.2,261.8 410.0,264.0 410.8,266.2 411.5,268.2 412.2,270.0 413.0,271.7 413.8,273.3 414.5,274.7 415.2,276.0 416.0,277.1 416.8,278.2 417.5,279.1 418.2,279.9 419.0,280.6 419.8,281.2 420.5,281.7 421.2,282.1 422.0,282.5 422.8,282.8 423.5,283.1 424.2,283.3 425.0,283.5 425.8,283.7 426.5,283.8 427.2,284.0 428.0,284.0 428.8,284.1 429.5,284.2 430.2,284.2 431.0,284.3 431.8,284.3 432.5,284.4 433.2,284.4 434.0,284.4 434.8,284.4 435.5,284.4 436.2,284.4 437.0,284.5 437.8,284.5 438.5,284.5 439.2,284.5 440.0,284.5 440.8,284.5 441.5,284.5 442.2,284.5 443.0,284.5 443.8,284.5 444.5,284.5 445.2,284.5 446.0,284.5 446.8,284.5 447.5,284.5 448.2,284.6 449.0,284.6 449.8,284.6 450.5,284.6 451.2,284.6 452.0,284.6 452.8,284.6 453.5,284.6 454.2,284.6 455.0,284.6 455.8,284.6 456.5,284.6 457.2,284.6 458.0,284.6 458.8,284.6 459.5,284.6 460.2,284.6 461.0,284.6 461.8,284.6 462.5,284.6 463.2,284.6 464.0,284.6 464.8,284.6 465.5,284.6 466.2,284.6 467.0,284.6 467.8,284.6 468.5,284.6 469.2,284.6 470.0,284.6 470.8,284.6 471.5,284.6 472.2,284.6 473.0,284.6 473.8,284.6 474.5,284.6 475.2,284.6 476.0,284.6 476.8,284.6 477.5,284.6 478.2,284.6 479.0,284.6 479.8,284.6 480.5,284.6 481.2,284.6 482.0,284.6 482.8,284.6 483.5,284.6 484.2,284.6 485.0,284.6 485.8,284.6 486.5,284.6 487.2,284.6 488.0,284.6 488.8,284.6 489.5,284.7 490.2,284.7 491.0,284.7 491.8,284.7 492.5,284.7 493.2,284.7 494.0,284.7 494.8,284.7 495.5,284.7 496.2,284.7 497.0,284.7 497.8,284.7 498.5,284.7 499.2,284.7 500.0,284.7 500.8,284.7 501.5,284.7 502.2,284.7 503.0,284.7 503.8,284.7 504.5,284.7 505.2,284.7 506.0,284.7 506.8,284.7 507.5,284.7 508.2,284.7 509.0,284.7 509.8,284.7 510.5,284.7 511.2,284.7 512.0,284.7 512.8,284.7 513.5,284.7 514.2,284.7 515.0,284.7 515.8,284.7 516.5,284.7 517.2,284.7 518.0,284.7 518.8,284.7 519.5,284.7 520.2,284.7 521.0,284.7 521.8,284.7 522.5,284.7 523.2,284.7 524.0,284.7 524.8,284.7 525.5,284.7 526.2,284.7 527.0,284.7 527.8,284.7 528.5,284.7 529.2,284.7 530.0,284.7 530.8,284.7 531.5,284.7 532.2,284.7 533.0,284.7 533.8,284.7 534.5,284.7 535.2,284.7 536.0,284.7 536.8,284.7 537.5,284.7" fill="none" stroke="#1a1aff" stroke-width="1.65"/>
<text x="325.00" y="253.60" font-size="12.50" fill="#1a1a1a" text-anchor="start" textLength="46.40" lengthAdjust="spacingAndGlyphs" stroke="#1a1a1a" stroke-width="0.15" >C-C/C-H</text>
<text x="481.60" y="247.00" font-size="12.50" fill="#1a1a1a" text-anchor="start" textLength="38.00" lengthAdjust="spacingAndGlyphs" stroke="#1a1a1a" stroke-width="0.15" >C-O-H/</text>
<text x="483.60" y="262.40" font-size="12.50" fill="#1a1a1a" text-anchor="start" textLength="34.40" lengthAdjust="spacingAndGlyphs" stroke="#1a1a1a" stroke-width="0.15" >C-O-C</text>
<line x1="373.00" y1="252.50" x2="389.28" y2="262.82" stroke="#222" stroke-width="0.95" />
<path d="M393.50,265.50 L387.04,264.48 L389.83,260.09 Z" fill="#222"/>
<line x1="475.60" y1="264.60" x2="460.00" y2="273.02" stroke="#222" stroke-width="0.95" />
<path d="M455.60,275.40 L459.64,270.26 L462.11,274.84 Z" fill="#222"/>
<rect x="300.00" y="317.50" width="238.30" height="78.10" fill="none" stroke="#585858" stroke-width="1.30"/>
<line x1="300.00" y1="395.60" x2="300.00" y2="398.10" stroke="#333" stroke-width="1.10" />
<text x="300.00" y="408.20" font-size="10.20" fill="#1a1a1a" text-anchor="middle" textLength="14.20" lengthAdjust="spacingAndGlyphs" stroke="#1a1a1a" stroke-width="0.15" >280</text>
<line x1="339.66" y1="395.60" x2="339.66" y2="398.10" stroke="#333" stroke-width="1.10" />
<text x="339.66" y="408.20" font-size="10.20" fill="#1a1a1a" text-anchor="middle" textLength="14.20" lengthAdjust="spacingAndGlyphs" stroke="#1a1a1a" stroke-width="0.15" >282</text>
<line x1="379.32" y1="395.60" x2="379.32" y2="398.10" stroke="#333" stroke-width="1.10" />
<text x="379.32" y="408.20" font-size="10.20" fill="#1a1a1a" text-anchor="middle" textLength="14.20" lengthAdjust="spacingAndGlyphs" stroke="#1a1a1a" stroke-width="0.15" >284</text>
<line x1="418.98" y1="395.60" x2="418.98" y2="398.10" stroke="#333" stroke-width="1.10" />
<text x="418.98" y="408.20" font-size="10.20" fill="#1a1a1a" text-anchor="middle" textLength="14.20" lengthAdjust="spacingAndGlyphs" stroke="#1a1a1a" stroke-width="0.15" >286</text>
<line x1="458.64" y1="395.60" x2="458.64" y2="398.10" stroke="#333" stroke-width="1.10" />
<text x="458.64" y="408.20" font-size="10.20" fill="#1a1a1a" text-anchor="middle" textLength="14.20" lengthAdjust="spacingAndGlyphs" stroke="#1a1a1a" stroke-width="0.15" >288</text>
<line x1="498.30" y1="395.60" x2="498.30" y2="398.10" stroke="#333" stroke-width="1.10" />
<text x="498.30" y="408.20" font-size="10.20" fill="#1a1a1a" text-anchor="middle" textLength="14.20" lengthAdjust="spacingAndGlyphs" stroke="#1a1a1a" stroke-width="0.15" >290</text>
<line x1="537.96" y1="395.60" x2="537.96" y2="398.10" stroke="#333" stroke-width="1.10" />
<text x="537.96" y="408.20" font-size="10.20" fill="#1a1a1a" text-anchor="middle" textLength="14.20" lengthAdjust="spacingAndGlyphs" stroke="#1a1a1a" stroke-width="0.15" >292</text>
<text x="302.40" y="329.60" font-size="10.80" fill="#ff0000" text-anchor="start" textLength="77.60" lengthAdjust="spacingAndGlyphs" stroke="#ff0000" stroke-width="0.25" >MTS/RC-60 C 1s</text>
<path d="M300.5,384.4 300.5,384.3 301.2,384.3 302.0,384.3 302.8,384.3 303.5,384.3 304.2,384.3 305.0,384.3 305.8,384.3 306.5,384.3 307.2,384.3 308.0,384.3 308.8,384.3 309.5,384.3 310.2,384.3 311.0,384.3 311.8,384.3 312.5,384.3 313.2,384.3 314.0,384.3 314.8,384.3 315.5,384.3 316.2,384.3 317.0,384.3 317.8,384.3 318.5,384.3 319.2,384.3 320.0,384.3 320.8,384.3 321.5,384.3 322.2,384.3 323.0,384.3 323.8,384.3 324.5,384.3 325.2,384.3 326.0,384.3 326.8,384.3 327.5,384.3 328.2,384.3 329.0,384.3 329.8,384.3 330.5,384.3 331.2,384.3 332.0,384.3 332.8,384.3 333.5,384.3 334.2,384.3 335.0,384.3 335.8,384.3 336.5,384.3 337.2,384.3 338.0,384.3 338.8,384.3 339.5,384.3 340.2,384.3 341.0,384.3 341.8,384.2 342.5,384.2 343.2,384.2 344.0,384.2 344.8,384.2 345.5,384.2 346.2,384.2 347.0,384.2 347.8,384.2 348.5,384.2 349.2,384.2 350.0,384.2 350.8,384.2 351.5,384.2 352.2,384.2 353.0,384.2 353.8,384.2 354.5,384.1 355.2,384.1 356.0,384.1 356.8,384.1 357.5,384.1 358.2,384.1 359.0,384.0 359.8,384.0 360.5,384.0 361.2,383.9 362.0,383.9 362.8,383.9 363.5,383.8 364.2,383.7 365.0,383.6 365.8,383.5 366.5,383.4 367.2,383.3 368.0,383.1 368.8,382.9 369.5,382.7 370.2,382.4 371.0,382.1 371.8,381.8 372.5,381.4 373.2,380.9 374.0,380.4 374.8,379.8 375.5,379.2 376.2,378.5 377.0,377.7 377.8,376.8 378.5,375.8 379.2,374.8 380.0,373.7 380.8,372.5 381.5,371.2 382.2,369.8 383.0,368.4 383.8,366.9 384.5,365.3 385.2,363.7 386.0,362.1 386.8,360.5 387.5,358.8 388.2,357.2 389.0,355.6 389.8,354.0 390.5,352.6 391.2,351.2 392.0,349.9 392.8,348.8 393.5,347.8 394.2,346.9 395.0,346.3 395.8,345.8 396.5,345.5 397.2,345.4 398.0,345.5 398.8,345.8 399.5,346.3 400.2,347.0 401.0,347.9 401.8,348.9 402.5,350.1 403.2,351.4 404.0,352.8 404.8,354.3 405.5,355.8 406.2,357.4 407.0,359.0 407.8,360.7 408.5,362.3 409.2,363.9 410.0,365.5 410.8,367.1 411.5,368.6 412.2,370.0 413.0,371.3 413.8,372.6 414.5,373.8 415.2,374.9 416.0,376.0 416.8,376.9 417.5,377.8 418.2,378.6 419.0,379.3 419.8,379.9 420.5,380.5 421.2,381.0 422.0,381.4 422.8,381.8 423.5,382.2 424.2,382.5 425.0,382.7 425.8,382.9 426.5,383.1 427.2,383.3 428.0,383.4 428.8,383.5 429.5,383.6 430.2,383.7 431.0,383.8 431.8,383.9 432.5,383.9 433.2,384.0 434.0,384.0 434.8,384.0 435.5,384.0 436.2,384.1 437.0,384.1 437.8,384.1 438.5,384.1 439.2,384.1 440.0,384.1 440.8,384.2 441.5,384.2 442.2,384.2 443.0,384.2 443.8,384.2 444.5,384.2 445.2,384.2 446.0,384.2 446.8,384.2 447.5,384.2 448.2,384.2 449.0,384.2 449.8,384.2 450.5,384.2 451.2,384.2 452.0,384.2 452.8,384.2 453.5,384.3 454.2,384.3 455.0,384.3 455.8,384.3 456.5,384.3 457.2,384.3 458.0,384.3 458.8,384.3 459.5,384.3 460.2,384.3 461.0,384.3 461.8,384.3 462.5,384.3 463.2,384.3 464.0,384.3 464.8,384.3 465.5,384.3 466.2,384.3 467.0,384.3 467.8,384.3 468.5,384.3 469.2,384.3 470.0,384.3 470.8,384.3 471.5,384.3 472.2,384.3 473.0,384.3 473.8,384.3 474.5,384.3 475.2,384.3 476.0,384.3 476.8,384.3 477.5,384.3 478.2,384.3 479.0,384.3 479.8,384.3 480.5,384.3 481.2,384.3 482.0,384.3 482.8,384.3 483.5,384.3 484.2,384.3 485.0,384.3 485.8,384.3 486.5,384.3 487.2,384.3 488.0,384.3 488.8,384.3 489.5,384.3 490.2,384.3 491.0,384.3 491.8,384.3 492.5,384.3 493.2,384.3 494.0,384.3 494.8,384.3 495.5,384.4 496.2,384.4 497.0,384.4 497.8,384.4 498.5,384.4 499.2,384.4 500.0,384.4 500.8,384.4 501.5,384.4 502.2,384.4 503.0,384.4 503.8,384.4 504.5,384.4 505.2,384.4 506.0,384.4 506.8,384.4 507.5,384.4 508.2,384.4 509.0,384.4 509.8,384.4 510.5,384.4 511.2,384.4 512.0,384.4 512.8,384.4 513.5,384.4 514.2,384.4 515.0,384.4 515.8,384.4 516.5,384.4 517.2,384.4 518.0,384.4 518.8,384.4 519.5,384.4 520.2,384.4 521.0,384.4 521.8,384.4 522.5,384.4 523.2,384.4 524.0,384.4 524.8,384.4 525.5,384.4 526.2,384.4 527.0,384.4 527.8,384.4 528.5,384.4 529.2,384.4 530.0,384.4 530.8,384.4 531.5,384.4 532.2,384.4 533.0,384.4 533.8,384.4 534.5,384.4 535.2,384.4 536.0,384.4 536.8,384.4 537.5,384.4 537.5,384.4 Z" fill="#bcbcf6" stroke="none"/>
<path d="M300.5,384.4 300.5,384.4 301.2,384.4 302.0,384.4 302.8,384.4 303.5,384.4 304.2,384.4 305.0,384.4 305.8,384.4 306.5,384.4 307.2,384.4 308.0,384.4 308.8,384.4 309.5,384.4 310.2,384.4 311.0,384.4 311.8,384.4 312.5,384.4 313.2,384.4 314.0,384.4 314.8,384.4 315.5,384.4 316.2,384.4 317.0,384.4 317.8,384.4 318.5,384.4 319.2,384.4 320.0,384.4 320.8,384.4 321.5,384.4 322.2,384.4 323.0,384.4 323.8,384.4 324.5,384.4 325.2,384.4 326.0,384.4 326.8,384.4 327.5,384.4 328.2,384.4 329.0,384.4 329.8,384.4 330.5,384.4 331.2,384.4 332.0,384.4 332.8,384.4 333.5,384.4 334.2,384.4 335.0,384.4 335.8,384.4 336.5,384.4 337.2,384.4 338.0,384.4 338.8,384.4 339.5,384.4 340.2,384.4 341.0,384.3 341.8,384.3 342.5,384.3 343.2,384.3 344.0,384.3 344.8,384.3 345.5,384.3 346.2,384.3 347.0,384.3 347.8,384.3 348.5,384.3 349.2,384.3 350.0,384.3 350.8,384.3 351.5,384.3 352.2,384.3 353.0,384.3 353.8,384.3 354.5,384.3 355.2,384.3 356.0,384.3 356.8,384.3 357.5,384.3 358.2,384.3 359.0,384.3 359.8,384.3 360.5,384.3 361.2,384.3 362.0,384.3 362.8,384.3 363.5,384.3 364.2,384.3 365.0,384.3 365.8,384.3 366.5,384.3 367.2,384.3 368.0,384.3 368.8,384.3 369.5,384.3 370.2,384.3 371.0,384.3 371.8,384.3 372.5,384.3 373.2,384.3 374.0,384.3 374.8,384.3 375.5,384.3 376.2,384.3 377.0,384.3 377.8,384.3 378.5,384.3 379.2,384.3 380.0,384.2 380.8,384.2 381.5,384.2 382.2,384.2 383.0,384.2 383.8,384.2 384.5,384.2 385.2,384.2 386.0,384.2 386.8,384.2 387.5,384.2 388.2,384.1 389.0,384.1 389.8,384.1 390.5,384.1 391.2,384.0 392.0,384.0 392.8,384.0 393.5,384.0 394.2,383.9 395.0,383.9 395.8,383.8 396.5,383.8 397.2,383.7 398.0,383.6 398.8,383.6 399.5,383.5 400.2,383.4 401.0,383.3 401.8,383.2 402.5,383.1 403.2,383.0 404.0,382.9 404.8,382.7 405.5,382.6 406.2,382.4 407.0,382.2 407.8,382.0 408.5,381.8 409.2,381.6 410.0,381.4 410.8,381.2 411.5,381.0 412.2,380.7 413.0,380.4 413.8,380.2 414.5,379.9 415.2,379.6 416.0,379.3 416.8,379.0 417.5,378.7 418.2,378.4 419.0,378.1 419.8,377.8 420.5,377.4 421.2,377.1 422.0,376.8 422.8,376.5 423.5,376.3 424.2,376.0 425.0,375.7 425.8,375.5 426.5,375.2 427.2,375.0 428.0,374.8 428.8,374.7 429.5,374.5 430.2,374.4 431.0,374.3 431.8,374.2 432.5,374.2 433.2,374.2 434.0,374.2 434.8,374.3 435.5,374.4 436.2,374.5 437.0,374.6 437.8,374.8 438.5,375.0 439.2,375.2 440.0,375.4 440.8,375.6 441.5,375.9 442.2,376.2 443.0,376.4 443.8,376.7 444.5,377.0 445.2,377.3 446.0,377.7 446.8,378.0 447.5,378.3 448.2,378.6 449.0,378.9 449.8,379.2 450.5,379.5 451.2,379.8 452.0,380.1 452.8,380.3 453.5,380.6 454.2,380.9 455.0,381.1 455.8,381.3 456.5,381.6 457.2,381.8 458.0,382.0 458.8,382.2 459.5,382.3 460.2,382.5 461.0,382.7 461.8,382.8 462.5,382.9 463.2,383.1 464.0,383.2 464.8,383.3 465.5,383.4 466.2,383.5 467.0,383.6 467.8,383.6 468.5,383.7 469.2,383.8 470.0,383.8 470.8,383.9 471.5,383.9 472.2,383.9 473.0,384.0 473.8,384.0 474.5,384.0 475.2,384.1 476.0,384.1 476.8,384.1 477.5,384.1 478.2,384.1 479.0,384.2 479.8,384.2 480.5,384.2 481.2,384.2 482.0,384.2 482.8,384.2 483.5,384.2 484.2,384.2 485.0,384.2 485.8,384.2 486.5,384.3 487.2,384.3 488.0,384.3 488.8,384.3 489.5,384.3 490.2,384.3 491.0,384.3 491.8,384.3 492.5,384.3 493.2,384.3 494.0,384.3 494.8,384.3 495.5,384.3 496.2,384.3 497.0,384.3 497.8,384.3 498.5,384.3 499.2,384.3 500.0,384.3 500.8,384.3 501.5,384.3 502.2,384.3 503.0,384.3 503.8,384.3 504.5,384.3 505.2,384.3 506.0,384.3 506.8,384.3 507.5,384.3 508.2,384.3 509.0,384.3 509.8,384.3 510.5,384.3 511.2,384.3 512.0,384.3 512.8,384.3 513.5,384.3 514.2,384.3 515.0,384.3 515.8,384.3 516.5,384.3 517.2,384.3 518.0,384.3 518.8,384.3 519.5,384.3 520.2,384.3 521.0,384.3 521.8,384.3 522.5,384.3 523.2,384.3 524.0,384.3 524.8,384.3 525.5,384.4 526.2,384.4 527.0,384.4 527.8,384.4 528.5,384.4 529.2,384.4 530.0,384.4 530.8,384.4 531.5,384.4 532.2,384.4 533.0,384.4 533.8,384.4 534.5,384.4 535.2,384.4 536.0,384.4 536.8,384.4 537.5,384.4 537.5,384.4 Z" fill="#b0dcb8" stroke="none"/>
<path d="M300.5,384.4 300.5,384.4 301.2,384.4 302.0,384.4 302.8,384.4 303.5,384.4 304.2,384.4 305.0,384.4 305.8,384.4 306.5,384.4 307.2,384.4 308.0,384.4 308.8,384.4 309.5,384.4 310.2,384.4 311.0,384.4 311.8,384.4 312.5,384.4 313.2,384.4 314.0,384.4 314.8,384.4 315.5,384.4 316.2,384.4 317.0,384.4 317.8,384.4 318.5,384.4 319.2,384.4 320.0,384.4 320.8,384.4 321.5,384.4 322.2,384.4 323.0,384.4 323.8,384.4 324.5,384.4 325.2,384.4 326.0,384.4 326.8,384.4 327.5,384.4 328.2,384.4 329.0,384.4 329.8,384.4 330.5,384.4 331.2,384.4 332.0,384.4 332.8,384.4 333.5,384.4 334.2,384.4 335.0,384.4 335.8,384.4 336.5,384.4 337.2,384.4 338.0,384.4 338.8,384.4 339.5,384.4 340.2,384.4 341.0,384.3 341.8,384.3 342.5,384.3 343.2,384.3 344.0,384.3 344.8,384.3 345.5,384.3 346.2,384.3 347.0,384.3 347.8,384.3 348.5,384.3 349.2,384.3 350.0,384.3 350.8,384.3 351.5,384.3 352.2,384.3 353.0,384.3 353.8,384.3 354.5,384.3 355.2,384.3 356.0,384.3 356.8,384.3 357.5,384.3 358.2,384.3 359.0,384.3 359.8,384.3 360.5,384.3 361.2,384.3 362.0,384.3 362.8,384.3 363.5,384.3 364.2,384.3 365.0,384.3 365.8,384.3 366.5,384.3 367.2,384.3 368.0,384.3 368.8,384.3 369.5,384.3 370.2,384.3 371.0,384.3 371.8,384.3 372.5,384.3 373.2,384.3 374.0,384.3 374.8,384.3 375.5,384.3 376.2,384.3 377.0,384.3 377.8,384.3 378.5,384.3 379.2,384.3 380.0,384.2 380.8,384.2 381.5,384.2 382.2,384.2 383.0,384.2 383.8,384.2 384.5,384.2 385.2,384.2 386.0,384.2 386.8,384.2 387.5,384.2 388.2,384.1 389.0,384.1 389.8,384.1 390.5,384.1 391.2,384.0 392.0,384.0 392.8,384.0 393.5,384.0 394.2,383.9 395.0,383.9 395.8,383.8 396.5,383.8 397.2,383.7 398.0,383.6 398.8,383.6 399.5,383.5 400.2,383.4 401.0,383.3 401.8,383.2 402.5,383.1 403.2,383.0 404.0,382.9 404.8,382.7 405.5,382.6 406.2,382.4 407.0,382.2 407.8,382.0 408.5,381.8 409.2,381.6 410.0,381.4 410.8,381.2 411.5,381.0 412.2,380.7 413.0,380.4 413.8,380.2 414.5,379.9 415.2,379.6 416.0,379.3 416.8,379.0 417.5,378.7 418.2,378.6 419.0,379.3 419.8,379.9 420.5,380.5 421.2,381.0 422.0,381.4 422.8,381.8 423.5,382.2 424.2,382.5 425.0,382.7 425.8,382.9 426.5,383.1 427.2,383.3 428.0,383.4 428.8,383.5 429.5,383.6 430.2,383.7 431.0,383.8 431.8,383.9 432.5,383.9 433.2,384.0 434.0,384.0 434.8,384.0 435.5,384.0 436.2,384.1 437.0,384.1 437.8,384.1 438.5,384.1 439.2,384.1 440.0,384.1 440.8,384.2 441.5,384.2 442.2,384.2 443.0,384.2 443.8,384.2 444.5,384.2 445.2,384.2 446.0,384.2 446.8,384.2 447.5,384.2 448.2,384.2 449.0,384.2 449.8,384.2 450.5,384.2 451.2,384.2 452.0,384.2 452.8,384.2 453.5,384.3 454.2,384.3 455.0,384.3 455.8,384.3 456.5,384.3 457.2,384.3 458.0,384.3 458.8,384.3 459.5,384.3 460.2,384.3 461.0,384.3 461.8,384.3 462.5,384.3 463.2,384.3 464.0,384.3 464.8,384.3 465.5,384.3 466.2,384.3 467.0,384.3 467.8,384.3 468.5,384.3 469.2,384.3 470.0,384.3 470.8,384.3 471.5,384.3 472.2,384.3 473.0,384.3 473.8,384.3 474.5,384.3 475.2,384.3 476.0,384.3 476.8,384.3 477.5,384.3 478.2,384.3 479.0,384.3 479.8,384.3 480.5,384.3 481.2,384.3 482.0,384.3 482.8,384.3 483.5,384.3 484.2,384.3 485.0,384.3 485.8,384.3 486.5,384.3 487.2,384.3 488.0,384.3 488.8,384.3 489.5,384.3 490.2,384.3 491.0,384.3 491.8,384.3 492.5,384.3 493.2,384.3 494.0,384.3 494.8,384.3 495.5,384.4 496.2,384.4 497.0,384.4 497.8,384.4 498.5,384.4 499.2,384.4 500.0,384.4 500.8,384.4 501.5,384.4 502.2,384.4 503.0,384.4 503.8,384.4 504.5,384.4 505.2,384.4 506.0,384.4 506.8,384.4 507.5,384.4 508.2,384.4 509.0,384.4 509.8,384.4 510.5,384.4 511.2,384.4 512.0,384.4 512.8,384.4 513.5,384.4 514.2,384.4 515.0,384.4 515.8,384.4 516.5,384.4 517.2,384.4 518.0,384.4 518.8,384.4 519.5,384.4 520.2,384.4 521.0,384.4 521.8,384.4 522.5,384.4 523.2,384.4 524.0,384.4 524.8,384.4 525.5,384.4 526.2,384.4 527.0,384.4 527.8,384.4 528.5,384.4 529.2,384.4 530.0,384.4 530.8,384.4 531.5,384.4 532.2,384.4 533.0,384.4 533.8,384.4 534.5,384.4 535.2,384.4 536.0,384.4 536.8,384.4 537.5,384.4 537.5,384.4 Z" fill="#5a9a9a" stroke="none"/>
<path d="M300.5,384.4 300.5,384.4 301.2,384.4 302.0,384.4 302.8,384.4 303.5,384.4 304.2,384.4 305.0,384.4 305.8,384.4 306.5,384.4 307.2,384.4 308.0,384.4 308.8,384.4 309.5,384.4 310.2,384.4 311.0,384.4 311.8,384.4 312.5,384.4 313.2,384.4 314.0,384.4 314.8,384.4 315.5,384.4 316.2,384.4 317.0,384.4 317.8,384.4 318.5,384.4 319.2,384.4 320.0,384.4 320.8,384.4 321.5,384.4 322.2,384.4 323.0,384.4 323.8,384.4 324.5,384.4 325.2,384.4 326.0,384.4 326.8,384.4 327.5,384.4 328.2,384.4 329.0,384.4 329.8,384.4 330.5,384.4 331.2,384.4 332.0,384.4 332.8,384.4 333.5,384.4 334.2,384.4 335.0,384.4 335.8,384.3 336.5,384.3 337.2,384.3 338.0,384.3 338.8,384.3 339.5,384.3 340.2,384.3 341.0,384.3 341.8,384.3 342.5,384.3 343.2,384.3 344.0,384.3 344.8,384.3 345.5,384.3 346.2,384.3 347.0,384.3 347.8,384.3 348.5,384.3 349.2,384.3 350.0,384.3 350.8,384.3 351.5,384.3 352.2,384.3 353.0,384.2 353.8,384.2 354.5,384.2 355.2,384.2 356.0,384.2 356.8,384.1 357.5,384.1 358.2,384.0 359.0,384.0 359.8,383.9 360.5,383.9 361.2,383.8 362.0,383.7 362.8,383.6 363.5,383.5 364.2,383.3 365.0,383.2 365.8,383.0 366.5,382.8 367.2,382.6 368.0,382.3 368.8,382.1 369.5,381.8 370.2,381.5 371.0,381.2 371.8,380.8 372.5,380.5 373.2,380.1 374.0,379.7 374.8,379.3 375.5,378.9 376.2,378.5 377.0,378.1 377.8,377.7 378.5,377.3 379.2,376.9 380.0,376.5 380.8,376.2 381.5,375.9 382.2,375.6 383.0,375.4 383.8,375.2 384.5,375.1 385.2,375.0 386.0,375.0 386.8,375.0 387.5,375.1 388.2,375.2 389.0,375.4 389.8,375.6 390.5,375.9 391.2,376.2 392.0,376.5 392.8,376.9 393.5,377.3 394.2,377.7 395.0,378.1 395.8,378.5 396.5,378.9 397.2,379.3 398.0,379.7 398.8,380.1 399.5,380.5 400.2,380.8 401.0,381.2 401.8,381.5 402.5,381.8 403.2,382.1 404.0,382.3 404.8,382.6 405.5,382.8 406.2,383.0 407.0,383.2 407.8,383.3 408.5,383.5 409.2,383.6 410.0,383.7 410.8,383.8 411.5,383.9 412.2,383.9 413.0,384.0 413.8,384.0 414.5,384.1 415.2,384.1 416.0,384.2 416.8,384.2 417.5,384.2 418.2,384.2 419.0,384.2 419.8,384.3 420.5,384.3 421.2,384.3 422.0,384.3 422.8,384.3 423.5,384.3 424.2,384.3 425.0,384.3 425.8,384.3 426.5,384.3 427.2,384.3 428.0,384.3 428.8,384.3 429.5,384.3 430.2,384.3 431.0,384.3 431.8,384.3 432.5,384.3 433.2,384.3 434.0,384.3 434.8,384.3 435.5,384.3 436.2,384.3 437.0,384.4 437.8,384.4 438.5,384.4 439.2,384.4 440.0,384.4 440.8,384.4 441.5,384.4 442.2,384.4 443.0,384.4 443.8,384.4 444.5,384.4 445.2,384.4 446.0,384.4 446.8,384.4 447.5,384.4 448.2,384.4 449.0,384.4 449.8,384.4 450.5,384.4 451.2,384.4 452.0,384.4 452.8,384.4 453.5,384.4 454.2,384.4 455.0,384.4 455.8,384.4 456.5,384.4 457.2,384.4 458.0,384.4 458.8,384.4 459.5,384.4 460.2,384.4 461.0,384.4 461.8,384.4 462.5,384.4 463.2,384.4 464.0,384.4 464.8,384.4 465.5,384.4 466.2,384.4 467.0,384.4 467.8,384.4 468.5,384.4 469.2,384.4 470.0,384.4 470.8,384.4 471.5,384.4 472.2,384.4 473.0,384.4 473.8,384.4 474.5,384.4 475.2,384.4 476.0,384.4 476.8,384.4 477.5,384.4 478.2,384.4 479.0,384.4 479.8,384.4 480.5,384.4 481.2,384.4 482.0,384.4 482.8,384.4 483.5,384.4 484.2,384.4 485.0,384.4 485.8,384.4 486.5,384.4 487.2,384.4 488.0,384.4 488.8,384.4 489.5,384.4 490.2,384.4 491.0,384.4 491.8,384.4 492.5,384.4 493.2,384.4 494.0,384.4 494.8,384.4 495.5,384.4 496.2,384.4 497.0,384.4 497.8,384.4 498.5,384.4 499.2,384.4 500.0,384.4 500.8,384.4 501.5,384.4 502.2,384.4 503.0,384.4 503.8,384.4 504.5,384.4 505.2,384.4 506.0,384.4 506.8,384.4 507.5,384.4 508.2,384.4 509.0,384.4 509.8,384.4 510.5,384.4 511.2,384.4 512.0,384.4 512.8,384.4 513.5,384.4 514.2,384.4 515.0,384.4 515.8,384.4 516.5,384.4 517.2,384.4 518.0,384.4 518.8,384.4 519.5,384.4 520.2,384.4 521.0,384.4 521.8,384.4 522.5,384.4 523.2,384.4 524.0,384.4 524.8,384.4 525.5,384.4 526.2,384.4 527.0,384.4 527.8,384.4 528.5,384.4 529.2,384.4 530.0,384.4 530.8,384.4 531.5,384.4 532.2,384.4 533.0,384.4 533.8,384.4 534.5,384.4 535.2,384.4 536.0,384.4 536.8,384.4 537.5,384.4 537.5,384.4 Z" fill="#946aec" stroke="none"/>
<line x1="300.50" y1="384.30" x2="538.00" y2="384.30" stroke="#1a1aff" stroke-width="1.20" />
<path d="M300.5,383.9 301.2,384.1 302.0,383.9 302.8,383.9 303.5,383.9 304.2,384.0 305.0,384.0 305.8,383.9 306.5,383.9 307.2,383.9 308.0,384.0 308.8,384.0 309.5,383.8 310.2,384.0 311.0,383.9 311.8,384.2 312.5,384.2 313.2,383.8 314.0,384.1 314.8,383.9 315.5,383.8 316.2,384.1 317.0,384.1 317.8,384.1 318.5,384.0 319.2,384.2 320.0,384.0 320.8,384.0 321.5,384.0 322.2,384.1 323.0,384.1 323.8,383.9 324.5,383.8 325.2,384.0 326.0,384.0 326.8,383.9 327.5,384.1 328.2,384.1 329.0,384.0 329.8,383.9 330.5,384.0 331.2,383.8 332.0,384.0 332.8,383.7 333.5,384.1 334.2,383.9 335.0,383.8 335.8,383.8 336.5,383.9 337.2,383.9 338.0,383.9 338.8,383.7 339.5,384.0 340.2,383.8 341.0,383.8 341.8,383.9 342.5,383.9 343.2,383.8 344.0,383.7 344.8,383.8 345.5,383.6 346.2,383.7 347.0,383.9 347.8,383.6 348.5,383.6 349.2,383.9 350.0,383.7 350.8,383.7 351.5,383.7 352.2,383.8 353.0,383.6 353.8,383.7 354.5,383.4 355.2,383.7 356.0,383.4 356.8,383.5 357.5,383.3 358.2,383.4 359.0,383.2 359.8,383.2 360.5,383.0 361.2,383.1 362.0,382.9 362.8,382.5 363.5,382.6 364.2,382.4 365.0,381.9 365.8,381.6 366.5,381.6 367.2,381.2 368.0,380.5 368.8,380.3 369.5,379.8 370.2,379.0 371.0,378.6 371.8,377.7 372.5,377.1 373.2,376.2 374.0,375.3 374.8,374.2 375.5,373.3 376.2,372.2 377.0,370.8 377.8,369.4 378.5,368.1 379.2,366.7 380.0,365.5 380.8,363.9 381.5,362.4 382.2,360.7 383.0,358.8 383.8,357.2 384.5,355.7 385.2,354.0 386.0,352.4 386.8,350.7 387.5,349.1 388.2,347.6 389.0,346.2 389.8,344.7 390.5,343.3 391.2,342.3 392.0,341.2 392.8,340.5 393.5,339.9 394.2,339.3 395.0,339.0 395.8,338.8 396.5,339.0 397.2,339.3 398.0,339.8 398.8,340.6 399.5,341.0 400.2,342.0 401.0,343.1 401.8,344.6 402.5,345.9 403.2,347.3 404.0,348.8 404.8,350.1 405.5,352.0 406.2,353.3 407.0,355.0 407.8,356.5 408.5,358.1 409.2,359.4 410.0,360.7 410.8,362.0 411.5,363.4 412.2,364.4 413.0,365.2 413.8,366.2 414.5,367.1 415.2,367.7 416.0,368.4 416.8,369.1 417.5,369.4 418.2,369.9 419.0,370.0 419.8,370.5 420.5,370.8 421.2,370.8 422.0,370.8 422.8,371.0 423.5,371.4 424.2,371.5 425.0,371.6 425.8,371.6 426.5,371.7 427.2,371.7 428.0,372.0 428.8,372.3 429.5,372.0 430.2,372.3 431.0,372.5 431.8,372.6 432.5,372.6 433.2,372.7 434.0,373.0 434.8,373.3 435.5,373.4 436.2,373.4 437.0,373.7 437.8,373.9 438.5,373.9 439.2,374.3 440.0,374.3 440.8,374.5 441.5,374.6 442.2,375.1 443.0,375.4 443.8,375.3 444.5,375.5 445.2,375.9 446.0,376.0 446.8,376.5 447.5,376.5 448.2,376.8 449.0,377.0 449.8,377.2 450.5,377.6 451.2,377.6 452.0,377.9 452.8,378.2 453.5,378.3 454.2,378.4 455.0,378.9 455.8,379.1 456.5,379.2 457.2,379.4 458.0,379.7 458.8,379.8 459.5,380.0 460.2,380.4 461.0,380.7 461.8,380.6 462.5,381.1 463.2,381.0 464.0,381.4 464.8,381.5 465.5,381.4 466.2,381.5 467.0,381.9 467.8,382.1 468.5,382.1 469.2,382.1 470.0,382.2 470.8,382.4 471.5,382.5 472.2,382.5 473.0,382.4 473.8,382.7 474.5,382.8 475.2,382.7 476.0,382.5 476.8,382.6 477.5,382.9 478.2,382.8 479.0,383.1 479.8,383.0 480.5,383.1 481.2,382.9 482.0,383.1 482.8,383.2 483.5,383.3 484.2,383.3 485.0,383.1 485.8,383.2 486.5,383.4 487.2,383.1 488.0,383.1 488.8,383.2 489.5,383.4 490.2,383.3 491.0,383.4 491.8,383.5 492.5,383.5 493.2,383.2 494.0,383.5 494.8,383.6 495.5,383.6 496.2,383.6 497.0,383.6 497.8,383.6 498.5,383.7 499.2,383.6 500.0,383.4 500.8,383.5 501.5,383.8 502.2,383.5 503.0,383.6 503.8,383.8 504.5,383.7 505.2,383.8 506.0,383.6 506.8,383.7 507.5,383.5 508.2,383.6 509.0,383.6 509.8,383.7 510.5,383.7 511.2,383.6 512.0,383.8 512.8,383.6 513.5,383.7 514.2,383.6 515.0,383.8 515.8,383.6 516.5,384.0 517.2,383.7 518.0,383.9 518.8,383.8 519.5,383.8 520.2,384.0 521.0,383.7 521.8,383.8 522.5,383.9 523.2,384.0 524.0,383.9 524.8,383.7 525.5,383.8 526.2,384.1 527.0,384.0 527.8,383.8 528.5,383.7 529.2,383.8 530.0,384.0 530.8,383.8 531.5,384.1 532.2,383.8 533.0,384.0 533.8,384.0 534.5,383.8 535.2,383.9 536.0,384.0 536.8,383.8 537.5,384.0" fill="none" stroke="#ff1a1a" stroke-width="1.55"/>
<path d="M300.5,384.3 301.2,384.3 302.0,384.3 302.8,384.3 303.5,384.3 304.2,384.3 305.0,384.3 305.8,384.3 306.5,384.3 307.2,384.3 308.0,384.3 308.8,384.3 309.5,384.3 310.2,384.3 311.0,384.3 311.8,384.3 312.5,384.3 313.2,384.3 314.0,384.3 314.8,384.3 315.5,384.3 316.2,384.3 317.0,384.3 317.8,384.3 318.5,384.3 319.2,384.3 320.0,384.3 320.8,384.3 321.5,384.3 322.2,384.3 323.0,384.3 323.8,384.3 324.5,384.3 325.2,384.3 326.0,384.3 326.8,384.3 327.5,384.3 328.2,384.3 329.0,384.3 329.8,384.3 330.5,384.3 331.2,384.3 332.0,384.3 332.8,384.3 333.5,384.3 334.2,384.3 335.0,384.3 335.8,384.3 336.5,384.3 337.2,384.3 338.0,384.3 338.8,384.3 339.5,384.3 340.2,384.3 341.0,384.3 341.8,384.2 342.5,384.2 343.2,384.2 344.0,384.2 344.8,384.2 345.5,384.2 346.2,384.2 347.0,384.2 347.8,384.2 348.5,384.2 349.2,384.2 350.0,384.2 350.8,384.2 351.5,384.2 352.2,384.2 353.0,384.2 353.8,384.2 354.5,384.1 355.2,384.1 356.0,384.1 356.8,384.1 357.5,384.1 358.2,384.1 359.0,384.0 359.8,384.0 360.5,384.0 361.2,383.9 362.0,383.9 362.8,383.9 363.5,383.8 364.2,383.7 365.0,383.6 365.8,383.5 366.5,383.4 367.2,383.3 368.0,383.1 368.8,382.9 369.5,382.7 370.2,382.4 371.0,382.1 371.8,381.8 372.5,381.4 373.2,380.9 374.0,380.4 374.8,379.8 375.5,379.2 376.2,378.5 377.0,377.7 377.8,376.8 378.5,375.8 379.2,374.8 380.0,373.7 380.8,372.5 381.5,371.2 382.2,369.8 383.0,368.4 383.8,366.9 384.5,365.3 385.2,363.7 386.0,362.1 386.8,360.5 387.5,358.8 388.2,357.2 389.0,355.6 389.8,354.0 390.5,352.6 391.2,351.2 392.0,349.9 392.8,348.8 393.5,347.8 394.2,346.9 395.0,346.3 395.8,345.8 396.5,345.5 397.2,345.4 398.0,345.5 398.8,345.8 399.5,346.3 400.2,347.0 401.0,347.9 401.8,348.9 402.5,350.1 403.2,351.4 404.0,352.8 404.8,354.3 405.5,355.8 406.2,357.4 407.0,359.0 407.8,360.7 408.5,362.3 409.2,363.9 410.0,365.5 410.8,367.1 411.5,368.6 412.2,370.0 413.0,371.3 413.8,372.6 414.5,373.8 415.2,374.9 416.0,376.0 416.8,376.9 417.5,377.8 418.2,378.6 419.0,379.3 419.8,379.9 420.5,380.5 421.2,381.0 422.0,381.4 422.8,381.8 423.5,382.2 424.2,382.5 425.0,382.7 425.8,382.9 426.5,383.1 427.2,383.3 428.0,383.4 428.8,383.5 429.5,383.6 430.2,383.7 431.0,383.8 431.8,383.9 432.5,383.9 433.2,384.0 434.0,384.0 434.8,384.0 435.5,384.0 436.2,384.1 437.0,384.1 437.8,384.1 438.5,384.1 439.2,384.1 440.0,384.1 440.8,384.2 441.5,384.2 442.2,384.2 443.0,384.2 443.8,384.2 444.5,384.2 445.2,384.2 446.0,384.2 446.8,384.2 447.5,384.2 448.2,384.2 449.0,384.2 449.8,384.2 450.5,384.2 451.2,384.2 452.0,384.2 452.8,384.2 453.5,384.3 454.2,384.3 455.0,384.3 455.8,384.3 456.5,384.3 457.2,384.3 458.0,384.3 458.8,384.3 459.5,384.3 460.2,384.3 461.0,384.3 461.8,384.3 462.5,384.3 463.2,384.3 464.0,384.3 464.8,384.3 465.5,384.3 466.2,384.3 467.0,384.3 467.8,384.3 468.5,384.3 469.2,384.3 470.0,384.3 470.8,384.3 471.5,384.3 472.2,384.3 473.0,384.3 473.8,384.3 474.5,384.3 475.2,384.3 476.0,384.3 476.8,384.3 477.5,384.3 478.2,384.3 479.0,384.3 479.8,384.3 480.5,384.3 481.2,384.3 482.0,384.3 482.8,384.3 483.5,384.3 484.2,384.3 485.0,384.3 485.8,384.3 486.5,384.3 487.2,384.3 488.0,384.3 488.8,384.3 489.5,384.3 490.2,384.3 491.0,384.3 491.8,384.3 492.5,384.3 493.2,384.3 494.0,384.3 494.8,384.3 495.5,384.4 496.2,384.4 497.0,384.4 497.8,384.4 498.5,384.4 499.2,384.4 500.0,384.4 500.8,384.4 501.5,384.4 502.2,384.4 503.0,384.4 503.8,384.4 504.5,384.4 505.2,384.4 506.0,384.4 506.8,384.4 507.5,384.4 508.2,384.4 509.0,384.4 509.8,384.4 510.5,384.4 511.2,384.4 512.0,384.4 512.8,384.4 513.5,384.4 514.2,384.4 515.0,384.4 515.8,384.4 516.5,384.4 517.2,384.4 518.0,384.4 518.8,384.4 519.5,384.4 520.2,384.4 521.0,384.4 521.8,384.4 522.5,384.4 523.2,384.4 524.0,384.4 524.8,384.4 525.5,384.4 526.2,384.4 527.0,384.4 527.8,384.4 528.5,384.4 529.2,384.4 530.0,384.4 530.8,384.4 531.5,384.4 532.2,384.4 533.0,384.4 533.8,384.4 534.5,384.4 535.2,384.4 536.0,384.4 536.8,384.4 537.5,384.4" fill="none" stroke="#1a1aff" stroke-width="1.65"/>
<clipPath id="c3"><path d="M300.5,384.4 300.5,384.4 301.2,384.4 302.0,384.4 302.8,384.4 303.5,384.4 304.2,384.4 305.0,384.4 305.8,384.4 306.5,384.4 307.2,384.4 308.0,384.4 308.8,384.4 309.5,384.4 310.2,384.4 311.0,384.4 311.8,384.4 312.5,384.4 313.2,384.4 314.0,384.4 314.8,384.4 315.5,384.4 316.2,384.4 317.0,384.4 317.8,384.4 318.5,384.4 319.2,384.4 320.0,384.4 320.8,384.4 321.5,384.4 322.2,384.4 323.0,384.4 323.8,384.4 324.5,384.4 325.2,384.4 326.0,384.4 326.8,384.4 327.5,384.4 328.2,384.4 329.0,384.4 329.8,384.4 330.5,384.4 331.2,384.4 332.0,384.4 332.8,384.4 333.5,384.4 334.2,384.4 335.0,384.4 335.8,384.4 336.5,384.4 337.2,384.4 338.0,384.4 338.8,384.4 339.5,384.4 340.2,384.4 341.0,384.3 341.8,384.3 342.5,384.3 343.2,384.3 344.0,384.3 344.8,384.3 345.5,384.3 346.2,384.3 347.0,384.3 347.8,384.3 348.5,384.3 349.2,384.3 350.0,384.3 350.8,384.3 351.5,384.3 352.2,384.3 353.0,384.3 353.8,384.3 354.5,384.3 355.2,384.3 356.0,384.3 356.8,384.3 357.5,384.3 358.2,384.3 359.0,384.3 359.8,384.3 360.5,384.3 361.2,384.3 362.0,384.3 362.8,384.3 363.5,384.3 364.2,384.3 365.0,384.3 365.8,384.3 366.5,384.3 367.2,384.3 368.0,384.3 368.8,384.3 369.5,384.3 370.2,384.3 371.0,384.3 371.8,384.3 372.5,384.3 373.2,384.3 374.0,384.3 374.8,384.3 375.5,384.3 376.2,384.3 377.0,384.3 377.8,384.3 378.5,384.3 379.2,384.3 380.0,384.2 380.8,384.2 381.5,384.2 382.2,384.2 383.0,384.2 383.8,384.2 384.5,384.2 385.2,384.2 386.0,384.2 386.8,384.2 387.5,384.2 388.2,384.1 389.0,384.1 389.8,384.1 390.5,384.1 391.2,384.0 392.0,384.0 392.8,384.0 393.5,384.0 394.2,383.9 395.0,383.9 395.8,383.8 396.5,383.8 397.2,383.7 398.0,383.6 398.8,383.6 399.5,383.5 400.2,383.4 401.0,383.3 401.8,383.2 402.5,383.1 403.2,383.0 404.0,382.9 404.8,382.7 405.5,382.6 406.2,382.4 407.0,382.2 407.8,382.0 408.5,381.8 409.2,381.6 410.0,381.4 410.8,381.2 411.5,381.0 412.2,380.7 413.0,380.4 413.8,380.2 414.5,379.9 415.2,379.6 416.0,379.3 416.8,379.0 417.5,378.7 418.2,378.4 419.0,378.1 419.8,377.8 420.5,377.4 421.2,377.1 422.0,376.8 422.8,376.5 423.5,376.3 424.2,376.0 425.0,375.7 425.8,375.5 426.5,375.2 427.2,375.0 428.0,374.8 428.8,374.7 429.5,374.5 430.2,374.4 431.0,374.3 431.8,374.2 432.5,374.2 433.2,374.2 434.0,374.2 434.8,374.3 435.5,374.4 436.2,374.5 437.0,374.6 437.8,374.8 438.5,375.0 439.2,375.2 440.0,375.4 440.8,375.6 441.5,375.9 442.2,376.2 443.0,376.4 443.8,376.7 444.5,377.0 445.2,377.3 446.0,377.7 446.8,378.0 447.5,378.3 448.2,378.6 449.0,378.9 449.8,379.2 450.5,379.5 451.2,379.8 452.0,380.1 452.8,380.3 453.5,380.6 454.2,380.9 455.0,381.1 455.8,381.3 456.5,381.6 457.2,381.8 458.0,382.0 458.8,382.2 459.5,382.3 460.2,382.5 461.0,382.7 461.8,382.8 462.5,382.9 463.2,383.1 464.0,383.2 464.8,383.3 465.5,383.4 466.2,383.5 467.0,383.6 467.8,383.6 468.5,383.7 469.2,383.8 470.0,383.8 470.8,383.9 471.5,383.9 472.2,383.9 473.0,384.0 473.8,384.0 474.5,384.0 475.2,384.1 476.0,384.1 476.8,384.1 477.5,384.1 478.2,384.1 479.0,384.2 479.8,384.2 480.5,384.2 481.2,384.2 482.0,384.2 482.8,384.2 483.5,384.2 484.2,384.2 485.0,384.2 485.8,384.2 486.5,384.3 487.2,384.3 488.0,384.3 488.8,384.3 489.5,384.3 490.2,384.3 491.0,384.3 491.8,384.3 492.5,384.3 493.2,384.3 494.0,384.3 494.8,384.3 495.5,384.3 496.2,384.3 497.0,384.3 497.8,384.3 498.5,384.3 499.2,384.3 500.0,384.3 500.8,384.3 501.5,384.3 502.2,384.3 503.0,384.3 503.8,384.3 504.5,384.3 505.2,384.3 506.0,384.3 506.8,384.3 507.5,384.3 508.2,384.3 509.0,384.3 509.8,384.3 510.5,384.3 511.2,384.3 512.0,384.3 512.8,384.3 513.5,384.3 514.2,384.3 515.0,384.3 515.8,384.3 516.5,384.3 517.2,384.3 518.0,384.3 518.8,384.3 519.5,384.3 520.2,384.3 521.0,384.3 521.8,384.3 522.5,384.3 523.2,384.3 524.0,384.3 524.8,384.3 525.5,384.4 526.2,384.4 527.0,384.4 527.8,384.4 528.5,384.4 529.2,384.4 530.0,384.4 530.8,384.4 531.5,384.4 532.2,384.4 533.0,384.4 533.8,384.4 534.5,384.4 535.2,384.4 536.0,384.4 536.8,384.4 537.5,384.4 537.5,384.4 Z"/></clipPath>
<path d="M300.5,384.3 301.2,384.3 302.0,384.3 302.8,384.3 303.5,384.3 304.2,384.3 305.0,384.3 305.8,384.3 306.5,384.3 307.2,384.3 308.0,384.3 308.8,384.3 309.5,384.3 310.2,384.3 311.0,384.3 311.8,384.3 312.5,384.3 313.2,384.3 314.0,384.3 314.8,384.3 315.5,384.3 316.2,384.3 317.0,384.3 317.8,384.3 318.5,384.3 319.2,384.3 320.0,384.3 320.8,384.3 321.5,384.3 322.2,384.3 323.0,384.3 323.8,384.3 324.5,384.3 325.2,384.3 326.0,384.3 326.8,384.3 327.5,384.3 328.2,384.3 329.0,384.3 329.8,384.3 330.5,384.3 331.2,384.3 332.0,384.3 332.8,384.3 333.5,384.3 334.2,384.3 335.0,384.3 335.8,384.3 336.5,384.3 337.2,384.3 338.0,384.3 338.8,384.3 339.5,384.3 340.2,384.3 341.0,384.3 341.8,384.2 342.5,384.2 343.2,384.2 344.0,384.2 344.8,384.2 345.5,384.2 346.2,384.2 347.0,384.2 347.8,384.2 348.5,384.2 349.2,384.2 350.0,384.2 350.8,384.2 351.5,384.2 352.2,384.2 353.0,384.2 353.8,384.2 354.5,384.1 355.2,384.1 356.0,384.1 356.8,384.1 357.5,384.1 358.2,384.1 359.0,384.0 359.8,384.0 360.5,384.0 361.2,383.9 362.0,383.9 362.8,383.9 363.5,383.8 364.2,383.7 365.0,383.6 365.8,383.5 366.5,383.4 367.2,383.3 368.0,383.1 368.8,382.9 369.5,382.7 370.2,382.4 371.0,382.1 371.8,381.8 372.5,381.4 373.2,380.9 374.0,380.4 374.8,379.8 375.5,379.2 376.2,378.5 377.0,377.7 377.8,376.8 378.5,375.8 379.2,374.8 380.0,373.7 380.8,372.5 381.5,371.2 382.2,369.8 383.0,368.4 383.8,366.9 384.5,365.3 385.2,363.7 386.0,362.1 386.8,360.5 387.5,358.8 388.2,357.2 389.0,355.6 389.8,354.0 390.5,352.6 391.2,351.2 392.0,349.9 392.8,348.8 393.5,347.8 394.2,346.9 395.0,346.3 395.8,345.8 396.5,345.5 397.2,345.4 398.0,345.5 398.8,345.8 399.5,346.3 400.2,347.0 401.0,347.9 401.8,348.9 402.5,350.1 403.2,351.4 404.0,352.8 404.8,354.3 405.5,355.8 406.2,357.4 407.0,359.0 407.8,360.7 408.5,362.3 409.2,363.9 410.0,365.5 410.8,367.1 411.5,368.6 412.2,370.0 413.0,371.3 413.8,372.6 414.5,373.8 415.2,374.9 416.0,376.0 416.8,376.9 417.5,377.8 418.2,378.6 419.0,379.3 419.8,379.9 420.5,380.5 421.2,381.0 422.0,381.4 422.8,381.8 423.5,382.2 424.2,382.5 425.0,382.7 425.8,382.9 426.5,383.1 427.2,383.3 428.0,383.4 428.8,383.5 429.5,383.6 430.2,383.7 431.0,383.8 431.8,383.9 432.5,383.9 433.2,384.0 434.0,384.0 434.8,384.0 435.5,384.0 436.2,384.1 437.0,384.1 437.8,384.1 438.5,384.1 439.2,384.1 440.0,384.1 440.8,384.2 441.5,384.2 442.2,384.2 443.0,384.2 443.8,384.2 444.5,384.2 445.2,384.2 446.0,384.2 446.8,384.2 447.5,384.2 448.2,384.2 449.0,384.2 449.8,384.2 450.5,384.2 451.2,384.2 452.0,384.2 452.8,384.2 453.5,384.3 454.2,384.3 455.0,384.3 455.8,384.3 456.5,384.3 457.2,384.3 458.0,384.3 458.8,384.3 459.5,384.3 460.2,384.3 461.0,384.3 461.8,384.3 462.5,384.3 463.2,384.3 464.0,384.3 464.8,384.3 465.5,384.3 466.2,384.3 467.0,384.3 467.8,384.3 468.5,384.3 469.2,384.3 470.0,384.3 470.8,384.3 471.5,384.3 472.2,384.3 473.0,384.3 473.8,384.3 474.5,384.3 475.2,384.3 476.0,384.3 476.8,384.3 477.5,384.3 478.2,384.3 479.0,384.3 479.8,384.3 480.5,384.3 481.2,384.3 482.0,384.3 482.8,384.3 483.5,384.3 484.2,384.3 485.0,384.3 485.8,384.3 486.5,384.3 487.2,384.3 488.0,384.3 488.8,384.3 489.5,384.3 490.2,384.3 491.0,384.3 491.8,384.3 492.5,384.3 493.2,384.3 494.0,384.3 494.8,384.3 495.5,384.4 496.2,384.4 497.0,384.4 497.8,384.4 498.5,384.4 499.2,384.4 500.0,384.4 500.8,384.4 501.5,384.4 502.2,384.4 503.0,384.4 503.8,384.4 504.5,384.4 505.2,384.4 506.0,384.4 506.8,384.4 507.5,384.4 508.2,384.4 509.0,384.4 509.8,384.4 510.5,384.4 511.2,384.4 512.0,384.4 512.8,384.4 513.5,384.4 514.2,384.4 515.0,384.4 515.8,384.4 516.5,384.4 517.2,384.4 518.0,384.4 518.8,384.4 519.5,384.4 520.2,384.4 521.0,384.4 521.8,384.4 522.5,384.4 523.2,384.4 524.0,384.4 524.8,384.4 525.5,384.4 526.2,384.4 527.0,384.4 527.8,384.4 528.5,384.4 529.2,384.4 530.0,384.4 530.8,384.4 531.5,384.4 532.2,384.4 533.0,384.4 533.8,384.4 534.5,384.4 535.2,384.4 536.0,384.4 536.8,384.4 537.5,384.4" fill="none" stroke="#1a3a8a" stroke-width="1.65" clip-path="url(#c3)"/>
<path d="M300.5,384.4 301.2,384.4 302.0,384.4 302.8,384.4 303.5,384.4 304.2,384.4 305.0,384.4 305.8,384.4 306.5,384.4 307.2,384.4 308.0,384.4 308.8,384.4 309.5,384.4 310.2,384.4 311.0,384.4 311.8,384.4 312.5,384.4 313.2,384.4 314.0,384.4 314.8,384.4 315.5,384.4 316.2,384.4 317.0,384.4 317.8,384.4 318.5,384.4 319.2,384.4 320.0,384.4 320.8,384.4 321.5,384.4 322.2,384.4 323.0,384.4 323.8,384.4 324.5,384.4 325.2,384.4 326.0,384.4 326.8,384.4 327.5,384.4 328.2,384.4 329.0,384.4 329.8,384.4 330.5,384.4 331.2,384.4 332.0,384.4 332.8,384.4 333.5,384.4 334.2,384.4 335.0,384.4 335.8,384.3 336.5,384.3 337.2,384.3 338.0,384.3 338.8,384.3 339.5,384.3 340.2,384.3 341.0,384.3 341.8,384.3 342.5,384.3 343.2,384.3 344.0,384.3 344.8,384.3 345.5,384.3 346.2,384.3 347.0,384.3 347.8,384.3 348.5,384.3 349.2,384.3 350.0,384.3 350.8,384.3 351.5,384.3 352.2,384.3 353.0,384.2 353.8,384.2 354.5,384.2 355.2,384.2 356.0,384.2 356.8,384.1 357.5,384.1 358.2,384.0 359.0,384.0 359.8,383.9 360.5,383.9 361.2,383.8 362.0,383.7 362.8,383.6 363.5,383.5 364.2,383.3 365.0,383.2 365.8,383.0 366.5,382.8 367.2,382.6 368.0,382.3 368.8,382.1 369.5,381.8 370.2,381.5 371.0,381.2 371.8,380.8 372.5,380.5 373.2,380.1 374.0,379.7 374.8,379.3 375.5,378.9 376.2,378.5 377.0,378.1 377.8,377.7 378.5,377.3 379.2,376.9 380.0,376.5 380.8,376.2 381.5,375.9 382.2,375.6 383.0,375.4 383.8,375.2 384.5,375.1 385.2,375.0 386.0,375.0 386.8,375.0 387.5,375.1 388.2,375.2 389.0,375.4 389.8,375.6 390.5,375.9 391.2,376.2 392.0,376.5 392.8,376.9 393.5,377.3 394.2,377.7 395.0,378.1 395.8,378.5 396.5,378.9 397.2,379.3 398.0,379.7 398.8,380.1 399.5,380.5 400.2,380.8 401.0,381.2 401.8,381.5 402.5,381.8 403.2,382.1 404.0,382.3 404.8,382.6 405.5,382.8 406.2,383.0 407.0,383.2 407.8,383.3 408.5,383.5 409.2,383.6 410.0,383.7 410.8,383.8 411.5,383.9 412.2,383.9 413.0,384.0 413.8,384.0 414.5,384.1 415.2,384.1 416.0,384.2 416.8,384.2 417.5,384.2 418.2,384.2 419.0,384.2 419.8,384.3 420.5,384.3 421.2,384.3 422.0,384.3 422.8,384.3 423.5,384.3 424.2,384.3 425.0,384.3 425.8,384.3 426.5,384.3 427.2,384.3 428.0,384.3 428.8,384.3 429.5,384.3 430.2,384.3 431.0,384.3 431.8,384.3 432.5,384.3 433.2,384.3 434.0,384.3 434.8,384.3 435.5,384.3 436.2,384.3 437.0,384.4 437.8,384.4 438.5,384.4 439.2,384.4 440.0,384.4 440.8,384.4 441.5,384.4 442.2,384.4 443.0,384.4 443.8,384.4 444.5,384.4 445.2,384.4 446.0,384.4 446.8,384.4 447.5,384.4 448.2,384.4 449.0,384.4 449.8,384.4 450.5,384.4 451.2,384.4 452.0,384.4 452.8,384.4 453.5,384.4 454.2,384.4 455.0,384.4 455.8,384.4 456.5,384.4 457.2,384.4 458.0,384.4 458.8,384.4 459.5,384.4 460.2,384.4 461.0,384.4 461.8,384.4 462.5,384.4 463.2,384.4 464.0,384.4 464.8,384.4 465.5,384.4 466.2,384.4 467.0,384.4 467.8,384.4 468.5,384.4 469.2,384.4 470.0,384.4 470.8,384.4 471.5,384.4 472.2,384.4 473.0,384.4 473.8,384.4 474.5,384.4 475.2,384.4 476.0,384.4 476.8,384.4 477.5,384.4 478.2,384.4 479.0,384.4 479.8,384.4 480.5,384.4 481.2,384.4 482.0,384.4 482.8,384.4 483.5,384.4 484.2,384.4 485.0,384.4 485.8,384.4 486.5,384.4 487.2,384.4 488.0,384.4 488.8,384.4 489.5,384.4 490.2,384.4 491.0,384.4 491.8,384.4 492.5,384.4 493.2,384.4 494.0,384.4 494.8,384.4 495.5,384.4 496.2,384.4 497.0,384.4 497.8,384.4 498.5,384.4 499.2,384.4 500.0,384.4 500.8,384.4 501.5,384.4 502.2,384.4 503.0,384.4 503.8,384.4 504.5,384.4 505.2,384.4 506.0,384.4 506.8,384.4 507.5,384.4 508.2,384.4 509.0,384.4 509.8,384.4 510.5,384.4 511.2,384.4 512.0,384.4 512.8,384.4 513.5,384.4 514.2,384.4 515.0,384.4 515.8,384.4 516.5,384.4 517.2,384.4 518.0,384.4 518.8,384.4 519.5,384.4 520.2,384.4 521.0,384.4 521.8,384.4 522.5,384.4 523.2,384.4 524.0,384.4 524.8,384.4 525.5,384.4 526.2,384.4 527.0,384.4 527.8,384.4 528.5,384.4 529.2,384.4 530.0,384.4 530.8,384.4 531.5,384.4 532.2,384.4 533.0,384.4 533.8,384.4 534.5,384.4 535.2,384.4 536.0,384.4 536.8,384.4 537.5,384.4" fill="none" stroke="#7a30ee" stroke-width="1.55"/>
<path d="M300.5,384.4 301.2,384.4 302.0,384.4 302.8,384.4 303.5,384.4 304.2,384.4 305.0,384.4 305.8,384.4 306.5,384.4 307.2,384.4 308.0,384.4 308.8,384.4 309.5,384.4 310.2,384.4 311.0,384.4 311.8,384.4 312.5,384.4 313.2,384.4 314.0,384.4 314.8,384.4 315.5,384.4 316.2,384.4 317.0,384.4 317.8,384.4 318.5,384.4 319.2,384.4 320.0,384.4 320.8,384.4 321.5,384.4 322.2,384.4 323.0,384.4 323.8,384.4 324.5,384.4 325.2,384.4 326.0,384.4 326.8,384.4 327.5,384.4 328.2,384.4 329.0,384.4 329.8,384.4 330.5,384.4 331.2,384.4 332.0,384.4 332.8,384.4 333.5,384.4 334.2,384.4 335.0,384.4 335.8,384.4 336.5,384.4 337.2,384.4 338.0,384.4 338.8,384.4 339.5,384.4 340.2,384.4 341.0,384.3 341.8,384.3 342.5,384.3 343.2,384.3 344.0,384.3 344.8,384.3 345.5,384.3 346.2,384.3 347.0,384.3 347.8,384.3 348.5,384.3 349.2,384.3 350.0,384.3 350.8,384.3 351.5,384.3 352.2,384.3 353.0,384.3 353.8,384.3 354.5,384.3 355.2,384.3 356.0,384.3 356.8,384.3 357.5,384.3 358.2,384.3 359.0,384.3 359.8,384.3 360.5,384.3 361.2,384.3 362.0,384.3 362.8,384.3 363.5,384.3 364.2,384.3 365.0,384.3 365.8,384.3 366.5,384.3 367.2,384.3 368.0,384.3 368.8,384.3 369.5,384.3 370.2,384.3 371.0,384.3 371.8,384.3 372.5,384.3 373.2,384.3 374.0,384.3 374.8,384.3 375.5,384.3 376.2,384.3 377.0,384.3 377.8,384.3 378.5,384.3 379.2,384.3 380.0,384.2 380.8,384.2 381.5,384.2 382.2,384.2 383.0,384.2 383.8,384.2 384.5,384.2 385.2,384.2 386.0,384.2 386.8,384.2 387.5,384.2 388.2,384.1 389.0,384.1 389.8,384.1 390.5,384.1 391.2,384.0 392.0,384.0 392.8,384.0 393.5,384.0 394.2,383.9 395.0,383.9 395.8,383.8 396.5,383.8 397.2,383.7 398.0,383.6 398.8,383.6 399.5,383.5 400.2,383.4 401.0,383.3 401.8,383.2 402.5,383.1 403.2,383.0 404.0,382.9 404.8,382.7 405.5,382.6 406.2,382.4 407.0,382.2 407.8,382.0 408.5,381.8 409.2,381.6 410.0,381.4 410.8,381.2 411.5,381.0 412.2,380.7 413.0,380.4 413.8,380.2 414.5,379.9 415.2,379.6 416.0,379.3 416.8,379.0 417.5,378.7 418.2,378.4 419.0,378.1 419.8,377.8 420.5,377.4 421.2,377.1 422.0,376.8 422.8,376.5 423.5,376.3 424.2,376.0 425.0,375.7 425.8,375.5 426.5,375.2 427.2,375.0 428.0,374.8 428.8,374.7 429.5,374.5 430.2,374.4 431.0,374.3 431.8,374.2 432.5,374.2 433.2,374.2 434.0,374.2 434.8,374.3 435.5,374.4 436.2,374.5 437.0,374.6 437.8,374.8 438.5,375.0 439.2,375.2 440.0,375.4 440.8,375.6 441.5,375.9 442.2,376.2 443.0,376.4 443.8,376.7 444.5,377.0 445.2,377.3 446.0,377.7 446.8,378.0 447.5,378.3 448.2,378.6 449.0,378.9 449.8,379.2 450.5,379.5 451.2,379.8 452.0,380.1 452.8,380.3 453.5,380.6 454.2,380.9 455.0,381.1 455.8,381.3 456.5,381.6 457.2,381.8 458.0,382.0 458.8,382.2 459.5,382.3 460.2,382.5 461.0,382.7 461.8,382.8 462.5,382.9 463.2,383.1 464.0,383.2 464.8,383.3 465.5,383.4 466.2,383.5 467.0,383.6 467.8,383.6 468.5,383.7 469.2,383.8 470.0,383.8 470.8,383.9 471.5,383.9 472.2,383.9 473.0,384.0 473.8,384.0 474.5,384.0 475.2,384.1 476.0,384.1 476.8,384.1 477.5,384.1 478.2,384.1 479.0,384.2 479.8,384.2 480.5,384.2 481.2,384.2 482.0,384.2 482.8,384.2 483.5,384.2 484.2,384.2 485.0,384.2 485.8,384.2 486.5,384.3 487.2,384.3 488.0,384.3 488.8,384.3 489.5,384.3 490.2,384.3 491.0,384.3 491.8,384.3 492.5,384.3 493.2,384.3 494.0,384.3 494.8,384.3 495.5,384.3 496.2,384.3 497.0,384.3 497.8,384.3 498.5,384.3 499.2,384.3 500.0,384.3 500.8,384.3 501.5,384.3 502.2,384.3 503.0,384.3 503.8,384.3 504.5,384.3 505.2,384.3 506.0,384.3 506.8,384.3 507.5,384.3 508.2,384.3 509.0,384.3 509.8,384.3 510.5,384.3 511.2,384.3 512.0,384.3 512.8,384.3 513.5,384.3 514.2,384.3 515.0,384.3 515.8,384.3 516.5,384.3 517.2,384.3 518.0,384.3 518.8,384.3 519.5,384.3 520.2,384.3 521.0,384.3 521.8,384.3 522.5,384.3 523.2,384.3 524.0,384.3 524.8,384.3 525.5,384.4 526.2,384.4 527.0,384.4 527.8,384.4 528.5,384.4 529.2,384.4 530.0,384.4 530.8,384.4 531.5,384.4 532.2,384.4 533.0,384.4 533.8,384.4 534.5,384.4 535.2,384.4 536.0,384.4 536.8,384.4 537.5,384.4" fill="none" stroke="#108010" stroke-width="1.65"/>
<line x1="300.50" y1="385.00" x2="538.00" y2="385.00" stroke="#108010" stroke-width="1.50" />
<line x1="300.50" y1="384.60" x2="538.00" y2="384.60" stroke="#111" stroke-width="0.90" stroke-dasharray="4,5"/>
<text x="310.60" y="365.00" font-size="12.50" fill="#1a1a1a" text-anchor="start" textLength="36.40" lengthAdjust="spacingAndGlyphs" stroke="#1a1a1a" stroke-width="0.15" >C-Si-O</text>
<text x="423.00" y="342.00" font-size="12.50" fill="#1a1a1a" text-anchor="start" textLength="46.00" lengthAdjust="spacingAndGlyphs" stroke="#1a1a1a" stroke-width="0.15" >C-C/C-H</text>
<text x="476.00" y="354.40" font-size="12.50" fill="#1a1a1a" text-anchor="start" textLength="38.00" lengthAdjust="spacingAndGlyphs" stroke="#1a1a1a" stroke-width="0.15" >C-O-H/</text>
<text x="478.00" y="370.00" font-size="12.50" fill="#1a1a1a" text-anchor="start" textLength="34.00" lengthAdjust="spacingAndGlyphs" stroke="#1a1a1a" stroke-width="0.15" >C-O-C</text>
<line x1="351.00" y1="370.00" x2="370.76" y2="376.61" stroke="#222" stroke-width="0.95" />
<path d="M375.50,378.20 L368.99,378.76 L370.64,373.83 Z" fill="#222"/>
<line x1="427.40" y1="348.40" x2="413.42" y2="357.31" stroke="#222" stroke-width="0.95" />
<path d="M409.20,360.00 L412.86,354.58 L415.66,358.97 Z" fill="#222"/>
<line x1="466.60" y1="361.00" x2="441.60" y2="371.64" stroke="#222" stroke-width="0.95" />
<path d="M437.00,373.60 L441.50,368.86 L443.54,373.64 Z" fill="#222"/>
<text x="419.60" y="422.30" font-size="11.80" fill="#1a1a1a" text-anchor="middle" textLength="92.30" lengthAdjust="spacingAndGlyphs" stroke="#1a1a1a" stroke-width="0.15" >Binding Energy (eV)</text>
<text x="0.00" y="0.00" font-size="12.80" fill="#1a1a1a" text-anchor="middle" textLength="77.00" lengthAdjust="spacingAndGlyphs" stroke="#1a1a1a" stroke-width="0.15" transform="translate(288.8,294.8) rotate(-90)">Intensity (a.u.)</text>
</svg>
</body></html>
